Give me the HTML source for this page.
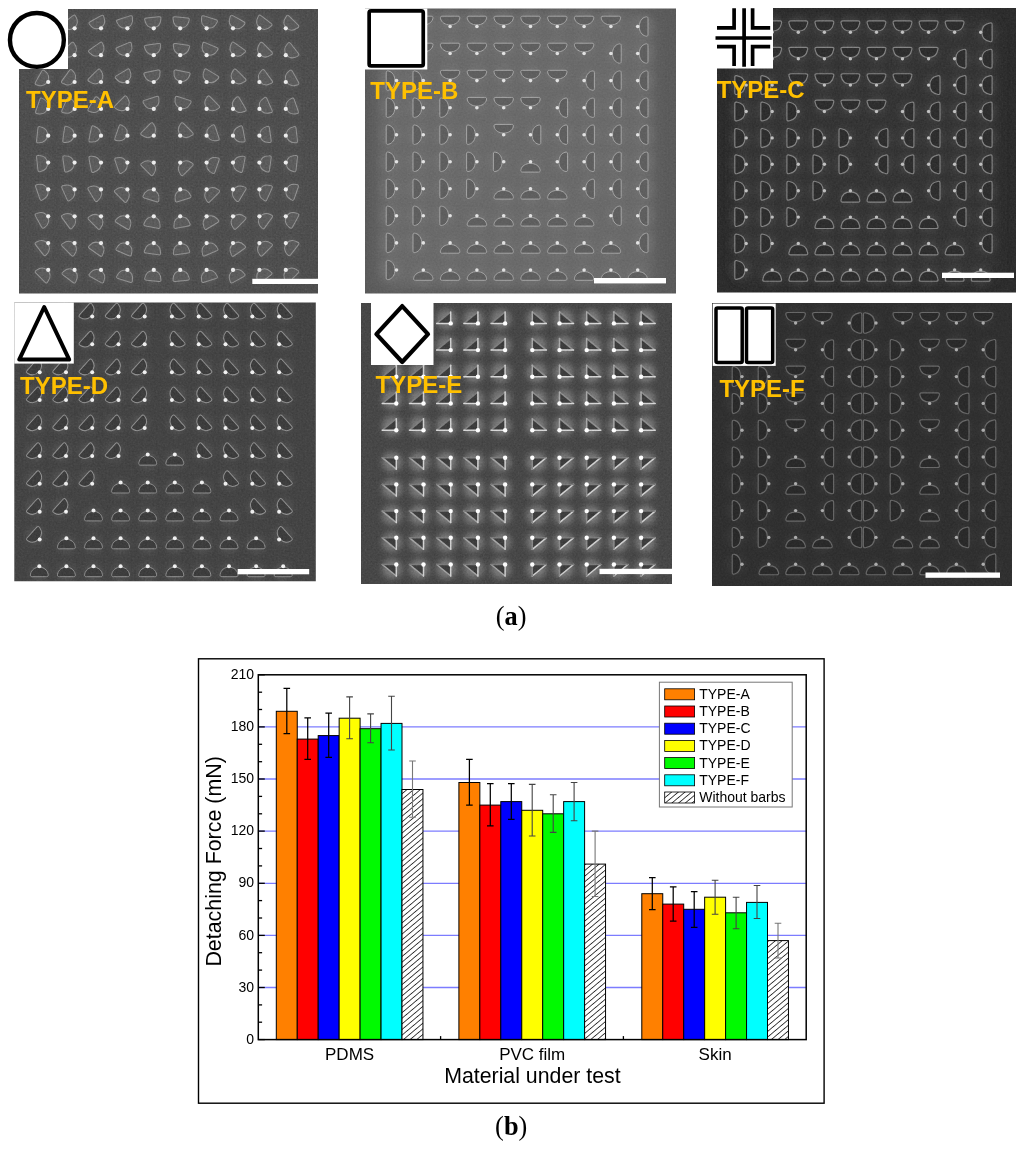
<!DOCTYPE html>
<html lang="en"><head><meta charset="utf-8"><title>Barb types and detaching force</title>
<style>html,body{margin:0;padding:0;background:#fff}body{width:1024px;height:1149px;overflow:hidden}svg{display:block}</style>
</head><body>
<svg width="1024" height="1149" viewBox="0 0 1024 1149">
<defs>
<filter id="glow" x="-20%" y="-20%" width="140%" height="140%"><feGaussianBlur stdDeviation="3"/></filter>
<filter id="glow2" x="-20%" y="-20%" width="140%" height="140%"><feGaussianBlur stdDeviation="7"/></filter>
<filter id="soft" x="-5%" y="-5%" width="110%" height="110%"><feGaussianBlur stdDeviation="0.45"/></filter>
<filter id="grainA" x="0" y="0" width="100%" height="100%" color-interpolation-filters="sRGB"><feTurbulence type="fractalNoise" baseFrequency="0.55" numOctaves="2" seed="3" result="t"/><feColorMatrix in="t" type="matrix" values="0.34 0.33 0.33 0 0  0.34 0.33 0.33 0 0  0.34 0.33 0.33 0 0  0 0 0 0 1" result="n"/><feComposite in="SourceGraphic" in2="n" operator="arithmetic" k1="0" k2="1" k3="0.16" k4="-0.080"/></filter>
<filter id="grainB" x="0" y="0" width="100%" height="100%" color-interpolation-filters="sRGB"><feTurbulence type="fractalNoise" baseFrequency="0.55" numOctaves="2" seed="4" result="t"/><feColorMatrix in="t" type="matrix" values="0.34 0.33 0.33 0 0  0.34 0.33 0.33 0 0  0.34 0.33 0.33 0 0  0 0 0 0 1" result="n"/><feComposite in="SourceGraphic" in2="n" operator="arithmetic" k1="0" k2="1" k3="0.1" k4="-0.050"/></filter>
<filter id="grainC" x="0" y="0" width="100%" height="100%" color-interpolation-filters="sRGB"><feTurbulence type="fractalNoise" baseFrequency="0.55" numOctaves="2" seed="5" result="t"/><feColorMatrix in="t" type="matrix" values="0.34 0.33 0.33 0 0  0.34 0.33 0.33 0 0  0.34 0.33 0.33 0 0  0 0 0 0 1" result="n"/><feComposite in="SourceGraphic" in2="n" operator="arithmetic" k1="0" k2="1" k3="0.14" k4="-0.070"/></filter>
<filter id="grainD" x="0" y="0" width="100%" height="100%" color-interpolation-filters="sRGB"><feTurbulence type="fractalNoise" baseFrequency="0.55" numOctaves="2" seed="6" result="t"/><feColorMatrix in="t" type="matrix" values="0.34 0.33 0.33 0 0  0.34 0.33 0.33 0 0  0.34 0.33 0.33 0 0  0 0 0 0 1" result="n"/><feComposite in="SourceGraphic" in2="n" operator="arithmetic" k1="0" k2="1" k3="0.14" k4="-0.070"/></filter>
<filter id="grainE" x="0" y="0" width="100%" height="100%" color-interpolation-filters="sRGB"><feTurbulence type="fractalNoise" baseFrequency="0.55" numOctaves="2" seed="7" result="t"/><feColorMatrix in="t" type="matrix" values="0.34 0.33 0.33 0 0  0.34 0.33 0.33 0 0  0.34 0.33 0.33 0 0  0 0 0 0 1" result="n"/><feComposite in="SourceGraphic" in2="n" operator="arithmetic" k1="0" k2="1" k3="0.16" k4="-0.080"/></filter>
<filter id="grainF" x="0" y="0" width="100%" height="100%" color-interpolation-filters="sRGB"><feTurbulence type="fractalNoise" baseFrequency="0.55" numOctaves="2" seed="8" result="t"/><feColorMatrix in="t" type="matrix" values="0.34 0.33 0.33 0 0  0.34 0.33 0.33 0 0  0.34 0.33 0.33 0 0  0 0 0 0 1" result="n"/><feComposite in="SourceGraphic" in2="n" operator="arithmetic" k1="0" k2="1" k3="0.1" k4="-0.050"/></filter>
<pattern id="hatch" width="8" height="4.3" patternUnits="userSpaceOnUse" patternTransform="rotate(-40)"><rect width="8" height="4.3" fill="#fff"/><path d="M-1,2.15H9" stroke="#1a1a1a" stroke-width="0.85"/></pattern>
</defs>
<rect width="1024" height="1149" fill="#fff"/>
<g id="panel-A">
<clipPath id="clipA"><rect x="19" y="9" width="299.0" height="284.4"/></clipPath>
<g clip-path="url(#clipA)"><g filter="url(#grainA)">
<rect x="17" y="7" width="303.0" height="288.4" fill="#4e4e4e"/>
<g filter="url(#glow)" opacity="0.45" fill="#707070">
<circle cx="44.0" cy="24.0" r="8"/>
<circle cx="71.0" cy="23.5" r="8"/>
<circle cx="98.1" cy="23.0" r="8"/>
<circle cx="125.5" cy="22.6" r="8"/>
<circle cx="153.1" cy="22.3" r="8"/>
<circle cx="180.9" cy="22.3" r="8"/>
<circle cx="208.5" cy="22.6" r="8"/>
<circle cx="235.9" cy="23.0" r="8"/>
<circle cx="263.0" cy="23.5" r="8"/>
<circle cx="290.0" cy="24.0" r="8"/>
<circle cx="43.5" cy="51.4" r="8"/>
<circle cx="70.4" cy="50.9" r="8"/>
<circle cx="97.6" cy="50.2" r="8"/>
<circle cx="125.1" cy="49.6" r="8"/>
<circle cx="153.0" cy="49.2" r="8"/>
<circle cx="181.0" cy="49.2" r="8"/>
<circle cx="208.9" cy="49.6" r="8"/>
<circle cx="236.4" cy="50.2" r="8"/>
<circle cx="263.6" cy="50.9" r="8"/>
<circle cx="290.5" cy="51.4" r="8"/>
<circle cx="43.0" cy="79.0" r="8"/>
<circle cx="69.7" cy="78.5" r="8"/>
<circle cx="96.8" cy="77.7" r="8"/>
<circle cx="124.4" cy="76.8" r="8"/>
<circle cx="152.6" cy="76.1" r="8"/>
<circle cx="181.4" cy="76.1" r="8"/>
<circle cx="209.6" cy="76.8" r="8"/>
<circle cx="237.2" cy="77.7" r="8"/>
<circle cx="264.3" cy="78.5" r="8"/>
<circle cx="291.0" cy="79.0" r="8"/>
<circle cx="42.5" cy="106.9" r="8"/>
<circle cx="69.1" cy="106.5" r="8"/>
<circle cx="95.9" cy="105.7" r="8"/>
<circle cx="123.2" cy="104.6" r="8"/>
<circle cx="151.9" cy="103.1" r="8"/>
<circle cx="182.1" cy="103.1" r="8"/>
<circle cx="210.8" cy="104.6" r="8"/>
<circle cx="238.1" cy="105.7" r="8"/>
<circle cx="264.9" cy="106.5" r="8"/>
<circle cx="291.5" cy="106.9" r="8"/>
<circle cx="42.2" cy="135.0" r="8"/>
<circle cx="68.7" cy="134.8" r="8"/>
<circle cx="95.1" cy="134.5" r="8"/>
<circle cx="121.7" cy="133.8" r="8"/>
<circle cx="149.6" cy="131.4" r="8"/>
<circle cx="184.4" cy="131.4" r="8"/>
<circle cx="212.3" cy="133.8" r="8"/>
<circle cx="238.9" cy="134.5" r="8"/>
<circle cx="265.3" cy="134.8" r="8"/>
<circle cx="291.8" cy="135.0" r="8"/>
<circle cx="42.2" cy="163.2" r="8"/>
<circle cx="68.7" cy="163.4" r="8"/>
<circle cx="95.1" cy="163.7" r="8"/>
<circle cx="121.7" cy="164.5" r="8"/>
<circle cx="149.6" cy="166.8" r="8"/>
<circle cx="184.4" cy="166.8" r="8"/>
<circle cx="212.3" cy="164.5" r="8"/>
<circle cx="238.9" cy="163.7" r="8"/>
<circle cx="265.3" cy="163.4" r="8"/>
<circle cx="291.8" cy="163.2" r="8"/>
<circle cx="42.5" cy="191.3" r="8"/>
<circle cx="69.1" cy="191.8" r="8"/>
<circle cx="95.9" cy="192.5" r="8"/>
<circle cx="123.2" cy="193.7" r="8"/>
<circle cx="151.9" cy="195.1" r="8"/>
<circle cx="182.1" cy="195.1" r="8"/>
<circle cx="210.8" cy="193.7" r="8"/>
<circle cx="238.1" cy="192.5" r="8"/>
<circle cx="264.9" cy="191.8" r="8"/>
<circle cx="291.5" cy="191.3" r="8"/>
<circle cx="43.0" cy="219.2" r="8"/>
<circle cx="69.7" cy="219.8" r="8"/>
<circle cx="96.8" cy="220.5" r="8"/>
<circle cx="124.4" cy="221.4" r="8"/>
<circle cx="152.6" cy="222.1" r="8"/>
<circle cx="181.4" cy="222.1" r="8"/>
<circle cx="209.6" cy="221.4" r="8"/>
<circle cx="237.2" cy="220.5" r="8"/>
<circle cx="264.3" cy="219.8" r="8"/>
<circle cx="291.0" cy="219.2" r="8"/>
<circle cx="43.5" cy="246.8" r="8"/>
<circle cx="70.4" cy="247.4" r="8"/>
<circle cx="97.6" cy="248.0" r="8"/>
<circle cx="125.1" cy="248.6" r="8"/>
<circle cx="153.0" cy="249.0" r="8"/>
<circle cx="181.0" cy="249.0" r="8"/>
<circle cx="208.9" cy="248.6" r="8"/>
<circle cx="236.4" cy="248.0" r="8"/>
<circle cx="263.6" cy="247.4" r="8"/>
<circle cx="290.5" cy="246.8" r="8"/>
<circle cx="44.0" cy="274.2" r="8"/>
<circle cx="71.0" cy="274.7" r="8"/>
<circle cx="98.1" cy="275.2" r="8"/>
<circle cx="125.5" cy="275.7" r="8"/>
<circle cx="153.1" cy="275.9" r="8"/>
<circle cx="180.9" cy="275.9" r="8"/>
<circle cx="208.5" cy="275.7" r="8"/>
<circle cx="235.9" cy="275.2" r="8"/>
<circle cx="263.0" cy="274.7" r="8"/>
<circle cx="290.0" cy="274.2" r="8"/>
</g>
<g filter="url(#soft)">
<g transform="translate(48.2,28.3) rotate(-135)"><path d="M11.0,-6.3L11.0,6.3C11.0,8.1 10.2,8.5 8.4,8.0C3.9,7.3 0.8,4.2 0.8,0C0.8,-4.2 3.9,-7.3 8.4,-8.0C10.2,-8.5 11.0,-8.1 11.0,-6.3Z" fill="#5c5c5c" stroke="#929292" stroke-width="1.0"/></g><circle cx="48.2" cy="28.3" r="2.1" fill="#ececec"/>
<g transform="translate(74.6,28.3) rotate(-127)"><path d="M11.0,-6.3L11.0,6.3C11.0,8.1 10.2,8.5 8.4,8.0C3.9,7.3 0.8,4.2 0.8,0C0.8,-4.2 3.9,-7.3 8.4,-8.0C10.2,-8.5 11.0,-8.1 11.0,-6.3Z" fill="#5c5c5c" stroke="#929292" stroke-width="1.0"/></g><circle cx="74.6" cy="28.3" r="2.1" fill="#ececec"/>
<g transform="translate(101.0,28.3) rotate(-119)"><path d="M11.0,-6.3L11.0,6.3C11.0,8.1 10.2,8.5 8.4,8.0C3.9,7.3 0.8,4.2 0.8,0C0.8,-4.2 3.9,-7.3 8.4,-8.0C10.2,-8.5 11.0,-8.1 11.0,-6.3Z" fill="#5c5c5c" stroke="#929292" stroke-width="1.0"/></g><circle cx="101.0" cy="28.3" r="2.1" fill="#ececec"/>
<g transform="translate(127.4,28.3) rotate(-108)"><path d="M11.0,-6.3L11.0,6.3C11.0,8.1 10.2,8.5 8.4,8.0C3.9,7.3 0.8,4.2 0.8,0C0.8,-4.2 3.9,-7.3 8.4,-8.0C10.2,-8.5 11.0,-8.1 11.0,-6.3Z" fill="#5c5c5c" stroke="#929292" stroke-width="1.0"/></g><circle cx="127.4" cy="28.3" r="2.1" fill="#ececec"/>
<g transform="translate(153.8,28.3) rotate(-96)"><path d="M11.0,-6.3L11.0,6.3C11.0,8.1 10.2,8.5 8.4,8.0C3.9,7.3 0.8,4.2 0.8,0C0.8,-4.2 3.9,-7.3 8.4,-8.0C10.2,-8.5 11.0,-8.1 11.0,-6.3Z" fill="#5c5c5c" stroke="#929292" stroke-width="1.0"/></g><circle cx="153.8" cy="28.3" r="2.1" fill="#ececec"/>
<g transform="translate(180.2,28.3) rotate(-84)"><path d="M11.0,-6.3L11.0,6.3C11.0,8.1 10.2,8.5 8.4,8.0C3.9,7.3 0.8,4.2 0.8,0C0.8,-4.2 3.9,-7.3 8.4,-8.0C10.2,-8.5 11.0,-8.1 11.0,-6.3Z" fill="#5c5c5c" stroke="#929292" stroke-width="1.0"/></g><circle cx="180.2" cy="28.3" r="2.1" fill="#ececec"/>
<g transform="translate(206.6,28.3) rotate(-72)"><path d="M11.0,-6.3L11.0,6.3C11.0,8.1 10.2,8.5 8.4,8.0C3.9,7.3 0.8,4.2 0.8,0C0.8,-4.2 3.9,-7.3 8.4,-8.0C10.2,-8.5 11.0,-8.1 11.0,-6.3Z" fill="#5c5c5c" stroke="#929292" stroke-width="1.0"/></g><circle cx="206.6" cy="28.3" r="2.1" fill="#ececec"/>
<g transform="translate(233.0,28.3) rotate(-61)"><path d="M11.0,-6.3L11.0,6.3C11.0,8.1 10.2,8.5 8.4,8.0C3.9,7.3 0.8,4.2 0.8,0C0.8,-4.2 3.9,-7.3 8.4,-8.0C10.2,-8.5 11.0,-8.1 11.0,-6.3Z" fill="#5c5c5c" stroke="#929292" stroke-width="1.0"/></g><circle cx="233.0" cy="28.3" r="2.1" fill="#ececec"/>
<g transform="translate(259.4,28.3) rotate(-53)"><path d="M11.0,-6.3L11.0,6.3C11.0,8.1 10.2,8.5 8.4,8.0C3.9,7.3 0.8,4.2 0.8,0C0.8,-4.2 3.9,-7.3 8.4,-8.0C10.2,-8.5 11.0,-8.1 11.0,-6.3Z" fill="#5c5c5c" stroke="#929292" stroke-width="1.0"/></g><circle cx="259.4" cy="28.3" r="2.1" fill="#ececec"/>
<g transform="translate(285.8,28.3) rotate(-45)"><path d="M11.0,-6.3L11.0,6.3C11.0,8.1 10.2,8.5 8.4,8.0C3.9,7.3 0.8,4.2 0.8,0C0.8,-4.2 3.9,-7.3 8.4,-8.0C10.2,-8.5 11.0,-8.1 11.0,-6.3Z" fill="#5c5c5c" stroke="#929292" stroke-width="1.0"/></g><circle cx="285.8" cy="28.3" r="2.1" fill="#ececec"/>
<g transform="translate(48.2,55.2) rotate(-142)"><path d="M11.0,-6.3L11.0,6.3C11.0,8.1 10.2,8.5 8.4,8.0C3.9,7.3 0.8,4.2 0.8,0C0.8,-4.2 3.9,-7.3 8.4,-8.0C10.2,-8.5 11.0,-8.1 11.0,-6.3Z" fill="#5c5c5c" stroke="#929292" stroke-width="1.0"/></g><circle cx="48.2" cy="55.2" r="2.1" fill="#ececec"/>
<g transform="translate(74.6,55.2) rotate(-135)"><path d="M11.0,-6.3L11.0,6.3C11.0,8.1 10.2,8.5 8.4,8.0C3.9,7.3 0.8,4.2 0.8,0C0.8,-4.2 3.9,-7.3 8.4,-8.0C10.2,-8.5 11.0,-8.1 11.0,-6.3Z" fill="#5c5c5c" stroke="#929292" stroke-width="1.0"/></g><circle cx="74.6" cy="55.2" r="2.1" fill="#ececec"/>
<g transform="translate(101.0,55.2) rotate(-125)"><path d="M11.0,-6.3L11.0,6.3C11.0,8.1 10.2,8.5 8.4,8.0C3.9,7.3 0.8,4.2 0.8,0C0.8,-4.2 3.9,-7.3 8.4,-8.0C10.2,-8.5 11.0,-8.1 11.0,-6.3Z" fill="#5c5c5c" stroke="#929292" stroke-width="1.0"/></g><circle cx="101.0" cy="55.2" r="2.1" fill="#ececec"/>
<g transform="translate(127.4,55.2) rotate(-113)"><path d="M11.0,-6.3L11.0,6.3C11.0,8.1 10.2,8.5 8.4,8.0C3.9,7.3 0.8,4.2 0.8,0C0.8,-4.2 3.9,-7.3 8.4,-8.0C10.2,-8.5 11.0,-8.1 11.0,-6.3Z" fill="#5c5c5c" stroke="#929292" stroke-width="1.0"/></g><circle cx="127.4" cy="55.2" r="2.1" fill="#ececec"/>
<g transform="translate(153.8,55.2) rotate(-98)"><path d="M11.0,-6.3L11.0,6.3C11.0,8.1 10.2,8.5 8.4,8.0C3.9,7.3 0.8,4.2 0.8,0C0.8,-4.2 3.9,-7.3 8.4,-8.0C10.2,-8.5 11.0,-8.1 11.0,-6.3Z" fill="#5c5c5c" stroke="#929292" stroke-width="1.0"/></g><circle cx="153.8" cy="55.2" r="2.1" fill="#ececec"/>
<g transform="translate(180.2,55.2) rotate(-82)"><path d="M11.0,-6.3L11.0,6.3C11.0,8.1 10.2,8.5 8.4,8.0C3.9,7.3 0.8,4.2 0.8,0C0.8,-4.2 3.9,-7.3 8.4,-8.0C10.2,-8.5 11.0,-8.1 11.0,-6.3Z" fill="#5c5c5c" stroke="#929292" stroke-width="1.0"/></g><circle cx="180.2" cy="55.2" r="2.1" fill="#ececec"/>
<g transform="translate(206.6,55.2) rotate(-67)"><path d="M11.0,-6.3L11.0,6.3C11.0,8.1 10.2,8.5 8.4,8.0C3.9,7.3 0.8,4.2 0.8,0C0.8,-4.2 3.9,-7.3 8.4,-8.0C10.2,-8.5 11.0,-8.1 11.0,-6.3Z" fill="#5c5c5c" stroke="#929292" stroke-width="1.0"/></g><circle cx="206.6" cy="55.2" r="2.1" fill="#ececec"/>
<g transform="translate(233.0,55.2) rotate(-55)"><path d="M11.0,-6.3L11.0,6.3C11.0,8.1 10.2,8.5 8.4,8.0C3.9,7.3 0.8,4.2 0.8,0C0.8,-4.2 3.9,-7.3 8.4,-8.0C10.2,-8.5 11.0,-8.1 11.0,-6.3Z" fill="#5c5c5c" stroke="#929292" stroke-width="1.0"/></g><circle cx="233.0" cy="55.2" r="2.1" fill="#ececec"/>
<g transform="translate(259.4,55.2) rotate(-45)"><path d="M11.0,-6.3L11.0,6.3C11.0,8.1 10.2,8.5 8.4,8.0C3.9,7.3 0.8,4.2 0.8,0C0.8,-4.2 3.9,-7.3 8.4,-8.0C10.2,-8.5 11.0,-8.1 11.0,-6.3Z" fill="#5c5c5c" stroke="#929292" stroke-width="1.0"/></g><circle cx="259.4" cy="55.2" r="2.1" fill="#ececec"/>
<g transform="translate(285.8,55.2) rotate(-38)"><path d="M11.0,-6.3L11.0,6.3C11.0,8.1 10.2,8.5 8.4,8.0C3.9,7.3 0.8,4.2 0.8,0C0.8,-4.2 3.9,-7.3 8.4,-8.0C10.2,-8.5 11.0,-8.1 11.0,-6.3Z" fill="#5c5c5c" stroke="#929292" stroke-width="1.0"/></g><circle cx="285.8" cy="55.2" r="2.1" fill="#ececec"/>
<g transform="translate(48.2,82.0) rotate(-151)"><path d="M11.0,-6.3L11.0,6.3C11.0,8.1 10.2,8.5 8.4,8.0C3.9,7.3 0.8,4.2 0.8,0C0.8,-4.2 3.9,-7.3 8.4,-8.0C10.2,-8.5 11.0,-8.1 11.0,-6.3Z" fill="#5c5c5c" stroke="#929292" stroke-width="1.0"/></g><circle cx="48.2" cy="82.0" r="2.1" fill="#ececec"/>
<g transform="translate(74.6,82.0) rotate(-144)"><path d="M11.0,-6.3L11.0,6.3C11.0,8.1 10.2,8.5 8.4,8.0C3.9,7.3 0.8,4.2 0.8,0C0.8,-4.2 3.9,-7.3 8.4,-8.0C10.2,-8.5 11.0,-8.1 11.0,-6.3Z" fill="#5c5c5c" stroke="#929292" stroke-width="1.0"/></g><circle cx="74.6" cy="82.0" r="2.1" fill="#ececec"/>
<g transform="translate(101.0,82.0) rotate(-135)"><path d="M11.0,-6.3L11.0,6.3C11.0,8.1 10.2,8.5 8.4,8.0C3.9,7.3 0.8,4.2 0.8,0C0.8,-4.2 3.9,-7.3 8.4,-8.0C10.2,-8.5 11.0,-8.1 11.0,-6.3Z" fill="#5c5c5c" stroke="#929292" stroke-width="1.0"/></g><circle cx="101.0" cy="82.0" r="2.1" fill="#ececec"/>
<g transform="translate(127.4,82.0) rotate(-121)"><path d="M11.0,-6.3L11.0,6.3C11.0,8.1 10.2,8.5 8.4,8.0C3.9,7.3 0.8,4.2 0.8,0C0.8,-4.2 3.9,-7.3 8.4,-8.0C10.2,-8.5 11.0,-8.1 11.0,-6.3Z" fill="#5c5c5c" stroke="#929292" stroke-width="1.0"/></g><circle cx="127.4" cy="82.0" r="2.1" fill="#ececec"/>
<g transform="translate(153.8,82.0) rotate(-101)"><path d="M11.0,-6.3L11.0,6.3C11.0,8.1 10.2,8.5 8.4,8.0C3.9,7.3 0.8,4.2 0.8,0C0.8,-4.2 3.9,-7.3 8.4,-8.0C10.2,-8.5 11.0,-8.1 11.0,-6.3Z" fill="#5c5c5c" stroke="#929292" stroke-width="1.0"/></g><circle cx="153.8" cy="82.0" r="2.1" fill="#ececec"/>
<g transform="translate(180.2,82.0) rotate(-79)"><path d="M11.0,-6.3L11.0,6.3C11.0,8.1 10.2,8.5 8.4,8.0C3.9,7.3 0.8,4.2 0.8,0C0.8,-4.2 3.9,-7.3 8.4,-8.0C10.2,-8.5 11.0,-8.1 11.0,-6.3Z" fill="#5c5c5c" stroke="#929292" stroke-width="1.0"/></g><circle cx="180.2" cy="82.0" r="2.1" fill="#ececec"/>
<g transform="translate(206.6,82.0) rotate(-59)"><path d="M11.0,-6.3L11.0,6.3C11.0,8.1 10.2,8.5 8.4,8.0C3.9,7.3 0.8,4.2 0.8,0C0.8,-4.2 3.9,-7.3 8.4,-8.0C10.2,-8.5 11.0,-8.1 11.0,-6.3Z" fill="#5c5c5c" stroke="#929292" stroke-width="1.0"/></g><circle cx="206.6" cy="82.0" r="2.1" fill="#ececec"/>
<g transform="translate(233.0,82.0) rotate(-45)"><path d="M11.0,-6.3L11.0,6.3C11.0,8.1 10.2,8.5 8.4,8.0C3.9,7.3 0.8,4.2 0.8,0C0.8,-4.2 3.9,-7.3 8.4,-8.0C10.2,-8.5 11.0,-8.1 11.0,-6.3Z" fill="#5c5c5c" stroke="#929292" stroke-width="1.0"/></g><circle cx="233.0" cy="82.0" r="2.1" fill="#ececec"/>
<g transform="translate(259.4,82.0) rotate(-36)"><path d="M11.0,-6.3L11.0,6.3C11.0,8.1 10.2,8.5 8.4,8.0C3.9,7.3 0.8,4.2 0.8,0C0.8,-4.2 3.9,-7.3 8.4,-8.0C10.2,-8.5 11.0,-8.1 11.0,-6.3Z" fill="#5c5c5c" stroke="#929292" stroke-width="1.0"/></g><circle cx="259.4" cy="82.0" r="2.1" fill="#ececec"/>
<g transform="translate(285.8,82.0) rotate(-29)"><path d="M11.0,-6.3L11.0,6.3C11.0,8.1 10.2,8.5 8.4,8.0C3.9,7.3 0.8,4.2 0.8,0C0.8,-4.2 3.9,-7.3 8.4,-8.0C10.2,-8.5 11.0,-8.1 11.0,-6.3Z" fill="#5c5c5c" stroke="#929292" stroke-width="1.0"/></g><circle cx="285.8" cy="82.0" r="2.1" fill="#ececec"/>
<g transform="translate(48.2,108.9) rotate(-161)"><path d="M11.0,-6.3L11.0,6.3C11.0,8.1 10.2,8.5 8.4,8.0C3.9,7.3 0.8,4.2 0.8,0C0.8,-4.2 3.9,-7.3 8.4,-8.0C10.2,-8.5 11.0,-8.1 11.0,-6.3Z" fill="#5c5c5c" stroke="#929292" stroke-width="1.0"/></g><circle cx="48.2" cy="108.9" r="2.1" fill="#ececec"/>
<g transform="translate(74.6,108.9) rotate(-156)"><path d="M11.0,-6.3L11.0,6.3C11.0,8.1 10.2,8.5 8.4,8.0C3.9,7.3 0.8,4.2 0.8,0C0.8,-4.2 3.9,-7.3 8.4,-8.0C10.2,-8.5 11.0,-8.1 11.0,-6.3Z" fill="#5c5c5c" stroke="#929292" stroke-width="1.0"/></g><circle cx="74.6" cy="108.9" r="2.1" fill="#ececec"/>
<g transform="translate(101.0,108.9) rotate(-149)"><path d="M11.0,-6.3L11.0,6.3C11.0,8.1 10.2,8.5 8.4,8.0C3.9,7.3 0.8,4.2 0.8,0C0.8,-4.2 3.9,-7.3 8.4,-8.0C10.2,-8.5 11.0,-8.1 11.0,-6.3Z" fill="#5c5c5c" stroke="#929292" stroke-width="1.0"/></g><circle cx="101.0" cy="108.9" r="2.1" fill="#ececec"/>
<g transform="translate(127.4,108.9) rotate(-135)"><path d="M11.0,-6.3L11.0,6.3C11.0,8.1 10.2,8.5 8.4,8.0C3.9,7.3 0.8,4.2 0.8,0C0.8,-4.2 3.9,-7.3 8.4,-8.0C10.2,-8.5 11.0,-8.1 11.0,-6.3Z" fill="#5c5c5c" stroke="#929292" stroke-width="1.0"/></g><circle cx="127.4" cy="108.9" r="2.1" fill="#ececec"/>
<g transform="translate(153.8,108.9) rotate(-108)"><path d="M11.0,-6.3L11.0,6.3C11.0,8.1 10.2,8.5 8.4,8.0C3.9,7.3 0.8,4.2 0.8,0C0.8,-4.2 3.9,-7.3 8.4,-8.0C10.2,-8.5 11.0,-8.1 11.0,-6.3Z" fill="#5c5c5c" stroke="#929292" stroke-width="1.0"/></g><circle cx="153.8" cy="108.9" r="2.1" fill="#ececec"/>
<g transform="translate(180.2,108.9) rotate(-72)"><path d="M11.0,-6.3L11.0,6.3C11.0,8.1 10.2,8.5 8.4,8.0C3.9,7.3 0.8,4.2 0.8,0C0.8,-4.2 3.9,-7.3 8.4,-8.0C10.2,-8.5 11.0,-8.1 11.0,-6.3Z" fill="#5c5c5c" stroke="#929292" stroke-width="1.0"/></g><circle cx="180.2" cy="108.9" r="2.1" fill="#ececec"/>
<g transform="translate(206.6,108.9) rotate(-45)"><path d="M11.0,-6.3L11.0,6.3C11.0,8.1 10.2,8.5 8.4,8.0C3.9,7.3 0.8,4.2 0.8,0C0.8,-4.2 3.9,-7.3 8.4,-8.0C10.2,-8.5 11.0,-8.1 11.0,-6.3Z" fill="#5c5c5c" stroke="#929292" stroke-width="1.0"/></g><circle cx="206.6" cy="108.9" r="2.1" fill="#ececec"/>
<g transform="translate(233.0,108.9) rotate(-31)"><path d="M11.0,-6.3L11.0,6.3C11.0,8.1 10.2,8.5 8.4,8.0C3.9,7.3 0.8,4.2 0.8,0C0.8,-4.2 3.9,-7.3 8.4,-8.0C10.2,-8.5 11.0,-8.1 11.0,-6.3Z" fill="#5c5c5c" stroke="#929292" stroke-width="1.0"/></g><circle cx="233.0" cy="108.9" r="2.1" fill="#ececec"/>
<g transform="translate(259.4,108.9) rotate(-24)"><path d="M11.0,-6.3L11.0,6.3C11.0,8.1 10.2,8.5 8.4,8.0C3.9,7.3 0.8,4.2 0.8,0C0.8,-4.2 3.9,-7.3 8.4,-8.0C10.2,-8.5 11.0,-8.1 11.0,-6.3Z" fill="#5c5c5c" stroke="#929292" stroke-width="1.0"/></g><circle cx="259.4" cy="108.9" r="2.1" fill="#ececec"/>
<g transform="translate(285.8,108.9) rotate(-19)"><path d="M11.0,-6.3L11.0,6.3C11.0,8.1 10.2,8.5 8.4,8.0C3.9,7.3 0.8,4.2 0.8,0C0.8,-4.2 3.9,-7.3 8.4,-8.0C10.2,-8.5 11.0,-8.1 11.0,-6.3Z" fill="#5c5c5c" stroke="#929292" stroke-width="1.0"/></g><circle cx="285.8" cy="108.9" r="2.1" fill="#ececec"/>
<g transform="translate(48.2,135.7) rotate(-174)"><path d="M11.0,-6.3L11.0,6.3C11.0,8.1 10.2,8.5 8.4,8.0C3.9,7.3 0.8,4.2 0.8,0C0.8,-4.2 3.9,-7.3 8.4,-8.0C10.2,-8.5 11.0,-8.1 11.0,-6.3Z" fill="#5c5c5c" stroke="#929292" stroke-width="1.0"/></g><circle cx="48.2" cy="135.7" r="2.1" fill="#ececec"/>
<g transform="translate(74.6,135.7) rotate(-172)"><path d="M11.0,-6.3L11.0,6.3C11.0,8.1 10.2,8.5 8.4,8.0C3.9,7.3 0.8,4.2 0.8,0C0.8,-4.2 3.9,-7.3 8.4,-8.0C10.2,-8.5 11.0,-8.1 11.0,-6.3Z" fill="#5c5c5c" stroke="#929292" stroke-width="1.0"/></g><circle cx="74.6" cy="135.7" r="2.1" fill="#ececec"/>
<g transform="translate(101.0,135.7) rotate(-169)"><path d="M11.0,-6.3L11.0,6.3C11.0,8.1 10.2,8.5 8.4,8.0C3.9,7.3 0.8,4.2 0.8,0C0.8,-4.2 3.9,-7.3 8.4,-8.0C10.2,-8.5 11.0,-8.1 11.0,-6.3Z" fill="#5c5c5c" stroke="#929292" stroke-width="1.0"/></g><circle cx="101.0" cy="135.7" r="2.1" fill="#ececec"/>
<g transform="translate(127.4,135.7) rotate(-161)"><path d="M11.0,-6.3L11.0,6.3C11.0,8.1 10.2,8.5 8.4,8.0C3.9,7.3 0.8,4.2 0.8,0C0.8,-4.2 3.9,-7.3 8.4,-8.0C10.2,-8.5 11.0,-8.1 11.0,-6.3Z" fill="#5c5c5c" stroke="#929292" stroke-width="1.0"/></g><circle cx="127.4" cy="135.7" r="2.1" fill="#ececec"/>
<g transform="translate(153.8,135.7) rotate(-135)"><path d="M11.0,-6.3L11.0,6.3C11.0,8.1 10.2,8.5 8.4,8.0C3.9,7.3 0.8,4.2 0.8,0C0.8,-4.2 3.9,-7.3 8.4,-8.0C10.2,-8.5 11.0,-8.1 11.0,-6.3Z" fill="#5c5c5c" stroke="#929292" stroke-width="1.0"/></g><circle cx="153.8" cy="135.7" r="2.1" fill="#ececec"/>
<g transform="translate(180.2,135.7) rotate(-45)"><path d="M11.0,-6.3L11.0,6.3C11.0,8.1 10.2,8.5 8.4,8.0C3.9,7.3 0.8,4.2 0.8,0C0.8,-4.2 3.9,-7.3 8.4,-8.0C10.2,-8.5 11.0,-8.1 11.0,-6.3Z" fill="#5c5c5c" stroke="#929292" stroke-width="1.0"/></g><circle cx="180.2" cy="135.7" r="2.1" fill="#ececec"/>
<g transform="translate(206.6,135.7) rotate(-19)"><path d="M11.0,-6.3L11.0,6.3C11.0,8.1 10.2,8.5 8.4,8.0C3.9,7.3 0.8,4.2 0.8,0C0.8,-4.2 3.9,-7.3 8.4,-8.0C10.2,-8.5 11.0,-8.1 11.0,-6.3Z" fill="#5c5c5c" stroke="#929292" stroke-width="1.0"/></g><circle cx="206.6" cy="135.7" r="2.1" fill="#ececec"/>
<g transform="translate(233.0,135.7) rotate(-11)"><path d="M11.0,-6.3L11.0,6.3C11.0,8.1 10.2,8.5 8.4,8.0C3.9,7.3 0.8,4.2 0.8,0C0.8,-4.2 3.9,-7.3 8.4,-8.0C10.2,-8.5 11.0,-8.1 11.0,-6.3Z" fill="#5c5c5c" stroke="#929292" stroke-width="1.0"/></g><circle cx="233.0" cy="135.7" r="2.1" fill="#ececec"/>
<g transform="translate(259.4,135.7) rotate(-8)"><path d="M11.0,-6.3L11.0,6.3C11.0,8.1 10.2,8.5 8.4,8.0C3.9,7.3 0.8,4.2 0.8,0C0.8,-4.2 3.9,-7.3 8.4,-8.0C10.2,-8.5 11.0,-8.1 11.0,-6.3Z" fill="#5c5c5c" stroke="#929292" stroke-width="1.0"/></g><circle cx="259.4" cy="135.7" r="2.1" fill="#ececec"/>
<g transform="translate(285.8,135.7) rotate(-6)"><path d="M11.0,-6.3L11.0,6.3C11.0,8.1 10.2,8.5 8.4,8.0C3.9,7.3 0.8,4.2 0.8,0C0.8,-4.2 3.9,-7.3 8.4,-8.0C10.2,-8.5 11.0,-8.1 11.0,-6.3Z" fill="#5c5c5c" stroke="#929292" stroke-width="1.0"/></g><circle cx="285.8" cy="135.7" r="2.1" fill="#ececec"/>
<g transform="translate(48.2,162.6) rotate(174)"><path d="M11.0,-6.3L11.0,6.3C11.0,8.1 10.2,8.5 8.4,8.0C3.9,7.3 0.8,4.2 0.8,0C0.8,-4.2 3.9,-7.3 8.4,-8.0C10.2,-8.5 11.0,-8.1 11.0,-6.3Z" fill="#5c5c5c" stroke="#929292" stroke-width="1.0"/></g><circle cx="48.2" cy="162.6" r="2.1" fill="#ececec"/>
<g transform="translate(74.6,162.6) rotate(172)"><path d="M11.0,-6.3L11.0,6.3C11.0,8.1 10.2,8.5 8.4,8.0C3.9,7.3 0.8,4.2 0.8,0C0.8,-4.2 3.9,-7.3 8.4,-8.0C10.2,-8.5 11.0,-8.1 11.0,-6.3Z" fill="#5c5c5c" stroke="#929292" stroke-width="1.0"/></g><circle cx="74.6" cy="162.6" r="2.1" fill="#ececec"/>
<g transform="translate(101.0,162.6) rotate(169)"><path d="M11.0,-6.3L11.0,6.3C11.0,8.1 10.2,8.5 8.4,8.0C3.9,7.3 0.8,4.2 0.8,0C0.8,-4.2 3.9,-7.3 8.4,-8.0C10.2,-8.5 11.0,-8.1 11.0,-6.3Z" fill="#5c5c5c" stroke="#929292" stroke-width="1.0"/></g><circle cx="101.0" cy="162.6" r="2.1" fill="#ececec"/>
<g transform="translate(127.4,162.6) rotate(161)"><path d="M11.0,-6.3L11.0,6.3C11.0,8.1 10.2,8.5 8.4,8.0C3.9,7.3 0.8,4.2 0.8,0C0.8,-4.2 3.9,-7.3 8.4,-8.0C10.2,-8.5 11.0,-8.1 11.0,-6.3Z" fill="#5c5c5c" stroke="#929292" stroke-width="1.0"/></g><circle cx="127.4" cy="162.6" r="2.1" fill="#ececec"/>
<g transform="translate(153.8,162.6) rotate(135)"><path d="M11.0,-6.3L11.0,6.3C11.0,8.1 10.2,8.5 8.4,8.0C3.9,7.3 0.8,4.2 0.8,0C0.8,-4.2 3.9,-7.3 8.4,-8.0C10.2,-8.5 11.0,-8.1 11.0,-6.3Z" fill="#5c5c5c" stroke="#929292" stroke-width="1.0"/></g><circle cx="153.8" cy="162.6" r="2.1" fill="#ececec"/>
<g transform="translate(180.2,162.6) rotate(45)"><path d="M11.0,-6.3L11.0,6.3C11.0,8.1 10.2,8.5 8.4,8.0C3.9,7.3 0.8,4.2 0.8,0C0.8,-4.2 3.9,-7.3 8.4,-8.0C10.2,-8.5 11.0,-8.1 11.0,-6.3Z" fill="#5c5c5c" stroke="#929292" stroke-width="1.0"/></g><circle cx="180.2" cy="162.6" r="2.1" fill="#ececec"/>
<g transform="translate(206.6,162.6) rotate(19)"><path d="M11.0,-6.3L11.0,6.3C11.0,8.1 10.2,8.5 8.4,8.0C3.9,7.3 0.8,4.2 0.8,0C0.8,-4.2 3.9,-7.3 8.4,-8.0C10.2,-8.5 11.0,-8.1 11.0,-6.3Z" fill="#5c5c5c" stroke="#929292" stroke-width="1.0"/></g><circle cx="206.6" cy="162.6" r="2.1" fill="#ececec"/>
<g transform="translate(233.0,162.6) rotate(11)"><path d="M11.0,-6.3L11.0,6.3C11.0,8.1 10.2,8.5 8.4,8.0C3.9,7.3 0.8,4.2 0.8,0C0.8,-4.2 3.9,-7.3 8.4,-8.0C10.2,-8.5 11.0,-8.1 11.0,-6.3Z" fill="#5c5c5c" stroke="#929292" stroke-width="1.0"/></g><circle cx="233.0" cy="162.6" r="2.1" fill="#ececec"/>
<g transform="translate(259.4,162.6) rotate(8)"><path d="M11.0,-6.3L11.0,6.3C11.0,8.1 10.2,8.5 8.4,8.0C3.9,7.3 0.8,4.2 0.8,0C0.8,-4.2 3.9,-7.3 8.4,-8.0C10.2,-8.5 11.0,-8.1 11.0,-6.3Z" fill="#5c5c5c" stroke="#929292" stroke-width="1.0"/></g><circle cx="259.4" cy="162.6" r="2.1" fill="#ececec"/>
<g transform="translate(285.8,162.6) rotate(6)"><path d="M11.0,-6.3L11.0,6.3C11.0,8.1 10.2,8.5 8.4,8.0C3.9,7.3 0.8,4.2 0.8,0C0.8,-4.2 3.9,-7.3 8.4,-8.0C10.2,-8.5 11.0,-8.1 11.0,-6.3Z" fill="#5c5c5c" stroke="#929292" stroke-width="1.0"/></g><circle cx="285.8" cy="162.6" r="2.1" fill="#ececec"/>
<g transform="translate(48.2,189.4) rotate(161)"><path d="M11.0,-6.3L11.0,6.3C11.0,8.1 10.2,8.5 8.4,8.0C3.9,7.3 0.8,4.2 0.8,0C0.8,-4.2 3.9,-7.3 8.4,-8.0C10.2,-8.5 11.0,-8.1 11.0,-6.3Z" fill="#5c5c5c" stroke="#929292" stroke-width="1.0"/></g><circle cx="48.2" cy="189.4" r="2.1" fill="#ececec"/>
<g transform="translate(74.6,189.4) rotate(156)"><path d="M11.0,-6.3L11.0,6.3C11.0,8.1 10.2,8.5 8.4,8.0C3.9,7.3 0.8,4.2 0.8,0C0.8,-4.2 3.9,-7.3 8.4,-8.0C10.2,-8.5 11.0,-8.1 11.0,-6.3Z" fill="#5c5c5c" stroke="#929292" stroke-width="1.0"/></g><circle cx="74.6" cy="189.4" r="2.1" fill="#ececec"/>
<g transform="translate(101.0,189.4) rotate(149)"><path d="M11.0,-6.3L11.0,6.3C11.0,8.1 10.2,8.5 8.4,8.0C3.9,7.3 0.8,4.2 0.8,0C0.8,-4.2 3.9,-7.3 8.4,-8.0C10.2,-8.5 11.0,-8.1 11.0,-6.3Z" fill="#5c5c5c" stroke="#929292" stroke-width="1.0"/></g><circle cx="101.0" cy="189.4" r="2.1" fill="#ececec"/>
<g transform="translate(127.4,189.4) rotate(135)"><path d="M11.0,-6.3L11.0,6.3C11.0,8.1 10.2,8.5 8.4,8.0C3.9,7.3 0.8,4.2 0.8,0C0.8,-4.2 3.9,-7.3 8.4,-8.0C10.2,-8.5 11.0,-8.1 11.0,-6.3Z" fill="#5c5c5c" stroke="#929292" stroke-width="1.0"/></g><circle cx="127.4" cy="189.4" r="2.1" fill="#ececec"/>
<g transform="translate(153.8,189.4) rotate(108)"><path d="M11.0,-6.3L11.0,6.3C11.0,8.1 10.2,8.5 8.4,8.0C3.9,7.3 0.8,4.2 0.8,0C0.8,-4.2 3.9,-7.3 8.4,-8.0C10.2,-8.5 11.0,-8.1 11.0,-6.3Z" fill="#5c5c5c" stroke="#929292" stroke-width="1.0"/></g><circle cx="153.8" cy="189.4" r="2.1" fill="#ececec"/>
<g transform="translate(180.2,189.4) rotate(72)"><path d="M11.0,-6.3L11.0,6.3C11.0,8.1 10.2,8.5 8.4,8.0C3.9,7.3 0.8,4.2 0.8,0C0.8,-4.2 3.9,-7.3 8.4,-8.0C10.2,-8.5 11.0,-8.1 11.0,-6.3Z" fill="#5c5c5c" stroke="#929292" stroke-width="1.0"/></g><circle cx="180.2" cy="189.4" r="2.1" fill="#ececec"/>
<g transform="translate(206.6,189.4) rotate(45)"><path d="M11.0,-6.3L11.0,6.3C11.0,8.1 10.2,8.5 8.4,8.0C3.9,7.3 0.8,4.2 0.8,0C0.8,-4.2 3.9,-7.3 8.4,-8.0C10.2,-8.5 11.0,-8.1 11.0,-6.3Z" fill="#5c5c5c" stroke="#929292" stroke-width="1.0"/></g><circle cx="206.6" cy="189.4" r="2.1" fill="#ececec"/>
<g transform="translate(233.0,189.4) rotate(31)"><path d="M11.0,-6.3L11.0,6.3C11.0,8.1 10.2,8.5 8.4,8.0C3.9,7.3 0.8,4.2 0.8,0C0.8,-4.2 3.9,-7.3 8.4,-8.0C10.2,-8.5 11.0,-8.1 11.0,-6.3Z" fill="#5c5c5c" stroke="#929292" stroke-width="1.0"/></g><circle cx="233.0" cy="189.4" r="2.1" fill="#ececec"/>
<g transform="translate(259.4,189.4) rotate(24)"><path d="M11.0,-6.3L11.0,6.3C11.0,8.1 10.2,8.5 8.4,8.0C3.9,7.3 0.8,4.2 0.8,0C0.8,-4.2 3.9,-7.3 8.4,-8.0C10.2,-8.5 11.0,-8.1 11.0,-6.3Z" fill="#5c5c5c" stroke="#929292" stroke-width="1.0"/></g><circle cx="259.4" cy="189.4" r="2.1" fill="#ececec"/>
<g transform="translate(285.8,189.4) rotate(19)"><path d="M11.0,-6.3L11.0,6.3C11.0,8.1 10.2,8.5 8.4,8.0C3.9,7.3 0.8,4.2 0.8,0C0.8,-4.2 3.9,-7.3 8.4,-8.0C10.2,-8.5 11.0,-8.1 11.0,-6.3Z" fill="#5c5c5c" stroke="#929292" stroke-width="1.0"/></g><circle cx="285.8" cy="189.4" r="2.1" fill="#ececec"/>
<g transform="translate(48.2,216.3) rotate(151)"><path d="M11.0,-6.3L11.0,6.3C11.0,8.1 10.2,8.5 8.4,8.0C3.9,7.3 0.8,4.2 0.8,0C0.8,-4.2 3.9,-7.3 8.4,-8.0C10.2,-8.5 11.0,-8.1 11.0,-6.3Z" fill="#5c5c5c" stroke="#929292" stroke-width="1.0"/></g><circle cx="48.2" cy="216.3" r="2.1" fill="#ececec"/>
<g transform="translate(74.6,216.3) rotate(144)"><path d="M11.0,-6.3L11.0,6.3C11.0,8.1 10.2,8.5 8.4,8.0C3.9,7.3 0.8,4.2 0.8,0C0.8,-4.2 3.9,-7.3 8.4,-8.0C10.2,-8.5 11.0,-8.1 11.0,-6.3Z" fill="#5c5c5c" stroke="#929292" stroke-width="1.0"/></g><circle cx="74.6" cy="216.3" r="2.1" fill="#ececec"/>
<g transform="translate(101.0,216.3) rotate(135)"><path d="M11.0,-6.3L11.0,6.3C11.0,8.1 10.2,8.5 8.4,8.0C3.9,7.3 0.8,4.2 0.8,0C0.8,-4.2 3.9,-7.3 8.4,-8.0C10.2,-8.5 11.0,-8.1 11.0,-6.3Z" fill="#5c5c5c" stroke="#929292" stroke-width="1.0"/></g><circle cx="101.0" cy="216.3" r="2.1" fill="#ececec"/>
<g transform="translate(127.4,216.3) rotate(121)"><path d="M11.0,-6.3L11.0,6.3C11.0,8.1 10.2,8.5 8.4,8.0C3.9,7.3 0.8,4.2 0.8,0C0.8,-4.2 3.9,-7.3 8.4,-8.0C10.2,-8.5 11.0,-8.1 11.0,-6.3Z" fill="#5c5c5c" stroke="#929292" stroke-width="1.0"/></g><circle cx="127.4" cy="216.3" r="2.1" fill="#ececec"/>
<g transform="translate(153.8,216.3) rotate(101)"><path d="M11.0,-6.3L11.0,6.3C11.0,8.1 10.2,8.5 8.4,8.0C3.9,7.3 0.8,4.2 0.8,0C0.8,-4.2 3.9,-7.3 8.4,-8.0C10.2,-8.5 11.0,-8.1 11.0,-6.3Z" fill="#5c5c5c" stroke="#929292" stroke-width="1.0"/></g><circle cx="153.8" cy="216.3" r="2.1" fill="#ececec"/>
<g transform="translate(180.2,216.3) rotate(79)"><path d="M11.0,-6.3L11.0,6.3C11.0,8.1 10.2,8.5 8.4,8.0C3.9,7.3 0.8,4.2 0.8,0C0.8,-4.2 3.9,-7.3 8.4,-8.0C10.2,-8.5 11.0,-8.1 11.0,-6.3Z" fill="#5c5c5c" stroke="#929292" stroke-width="1.0"/></g><circle cx="180.2" cy="216.3" r="2.1" fill="#ececec"/>
<g transform="translate(206.6,216.3) rotate(59)"><path d="M11.0,-6.3L11.0,6.3C11.0,8.1 10.2,8.5 8.4,8.0C3.9,7.3 0.8,4.2 0.8,0C0.8,-4.2 3.9,-7.3 8.4,-8.0C10.2,-8.5 11.0,-8.1 11.0,-6.3Z" fill="#5c5c5c" stroke="#929292" stroke-width="1.0"/></g><circle cx="206.6" cy="216.3" r="2.1" fill="#ececec"/>
<g transform="translate(233.0,216.3) rotate(45)"><path d="M11.0,-6.3L11.0,6.3C11.0,8.1 10.2,8.5 8.4,8.0C3.9,7.3 0.8,4.2 0.8,0C0.8,-4.2 3.9,-7.3 8.4,-8.0C10.2,-8.5 11.0,-8.1 11.0,-6.3Z" fill="#5c5c5c" stroke="#929292" stroke-width="1.0"/></g><circle cx="233.0" cy="216.3" r="2.1" fill="#ececec"/>
<g transform="translate(259.4,216.3) rotate(36)"><path d="M11.0,-6.3L11.0,6.3C11.0,8.1 10.2,8.5 8.4,8.0C3.9,7.3 0.8,4.2 0.8,0C0.8,-4.2 3.9,-7.3 8.4,-8.0C10.2,-8.5 11.0,-8.1 11.0,-6.3Z" fill="#5c5c5c" stroke="#929292" stroke-width="1.0"/></g><circle cx="259.4" cy="216.3" r="2.1" fill="#ececec"/>
<g transform="translate(285.8,216.3) rotate(29)"><path d="M11.0,-6.3L11.0,6.3C11.0,8.1 10.2,8.5 8.4,8.0C3.9,7.3 0.8,4.2 0.8,0C0.8,-4.2 3.9,-7.3 8.4,-8.0C10.2,-8.5 11.0,-8.1 11.0,-6.3Z" fill="#5c5c5c" stroke="#929292" stroke-width="1.0"/></g><circle cx="285.8" cy="216.3" r="2.1" fill="#ececec"/>
<g transform="translate(48.2,243.1) rotate(142)"><path d="M11.0,-6.3L11.0,6.3C11.0,8.1 10.2,8.5 8.4,8.0C3.9,7.3 0.8,4.2 0.8,0C0.8,-4.2 3.9,-7.3 8.4,-8.0C10.2,-8.5 11.0,-8.1 11.0,-6.3Z" fill="#5c5c5c" stroke="#929292" stroke-width="1.0"/></g><circle cx="48.2" cy="243.1" r="2.1" fill="#ececec"/>
<g transform="translate(74.6,243.1) rotate(135)"><path d="M11.0,-6.3L11.0,6.3C11.0,8.1 10.2,8.5 8.4,8.0C3.9,7.3 0.8,4.2 0.8,0C0.8,-4.2 3.9,-7.3 8.4,-8.0C10.2,-8.5 11.0,-8.1 11.0,-6.3Z" fill="#5c5c5c" stroke="#929292" stroke-width="1.0"/></g><circle cx="74.6" cy="243.1" r="2.1" fill="#ececec"/>
<g transform="translate(101.0,243.1) rotate(125)"><path d="M11.0,-6.3L11.0,6.3C11.0,8.1 10.2,8.5 8.4,8.0C3.9,7.3 0.8,4.2 0.8,0C0.8,-4.2 3.9,-7.3 8.4,-8.0C10.2,-8.5 11.0,-8.1 11.0,-6.3Z" fill="#5c5c5c" stroke="#929292" stroke-width="1.0"/></g><circle cx="101.0" cy="243.1" r="2.1" fill="#ececec"/>
<g transform="translate(127.4,243.1) rotate(113)"><path d="M11.0,-6.3L11.0,6.3C11.0,8.1 10.2,8.5 8.4,8.0C3.9,7.3 0.8,4.2 0.8,0C0.8,-4.2 3.9,-7.3 8.4,-8.0C10.2,-8.5 11.0,-8.1 11.0,-6.3Z" fill="#5c5c5c" stroke="#929292" stroke-width="1.0"/></g><circle cx="127.4" cy="243.1" r="2.1" fill="#ececec"/>
<g transform="translate(153.8,243.1) rotate(98)"><path d="M11.0,-6.3L11.0,6.3C11.0,8.1 10.2,8.5 8.4,8.0C3.9,7.3 0.8,4.2 0.8,0C0.8,-4.2 3.9,-7.3 8.4,-8.0C10.2,-8.5 11.0,-8.1 11.0,-6.3Z" fill="#5c5c5c" stroke="#929292" stroke-width="1.0"/></g><circle cx="153.8" cy="243.1" r="2.1" fill="#ececec"/>
<g transform="translate(180.2,243.1) rotate(82)"><path d="M11.0,-6.3L11.0,6.3C11.0,8.1 10.2,8.5 8.4,8.0C3.9,7.3 0.8,4.2 0.8,0C0.8,-4.2 3.9,-7.3 8.4,-8.0C10.2,-8.5 11.0,-8.1 11.0,-6.3Z" fill="#5c5c5c" stroke="#929292" stroke-width="1.0"/></g><circle cx="180.2" cy="243.1" r="2.1" fill="#ececec"/>
<g transform="translate(206.6,243.1) rotate(67)"><path d="M11.0,-6.3L11.0,6.3C11.0,8.1 10.2,8.5 8.4,8.0C3.9,7.3 0.8,4.2 0.8,0C0.8,-4.2 3.9,-7.3 8.4,-8.0C10.2,-8.5 11.0,-8.1 11.0,-6.3Z" fill="#5c5c5c" stroke="#929292" stroke-width="1.0"/></g><circle cx="206.6" cy="243.1" r="2.1" fill="#ececec"/>
<g transform="translate(233.0,243.1) rotate(55)"><path d="M11.0,-6.3L11.0,6.3C11.0,8.1 10.2,8.5 8.4,8.0C3.9,7.3 0.8,4.2 0.8,0C0.8,-4.2 3.9,-7.3 8.4,-8.0C10.2,-8.5 11.0,-8.1 11.0,-6.3Z" fill="#5c5c5c" stroke="#929292" stroke-width="1.0"/></g><circle cx="233.0" cy="243.1" r="2.1" fill="#ececec"/>
<g transform="translate(259.4,243.1) rotate(45)"><path d="M11.0,-6.3L11.0,6.3C11.0,8.1 10.2,8.5 8.4,8.0C3.9,7.3 0.8,4.2 0.8,0C0.8,-4.2 3.9,-7.3 8.4,-8.0C10.2,-8.5 11.0,-8.1 11.0,-6.3Z" fill="#5c5c5c" stroke="#929292" stroke-width="1.0"/></g><circle cx="259.4" cy="243.1" r="2.1" fill="#ececec"/>
<g transform="translate(285.8,243.1) rotate(38)"><path d="M11.0,-6.3L11.0,6.3C11.0,8.1 10.2,8.5 8.4,8.0C3.9,7.3 0.8,4.2 0.8,0C0.8,-4.2 3.9,-7.3 8.4,-8.0C10.2,-8.5 11.0,-8.1 11.0,-6.3Z" fill="#5c5c5c" stroke="#929292" stroke-width="1.0"/></g><circle cx="285.8" cy="243.1" r="2.1" fill="#ececec"/>
<g transform="translate(48.2,269.9) rotate(135)"><path d="M11.0,-6.3L11.0,6.3C11.0,8.1 10.2,8.5 8.4,8.0C3.9,7.3 0.8,4.2 0.8,0C0.8,-4.2 3.9,-7.3 8.4,-8.0C10.2,-8.5 11.0,-8.1 11.0,-6.3Z" fill="#5c5c5c" stroke="#929292" stroke-width="1.0"/></g><circle cx="48.2" cy="269.9" r="2.1" fill="#ececec"/>
<g transform="translate(74.6,269.9) rotate(127)"><path d="M11.0,-6.3L11.0,6.3C11.0,8.1 10.2,8.5 8.4,8.0C3.9,7.3 0.8,4.2 0.8,0C0.8,-4.2 3.9,-7.3 8.4,-8.0C10.2,-8.5 11.0,-8.1 11.0,-6.3Z" fill="#5c5c5c" stroke="#929292" stroke-width="1.0"/></g><circle cx="74.6" cy="269.9" r="2.1" fill="#ececec"/>
<g transform="translate(101.0,269.9) rotate(119)"><path d="M11.0,-6.3L11.0,6.3C11.0,8.1 10.2,8.5 8.4,8.0C3.9,7.3 0.8,4.2 0.8,0C0.8,-4.2 3.9,-7.3 8.4,-8.0C10.2,-8.5 11.0,-8.1 11.0,-6.3Z" fill="#5c5c5c" stroke="#929292" stroke-width="1.0"/></g><circle cx="101.0" cy="269.9" r="2.1" fill="#ececec"/>
<g transform="translate(127.4,269.9) rotate(108)"><path d="M11.0,-6.3L11.0,6.3C11.0,8.1 10.2,8.5 8.4,8.0C3.9,7.3 0.8,4.2 0.8,0C0.8,-4.2 3.9,-7.3 8.4,-8.0C10.2,-8.5 11.0,-8.1 11.0,-6.3Z" fill="#5c5c5c" stroke="#929292" stroke-width="1.0"/></g><circle cx="127.4" cy="269.9" r="2.1" fill="#ececec"/>
<g transform="translate(153.8,269.9) rotate(96)"><path d="M11.0,-6.3L11.0,6.3C11.0,8.1 10.2,8.5 8.4,8.0C3.9,7.3 0.8,4.2 0.8,0C0.8,-4.2 3.9,-7.3 8.4,-8.0C10.2,-8.5 11.0,-8.1 11.0,-6.3Z" fill="#5c5c5c" stroke="#929292" stroke-width="1.0"/></g><circle cx="153.8" cy="269.9" r="2.1" fill="#ececec"/>
<g transform="translate(180.2,269.9) rotate(84)"><path d="M11.0,-6.3L11.0,6.3C11.0,8.1 10.2,8.5 8.4,8.0C3.9,7.3 0.8,4.2 0.8,0C0.8,-4.2 3.9,-7.3 8.4,-8.0C10.2,-8.5 11.0,-8.1 11.0,-6.3Z" fill="#5c5c5c" stroke="#929292" stroke-width="1.0"/></g><circle cx="180.2" cy="269.9" r="2.1" fill="#ececec"/>
<g transform="translate(206.6,269.9) rotate(72)"><path d="M11.0,-6.3L11.0,6.3C11.0,8.1 10.2,8.5 8.4,8.0C3.9,7.3 0.8,4.2 0.8,0C0.8,-4.2 3.9,-7.3 8.4,-8.0C10.2,-8.5 11.0,-8.1 11.0,-6.3Z" fill="#5c5c5c" stroke="#929292" stroke-width="1.0"/></g><circle cx="206.6" cy="269.9" r="2.1" fill="#ececec"/>
<g transform="translate(233.0,269.9) rotate(61)"><path d="M11.0,-6.3L11.0,6.3C11.0,8.1 10.2,8.5 8.4,8.0C3.9,7.3 0.8,4.2 0.8,0C0.8,-4.2 3.9,-7.3 8.4,-8.0C10.2,-8.5 11.0,-8.1 11.0,-6.3Z" fill="#5c5c5c" stroke="#929292" stroke-width="1.0"/></g><circle cx="233.0" cy="269.9" r="2.1" fill="#ececec"/>
<g transform="translate(259.4,269.9) rotate(53)"><path d="M11.0,-6.3L11.0,6.3C11.0,8.1 10.2,8.5 8.4,8.0C3.9,7.3 0.8,4.2 0.8,0C0.8,-4.2 3.9,-7.3 8.4,-8.0C10.2,-8.5 11.0,-8.1 11.0,-6.3Z" fill="#5c5c5c" stroke="#929292" stroke-width="1.0"/></g><circle cx="259.4" cy="269.9" r="2.1" fill="#ececec"/>
<g transform="translate(285.8,269.9) rotate(45)"><path d="M11.0,-6.3L11.0,6.3C11.0,8.1 10.2,8.5 8.4,8.0C3.9,7.3 0.8,4.2 0.8,0C0.8,-4.2 3.9,-7.3 8.4,-8.0C10.2,-8.5 11.0,-8.1 11.0,-6.3Z" fill="#5c5c5c" stroke="#929292" stroke-width="1.0"/></g><circle cx="285.8" cy="269.9" r="2.1" fill="#ececec"/>
</g>
</g></g>
<rect x="0" y="0" width="68" height="69" fill="#fff"/>
<rect x="252.3" y="278.8" width="65.7" height="5.2" fill="#fff"/>
<text x="26" y="107.8" font-family='"Liberation Sans", Arial, sans-serif' font-weight="700" font-size="24" fill="#ffc000">TYPE-A</text>
</g>
<g id="panel-B">
<clipPath id="clipB"><rect x="365" y="8.5" width="311.0" height="284.9"/></clipPath>
<g clip-path="url(#clipB)"><g filter="url(#grainB)">
<rect x="363" y="6.5" width="315.0" height="288.9" fill="#5b5b5b"/>
<rect x="378" y="12" width="276" height="276" rx="14" fill="#6a6a6a" filter="url(#glow2)"/>
<g filter="url(#glow)" opacity="0.35" fill="#7c7c7c">
<circle cx="396.5" cy="20.5" r="11"/>
<circle cx="423.3" cy="20.5" r="11"/>
<circle cx="450.1" cy="20.5" r="11"/>
<circle cx="476.9" cy="20.5" r="11"/>
<circle cx="503.7" cy="20.5" r="11"/>
<circle cx="530.5" cy="20.5" r="11"/>
<circle cx="557.3" cy="20.5" r="11"/>
<circle cx="584.1" cy="20.5" r="11"/>
<circle cx="610.9" cy="20.5" r="11"/>
<circle cx="643.7" cy="26.5" r="11"/>
<circle cx="390.5" cy="53.5" r="11"/>
<circle cx="423.3" cy="47.5" r="11"/>
<circle cx="450.1" cy="47.5" r="11"/>
<circle cx="476.9" cy="47.5" r="11"/>
<circle cx="503.7" cy="47.5" r="11"/>
<circle cx="530.5" cy="47.5" r="11"/>
<circle cx="557.3" cy="47.5" r="11"/>
<circle cx="584.1" cy="47.5" r="11"/>
<circle cx="616.9" cy="53.5" r="11"/>
<circle cx="643.7" cy="53.5" r="11"/>
<circle cx="390.5" cy="80.6" r="11"/>
<circle cx="417.3" cy="80.6" r="11"/>
<circle cx="450.1" cy="74.6" r="11"/>
<circle cx="476.9" cy="74.6" r="11"/>
<circle cx="503.7" cy="74.6" r="11"/>
<circle cx="530.5" cy="74.6" r="11"/>
<circle cx="557.3" cy="74.6" r="11"/>
<circle cx="590.1" cy="80.6" r="11"/>
<circle cx="616.9" cy="80.6" r="11"/>
<circle cx="643.7" cy="80.6" r="11"/>
<circle cx="390.5" cy="107.7" r="11"/>
<circle cx="417.3" cy="107.7" r="11"/>
<circle cx="444.1" cy="107.7" r="11"/>
<circle cx="476.9" cy="101.7" r="11"/>
<circle cx="503.7" cy="101.7" r="11"/>
<circle cx="530.5" cy="101.7" r="11"/>
<circle cx="563.3" cy="107.7" r="11"/>
<circle cx="590.1" cy="107.7" r="11"/>
<circle cx="616.9" cy="107.7" r="11"/>
<circle cx="643.7" cy="107.7" r="11"/>
<circle cx="390.5" cy="134.7" r="11"/>
<circle cx="417.3" cy="134.7" r="11"/>
<circle cx="444.1" cy="134.7" r="11"/>
<circle cx="470.9" cy="134.7" r="11"/>
<circle cx="503.7" cy="128.7" r="11"/>
<circle cx="536.5" cy="134.7" r="11"/>
<circle cx="563.3" cy="134.7" r="11"/>
<circle cx="590.1" cy="134.7" r="11"/>
<circle cx="616.9" cy="134.7" r="11"/>
<circle cx="643.7" cy="134.7" r="11"/>
<circle cx="390.5" cy="161.8" r="11"/>
<circle cx="417.3" cy="161.8" r="11"/>
<circle cx="444.1" cy="161.8" r="11"/>
<circle cx="470.9" cy="161.8" r="11"/>
<circle cx="497.7" cy="161.8" r="11"/>
<circle cx="530.5" cy="167.8" r="11"/>
<circle cx="563.3" cy="161.8" r="11"/>
<circle cx="590.1" cy="161.8" r="11"/>
<circle cx="616.9" cy="161.8" r="11"/>
<circle cx="643.7" cy="161.8" r="11"/>
<circle cx="390.5" cy="188.8" r="11"/>
<circle cx="417.3" cy="188.8" r="11"/>
<circle cx="444.1" cy="188.8" r="11"/>
<circle cx="470.9" cy="188.8" r="11"/>
<circle cx="503.7" cy="194.8" r="11"/>
<circle cx="530.5" cy="194.8" r="11"/>
<circle cx="557.3" cy="194.8" r="11"/>
<circle cx="590.1" cy="188.8" r="11"/>
<circle cx="616.9" cy="188.8" r="11"/>
<circle cx="643.7" cy="188.8" r="11"/>
<circle cx="390.5" cy="215.8" r="11"/>
<circle cx="417.3" cy="215.8" r="11"/>
<circle cx="444.1" cy="215.8" r="11"/>
<circle cx="476.9" cy="221.8" r="11"/>
<circle cx="503.7" cy="221.8" r="11"/>
<circle cx="530.5" cy="221.8" r="11"/>
<circle cx="557.3" cy="221.8" r="11"/>
<circle cx="584.1" cy="221.8" r="11"/>
<circle cx="616.9" cy="215.8" r="11"/>
<circle cx="643.7" cy="215.8" r="11"/>
<circle cx="390.5" cy="242.9" r="11"/>
<circle cx="417.3" cy="242.9" r="11"/>
<circle cx="450.1" cy="248.9" r="11"/>
<circle cx="476.9" cy="248.9" r="11"/>
<circle cx="503.7" cy="248.9" r="11"/>
<circle cx="530.5" cy="248.9" r="11"/>
<circle cx="557.3" cy="248.9" r="11"/>
<circle cx="584.1" cy="248.9" r="11"/>
<circle cx="610.9" cy="248.9" r="11"/>
<circle cx="643.7" cy="242.9" r="11"/>
<circle cx="390.5" cy="270.0" r="11"/>
<circle cx="423.3" cy="276.0" r="11"/>
<circle cx="450.1" cy="276.0" r="11"/>
<circle cx="476.9" cy="276.0" r="11"/>
<circle cx="503.7" cy="276.0" r="11"/>
<circle cx="530.5" cy="276.0" r="11"/>
<circle cx="557.3" cy="276.0" r="11"/>
<circle cx="584.1" cy="276.0" r="11"/>
<circle cx="610.9" cy="276.0" r="11"/>
<circle cx="637.7" cy="276.0" r="11"/>
</g>
<g filter="url(#soft)">
<g transform="translate(396.5,26.5) rotate(270)"><path d="M10.3,-7.8L10.3,7.8C10.3,9.6 9.5,10.0 7.7,9.5C4.2,8.6 1.6,5.0 1.6,0C1.6,-5.0 4.2,-8.6 7.7,-9.5C9.5,-10.0 10.3,-9.6 10.3,-7.8Z" fill="#5e5e5e" stroke="#a6a6a6" stroke-width="1.0"/></g><circle cx="396.5" cy="26.5" r="1.8" fill="#e2e2e2"/>
<g transform="translate(423.3,26.5) rotate(270)"><path d="M10.3,-7.8L10.3,7.8C10.3,9.6 9.5,10.0 7.7,9.5C4.2,8.6 1.6,5.0 1.6,0C1.6,-5.0 4.2,-8.6 7.7,-9.5C9.5,-10.0 10.3,-9.6 10.3,-7.8Z" fill="#5e5e5e" stroke="#a6a6a6" stroke-width="1.0"/></g><circle cx="423.3" cy="26.5" r="1.8" fill="#e2e2e2"/>
<g transform="translate(450.1,26.5) rotate(270)"><path d="M10.3,-7.8L10.3,7.8C10.3,9.6 9.5,10.0 7.7,9.5C4.2,8.6 1.6,5.0 1.6,0C1.6,-5.0 4.2,-8.6 7.7,-9.5C9.5,-10.0 10.3,-9.6 10.3,-7.8Z" fill="#5e5e5e" stroke="#a6a6a6" stroke-width="1.0"/></g><circle cx="450.1" cy="26.5" r="1.8" fill="#e2e2e2"/>
<g transform="translate(476.9,26.5) rotate(270)"><path d="M10.3,-7.8L10.3,7.8C10.3,9.6 9.5,10.0 7.7,9.5C4.2,8.6 1.6,5.0 1.6,0C1.6,-5.0 4.2,-8.6 7.7,-9.5C9.5,-10.0 10.3,-9.6 10.3,-7.8Z" fill="#5e5e5e" stroke="#a6a6a6" stroke-width="1.0"/></g><circle cx="476.9" cy="26.5" r="1.8" fill="#e2e2e2"/>
<g transform="translate(503.7,26.5) rotate(270)"><path d="M10.3,-7.8L10.3,7.8C10.3,9.6 9.5,10.0 7.7,9.5C4.2,8.6 1.6,5.0 1.6,0C1.6,-5.0 4.2,-8.6 7.7,-9.5C9.5,-10.0 10.3,-9.6 10.3,-7.8Z" fill="#5e5e5e" stroke="#a6a6a6" stroke-width="1.0"/></g><circle cx="503.7" cy="26.5" r="1.8" fill="#e2e2e2"/>
<g transform="translate(530.5,26.5) rotate(270)"><path d="M10.3,-7.8L10.3,7.8C10.3,9.6 9.5,10.0 7.7,9.5C4.2,8.6 1.6,5.0 1.6,0C1.6,-5.0 4.2,-8.6 7.7,-9.5C9.5,-10.0 10.3,-9.6 10.3,-7.8Z" fill="#5e5e5e" stroke="#a6a6a6" stroke-width="1.0"/></g><circle cx="530.5" cy="26.5" r="1.8" fill="#e2e2e2"/>
<g transform="translate(557.3,26.5) rotate(270)"><path d="M10.3,-7.8L10.3,7.8C10.3,9.6 9.5,10.0 7.7,9.5C4.2,8.6 1.6,5.0 1.6,0C1.6,-5.0 4.2,-8.6 7.7,-9.5C9.5,-10.0 10.3,-9.6 10.3,-7.8Z" fill="#5e5e5e" stroke="#a6a6a6" stroke-width="1.0"/></g><circle cx="557.3" cy="26.5" r="1.8" fill="#e2e2e2"/>
<g transform="translate(584.1,26.5) rotate(270)"><path d="M10.3,-7.8L10.3,7.8C10.3,9.6 9.5,10.0 7.7,9.5C4.2,8.6 1.6,5.0 1.6,0C1.6,-5.0 4.2,-8.6 7.7,-9.5C9.5,-10.0 10.3,-9.6 10.3,-7.8Z" fill="#5e5e5e" stroke="#a6a6a6" stroke-width="1.0"/></g><circle cx="584.1" cy="26.5" r="1.8" fill="#e2e2e2"/>
<g transform="translate(610.9,26.5) rotate(270)"><path d="M10.3,-7.8L10.3,7.8C10.3,9.6 9.5,10.0 7.7,9.5C4.2,8.6 1.6,5.0 1.6,0C1.6,-5.0 4.2,-8.6 7.7,-9.5C9.5,-10.0 10.3,-9.6 10.3,-7.8Z" fill="#5e5e5e" stroke="#a6a6a6" stroke-width="1.0"/></g><circle cx="610.9" cy="26.5" r="1.8" fill="#e2e2e2"/>
<g transform="translate(637.7,26.5) rotate(0)"><path d="M10.3,-7.8L10.3,7.8C10.3,9.6 9.5,10.0 7.7,9.5C4.2,8.6 1.6,5.0 1.6,0C1.6,-5.0 4.2,-8.6 7.7,-9.5C9.5,-10.0 10.3,-9.6 10.3,-7.8Z" fill="#5e5e5e" stroke="#a6a6a6" stroke-width="1.0"/></g><circle cx="637.7" cy="26.5" r="1.8" fill="#e2e2e2"/>
<g transform="translate(396.5,53.5) rotate(180)"><path d="M10.3,-7.8L10.3,7.8C10.3,9.6 9.5,10.0 7.7,9.5C4.2,8.6 1.6,5.0 1.6,0C1.6,-5.0 4.2,-8.6 7.7,-9.5C9.5,-10.0 10.3,-9.6 10.3,-7.8Z" fill="#5e5e5e" stroke="#a6a6a6" stroke-width="1.0"/></g><circle cx="396.5" cy="53.5" r="1.8" fill="#e2e2e2"/>
<g transform="translate(423.3,53.5) rotate(270)"><path d="M10.3,-7.8L10.3,7.8C10.3,9.6 9.5,10.0 7.7,9.5C4.2,8.6 1.6,5.0 1.6,0C1.6,-5.0 4.2,-8.6 7.7,-9.5C9.5,-10.0 10.3,-9.6 10.3,-7.8Z" fill="#5e5e5e" stroke="#a6a6a6" stroke-width="1.0"/></g><circle cx="423.3" cy="53.5" r="1.8" fill="#e2e2e2"/>
<g transform="translate(450.1,53.5) rotate(270)"><path d="M10.3,-7.8L10.3,7.8C10.3,9.6 9.5,10.0 7.7,9.5C4.2,8.6 1.6,5.0 1.6,0C1.6,-5.0 4.2,-8.6 7.7,-9.5C9.5,-10.0 10.3,-9.6 10.3,-7.8Z" fill="#5e5e5e" stroke="#a6a6a6" stroke-width="1.0"/></g><circle cx="450.1" cy="53.5" r="1.8" fill="#e2e2e2"/>
<g transform="translate(476.9,53.5) rotate(270)"><path d="M10.3,-7.8L10.3,7.8C10.3,9.6 9.5,10.0 7.7,9.5C4.2,8.6 1.6,5.0 1.6,0C1.6,-5.0 4.2,-8.6 7.7,-9.5C9.5,-10.0 10.3,-9.6 10.3,-7.8Z" fill="#5e5e5e" stroke="#a6a6a6" stroke-width="1.0"/></g><circle cx="476.9" cy="53.5" r="1.8" fill="#e2e2e2"/>
<g transform="translate(503.7,53.5) rotate(270)"><path d="M10.3,-7.8L10.3,7.8C10.3,9.6 9.5,10.0 7.7,9.5C4.2,8.6 1.6,5.0 1.6,0C1.6,-5.0 4.2,-8.6 7.7,-9.5C9.5,-10.0 10.3,-9.6 10.3,-7.8Z" fill="#5e5e5e" stroke="#a6a6a6" stroke-width="1.0"/></g><circle cx="503.7" cy="53.5" r="1.8" fill="#e2e2e2"/>
<g transform="translate(530.5,53.5) rotate(270)"><path d="M10.3,-7.8L10.3,7.8C10.3,9.6 9.5,10.0 7.7,9.5C4.2,8.6 1.6,5.0 1.6,0C1.6,-5.0 4.2,-8.6 7.7,-9.5C9.5,-10.0 10.3,-9.6 10.3,-7.8Z" fill="#5e5e5e" stroke="#a6a6a6" stroke-width="1.0"/></g><circle cx="530.5" cy="53.5" r="1.8" fill="#e2e2e2"/>
<g transform="translate(557.3,53.5) rotate(270)"><path d="M10.3,-7.8L10.3,7.8C10.3,9.6 9.5,10.0 7.7,9.5C4.2,8.6 1.6,5.0 1.6,0C1.6,-5.0 4.2,-8.6 7.7,-9.5C9.5,-10.0 10.3,-9.6 10.3,-7.8Z" fill="#5e5e5e" stroke="#a6a6a6" stroke-width="1.0"/></g><circle cx="557.3" cy="53.5" r="1.8" fill="#e2e2e2"/>
<g transform="translate(584.1,53.5) rotate(270)"><path d="M10.3,-7.8L10.3,7.8C10.3,9.6 9.5,10.0 7.7,9.5C4.2,8.6 1.6,5.0 1.6,0C1.6,-5.0 4.2,-8.6 7.7,-9.5C9.5,-10.0 10.3,-9.6 10.3,-7.8Z" fill="#5e5e5e" stroke="#a6a6a6" stroke-width="1.0"/></g><circle cx="584.1" cy="53.5" r="1.8" fill="#e2e2e2"/>
<g transform="translate(610.9,53.5) rotate(0)"><path d="M10.3,-7.8L10.3,7.8C10.3,9.6 9.5,10.0 7.7,9.5C4.2,8.6 1.6,5.0 1.6,0C1.6,-5.0 4.2,-8.6 7.7,-9.5C9.5,-10.0 10.3,-9.6 10.3,-7.8Z" fill="#5e5e5e" stroke="#a6a6a6" stroke-width="1.0"/></g><circle cx="610.9" cy="53.5" r="1.8" fill="#e2e2e2"/>
<g transform="translate(637.7,53.5) rotate(0)"><path d="M10.3,-7.8L10.3,7.8C10.3,9.6 9.5,10.0 7.7,9.5C4.2,8.6 1.6,5.0 1.6,0C1.6,-5.0 4.2,-8.6 7.7,-9.5C9.5,-10.0 10.3,-9.6 10.3,-7.8Z" fill="#5e5e5e" stroke="#a6a6a6" stroke-width="1.0"/></g><circle cx="637.7" cy="53.5" r="1.8" fill="#e2e2e2"/>
<g transform="translate(396.5,80.6) rotate(180)"><path d="M10.3,-7.8L10.3,7.8C10.3,9.6 9.5,10.0 7.7,9.5C4.2,8.6 1.6,5.0 1.6,0C1.6,-5.0 4.2,-8.6 7.7,-9.5C9.5,-10.0 10.3,-9.6 10.3,-7.8Z" fill="#5e5e5e" stroke="#a6a6a6" stroke-width="1.0"/></g><circle cx="396.5" cy="80.6" r="1.8" fill="#e2e2e2"/>
<g transform="translate(423.3,80.6) rotate(180)"><path d="M10.3,-7.8L10.3,7.8C10.3,9.6 9.5,10.0 7.7,9.5C4.2,8.6 1.6,5.0 1.6,0C1.6,-5.0 4.2,-8.6 7.7,-9.5C9.5,-10.0 10.3,-9.6 10.3,-7.8Z" fill="#5e5e5e" stroke="#a6a6a6" stroke-width="1.0"/></g><circle cx="423.3" cy="80.6" r="1.8" fill="#e2e2e2"/>
<g transform="translate(450.1,80.6) rotate(270)"><path d="M10.3,-7.8L10.3,7.8C10.3,9.6 9.5,10.0 7.7,9.5C4.2,8.6 1.6,5.0 1.6,0C1.6,-5.0 4.2,-8.6 7.7,-9.5C9.5,-10.0 10.3,-9.6 10.3,-7.8Z" fill="#5e5e5e" stroke="#a6a6a6" stroke-width="1.0"/></g><circle cx="450.1" cy="80.6" r="1.8" fill="#e2e2e2"/>
<g transform="translate(476.9,80.6) rotate(270)"><path d="M10.3,-7.8L10.3,7.8C10.3,9.6 9.5,10.0 7.7,9.5C4.2,8.6 1.6,5.0 1.6,0C1.6,-5.0 4.2,-8.6 7.7,-9.5C9.5,-10.0 10.3,-9.6 10.3,-7.8Z" fill="#5e5e5e" stroke="#a6a6a6" stroke-width="1.0"/></g><circle cx="476.9" cy="80.6" r="1.8" fill="#e2e2e2"/>
<g transform="translate(503.7,80.6) rotate(270)"><path d="M10.3,-7.8L10.3,7.8C10.3,9.6 9.5,10.0 7.7,9.5C4.2,8.6 1.6,5.0 1.6,0C1.6,-5.0 4.2,-8.6 7.7,-9.5C9.5,-10.0 10.3,-9.6 10.3,-7.8Z" fill="#5e5e5e" stroke="#a6a6a6" stroke-width="1.0"/></g><circle cx="503.7" cy="80.6" r="1.8" fill="#e2e2e2"/>
<g transform="translate(530.5,80.6) rotate(270)"><path d="M10.3,-7.8L10.3,7.8C10.3,9.6 9.5,10.0 7.7,9.5C4.2,8.6 1.6,5.0 1.6,0C1.6,-5.0 4.2,-8.6 7.7,-9.5C9.5,-10.0 10.3,-9.6 10.3,-7.8Z" fill="#5e5e5e" stroke="#a6a6a6" stroke-width="1.0"/></g><circle cx="530.5" cy="80.6" r="1.8" fill="#e2e2e2"/>
<g transform="translate(557.3,80.6) rotate(270)"><path d="M10.3,-7.8L10.3,7.8C10.3,9.6 9.5,10.0 7.7,9.5C4.2,8.6 1.6,5.0 1.6,0C1.6,-5.0 4.2,-8.6 7.7,-9.5C9.5,-10.0 10.3,-9.6 10.3,-7.8Z" fill="#5e5e5e" stroke="#a6a6a6" stroke-width="1.0"/></g><circle cx="557.3" cy="80.6" r="1.8" fill="#e2e2e2"/>
<g transform="translate(584.1,80.6) rotate(0)"><path d="M10.3,-7.8L10.3,7.8C10.3,9.6 9.5,10.0 7.7,9.5C4.2,8.6 1.6,5.0 1.6,0C1.6,-5.0 4.2,-8.6 7.7,-9.5C9.5,-10.0 10.3,-9.6 10.3,-7.8Z" fill="#5e5e5e" stroke="#a6a6a6" stroke-width="1.0"/></g><circle cx="584.1" cy="80.6" r="1.8" fill="#e2e2e2"/>
<g transform="translate(610.9,80.6) rotate(0)"><path d="M10.3,-7.8L10.3,7.8C10.3,9.6 9.5,10.0 7.7,9.5C4.2,8.6 1.6,5.0 1.6,0C1.6,-5.0 4.2,-8.6 7.7,-9.5C9.5,-10.0 10.3,-9.6 10.3,-7.8Z" fill="#5e5e5e" stroke="#a6a6a6" stroke-width="1.0"/></g><circle cx="610.9" cy="80.6" r="1.8" fill="#e2e2e2"/>
<g transform="translate(637.7,80.6) rotate(0)"><path d="M10.3,-7.8L10.3,7.8C10.3,9.6 9.5,10.0 7.7,9.5C4.2,8.6 1.6,5.0 1.6,0C1.6,-5.0 4.2,-8.6 7.7,-9.5C9.5,-10.0 10.3,-9.6 10.3,-7.8Z" fill="#5e5e5e" stroke="#a6a6a6" stroke-width="1.0"/></g><circle cx="637.7" cy="80.6" r="1.8" fill="#e2e2e2"/>
<g transform="translate(396.5,107.7) rotate(180)"><path d="M10.3,-7.8L10.3,7.8C10.3,9.6 9.5,10.0 7.7,9.5C4.2,8.6 1.6,5.0 1.6,0C1.6,-5.0 4.2,-8.6 7.7,-9.5C9.5,-10.0 10.3,-9.6 10.3,-7.8Z" fill="#5e5e5e" stroke="#a6a6a6" stroke-width="1.0"/></g><circle cx="396.5" cy="107.7" r="1.8" fill="#e2e2e2"/>
<g transform="translate(423.3,107.7) rotate(180)"><path d="M10.3,-7.8L10.3,7.8C10.3,9.6 9.5,10.0 7.7,9.5C4.2,8.6 1.6,5.0 1.6,0C1.6,-5.0 4.2,-8.6 7.7,-9.5C9.5,-10.0 10.3,-9.6 10.3,-7.8Z" fill="#5e5e5e" stroke="#a6a6a6" stroke-width="1.0"/></g><circle cx="423.3" cy="107.7" r="1.8" fill="#e2e2e2"/>
<g transform="translate(450.1,107.7) rotate(180)"><path d="M10.3,-7.8L10.3,7.8C10.3,9.6 9.5,10.0 7.7,9.5C4.2,8.6 1.6,5.0 1.6,0C1.6,-5.0 4.2,-8.6 7.7,-9.5C9.5,-10.0 10.3,-9.6 10.3,-7.8Z" fill="#5e5e5e" stroke="#a6a6a6" stroke-width="1.0"/></g><circle cx="450.1" cy="107.7" r="1.8" fill="#e2e2e2"/>
<g transform="translate(476.9,107.7) rotate(270)"><path d="M10.3,-7.8L10.3,7.8C10.3,9.6 9.5,10.0 7.7,9.5C4.2,8.6 1.6,5.0 1.6,0C1.6,-5.0 4.2,-8.6 7.7,-9.5C9.5,-10.0 10.3,-9.6 10.3,-7.8Z" fill="#5e5e5e" stroke="#a6a6a6" stroke-width="1.0"/></g><circle cx="476.9" cy="107.7" r="1.8" fill="#e2e2e2"/>
<g transform="translate(503.7,107.7) rotate(270)"><path d="M10.3,-7.8L10.3,7.8C10.3,9.6 9.5,10.0 7.7,9.5C4.2,8.6 1.6,5.0 1.6,0C1.6,-5.0 4.2,-8.6 7.7,-9.5C9.5,-10.0 10.3,-9.6 10.3,-7.8Z" fill="#5e5e5e" stroke="#a6a6a6" stroke-width="1.0"/></g><circle cx="503.7" cy="107.7" r="1.8" fill="#e2e2e2"/>
<g transform="translate(530.5,107.7) rotate(270)"><path d="M10.3,-7.8L10.3,7.8C10.3,9.6 9.5,10.0 7.7,9.5C4.2,8.6 1.6,5.0 1.6,0C1.6,-5.0 4.2,-8.6 7.7,-9.5C9.5,-10.0 10.3,-9.6 10.3,-7.8Z" fill="#5e5e5e" stroke="#a6a6a6" stroke-width="1.0"/></g><circle cx="530.5" cy="107.7" r="1.8" fill="#e2e2e2"/>
<g transform="translate(557.3,107.7) rotate(0)"><path d="M10.3,-7.8L10.3,7.8C10.3,9.6 9.5,10.0 7.7,9.5C4.2,8.6 1.6,5.0 1.6,0C1.6,-5.0 4.2,-8.6 7.7,-9.5C9.5,-10.0 10.3,-9.6 10.3,-7.8Z" fill="#5e5e5e" stroke="#a6a6a6" stroke-width="1.0"/></g><circle cx="557.3" cy="107.7" r="1.8" fill="#e2e2e2"/>
<g transform="translate(584.1,107.7) rotate(0)"><path d="M10.3,-7.8L10.3,7.8C10.3,9.6 9.5,10.0 7.7,9.5C4.2,8.6 1.6,5.0 1.6,0C1.6,-5.0 4.2,-8.6 7.7,-9.5C9.5,-10.0 10.3,-9.6 10.3,-7.8Z" fill="#5e5e5e" stroke="#a6a6a6" stroke-width="1.0"/></g><circle cx="584.1" cy="107.7" r="1.8" fill="#e2e2e2"/>
<g transform="translate(610.9,107.7) rotate(0)"><path d="M10.3,-7.8L10.3,7.8C10.3,9.6 9.5,10.0 7.7,9.5C4.2,8.6 1.6,5.0 1.6,0C1.6,-5.0 4.2,-8.6 7.7,-9.5C9.5,-10.0 10.3,-9.6 10.3,-7.8Z" fill="#5e5e5e" stroke="#a6a6a6" stroke-width="1.0"/></g><circle cx="610.9" cy="107.7" r="1.8" fill="#e2e2e2"/>
<g transform="translate(637.7,107.7) rotate(0)"><path d="M10.3,-7.8L10.3,7.8C10.3,9.6 9.5,10.0 7.7,9.5C4.2,8.6 1.6,5.0 1.6,0C1.6,-5.0 4.2,-8.6 7.7,-9.5C9.5,-10.0 10.3,-9.6 10.3,-7.8Z" fill="#5e5e5e" stroke="#a6a6a6" stroke-width="1.0"/></g><circle cx="637.7" cy="107.7" r="1.8" fill="#e2e2e2"/>
<g transform="translate(396.5,134.7) rotate(180)"><path d="M10.3,-7.8L10.3,7.8C10.3,9.6 9.5,10.0 7.7,9.5C4.2,8.6 1.6,5.0 1.6,0C1.6,-5.0 4.2,-8.6 7.7,-9.5C9.5,-10.0 10.3,-9.6 10.3,-7.8Z" fill="#5e5e5e" stroke="#a6a6a6" stroke-width="1.0"/></g><circle cx="396.5" cy="134.7" r="1.8" fill="#e2e2e2"/>
<g transform="translate(423.3,134.7) rotate(180)"><path d="M10.3,-7.8L10.3,7.8C10.3,9.6 9.5,10.0 7.7,9.5C4.2,8.6 1.6,5.0 1.6,0C1.6,-5.0 4.2,-8.6 7.7,-9.5C9.5,-10.0 10.3,-9.6 10.3,-7.8Z" fill="#5e5e5e" stroke="#a6a6a6" stroke-width="1.0"/></g><circle cx="423.3" cy="134.7" r="1.8" fill="#e2e2e2"/>
<g transform="translate(450.1,134.7) rotate(180)"><path d="M10.3,-7.8L10.3,7.8C10.3,9.6 9.5,10.0 7.7,9.5C4.2,8.6 1.6,5.0 1.6,0C1.6,-5.0 4.2,-8.6 7.7,-9.5C9.5,-10.0 10.3,-9.6 10.3,-7.8Z" fill="#5e5e5e" stroke="#a6a6a6" stroke-width="1.0"/></g><circle cx="450.1" cy="134.7" r="1.8" fill="#e2e2e2"/>
<g transform="translate(476.9,134.7) rotate(180)"><path d="M10.3,-7.8L10.3,7.8C10.3,9.6 9.5,10.0 7.7,9.5C4.2,8.6 1.6,5.0 1.6,0C1.6,-5.0 4.2,-8.6 7.7,-9.5C9.5,-10.0 10.3,-9.6 10.3,-7.8Z" fill="#5e5e5e" stroke="#a6a6a6" stroke-width="1.0"/></g><circle cx="476.9" cy="134.7" r="1.8" fill="#e2e2e2"/>
<g transform="translate(503.7,134.7) rotate(270)"><path d="M10.3,-7.8L10.3,7.8C10.3,9.6 9.5,10.0 7.7,9.5C4.2,8.6 1.6,5.0 1.6,0C1.6,-5.0 4.2,-8.6 7.7,-9.5C9.5,-10.0 10.3,-9.6 10.3,-7.8Z" fill="#5e5e5e" stroke="#a6a6a6" stroke-width="1.0"/></g><circle cx="503.7" cy="134.7" r="1.8" fill="#e2e2e2"/>
<g transform="translate(530.5,134.7) rotate(0)"><path d="M10.3,-7.8L10.3,7.8C10.3,9.6 9.5,10.0 7.7,9.5C4.2,8.6 1.6,5.0 1.6,0C1.6,-5.0 4.2,-8.6 7.7,-9.5C9.5,-10.0 10.3,-9.6 10.3,-7.8Z" fill="#5e5e5e" stroke="#a6a6a6" stroke-width="1.0"/></g><circle cx="530.5" cy="134.7" r="1.8" fill="#e2e2e2"/>
<g transform="translate(557.3,134.7) rotate(0)"><path d="M10.3,-7.8L10.3,7.8C10.3,9.6 9.5,10.0 7.7,9.5C4.2,8.6 1.6,5.0 1.6,0C1.6,-5.0 4.2,-8.6 7.7,-9.5C9.5,-10.0 10.3,-9.6 10.3,-7.8Z" fill="#5e5e5e" stroke="#a6a6a6" stroke-width="1.0"/></g><circle cx="557.3" cy="134.7" r="1.8" fill="#e2e2e2"/>
<g transform="translate(584.1,134.7) rotate(0)"><path d="M10.3,-7.8L10.3,7.8C10.3,9.6 9.5,10.0 7.7,9.5C4.2,8.6 1.6,5.0 1.6,0C1.6,-5.0 4.2,-8.6 7.7,-9.5C9.5,-10.0 10.3,-9.6 10.3,-7.8Z" fill="#5e5e5e" stroke="#a6a6a6" stroke-width="1.0"/></g><circle cx="584.1" cy="134.7" r="1.8" fill="#e2e2e2"/>
<g transform="translate(610.9,134.7) rotate(0)"><path d="M10.3,-7.8L10.3,7.8C10.3,9.6 9.5,10.0 7.7,9.5C4.2,8.6 1.6,5.0 1.6,0C1.6,-5.0 4.2,-8.6 7.7,-9.5C9.5,-10.0 10.3,-9.6 10.3,-7.8Z" fill="#5e5e5e" stroke="#a6a6a6" stroke-width="1.0"/></g><circle cx="610.9" cy="134.7" r="1.8" fill="#e2e2e2"/>
<g transform="translate(637.7,134.7) rotate(0)"><path d="M10.3,-7.8L10.3,7.8C10.3,9.6 9.5,10.0 7.7,9.5C4.2,8.6 1.6,5.0 1.6,0C1.6,-5.0 4.2,-8.6 7.7,-9.5C9.5,-10.0 10.3,-9.6 10.3,-7.8Z" fill="#5e5e5e" stroke="#a6a6a6" stroke-width="1.0"/></g><circle cx="637.7" cy="134.7" r="1.8" fill="#e2e2e2"/>
<g transform="translate(396.5,161.8) rotate(180)"><path d="M10.3,-7.8L10.3,7.8C10.3,9.6 9.5,10.0 7.7,9.5C4.2,8.6 1.6,5.0 1.6,0C1.6,-5.0 4.2,-8.6 7.7,-9.5C9.5,-10.0 10.3,-9.6 10.3,-7.8Z" fill="#5e5e5e" stroke="#a6a6a6" stroke-width="1.0"/></g><circle cx="396.5" cy="161.8" r="1.8" fill="#e2e2e2"/>
<g transform="translate(423.3,161.8) rotate(180)"><path d="M10.3,-7.8L10.3,7.8C10.3,9.6 9.5,10.0 7.7,9.5C4.2,8.6 1.6,5.0 1.6,0C1.6,-5.0 4.2,-8.6 7.7,-9.5C9.5,-10.0 10.3,-9.6 10.3,-7.8Z" fill="#5e5e5e" stroke="#a6a6a6" stroke-width="1.0"/></g><circle cx="423.3" cy="161.8" r="1.8" fill="#e2e2e2"/>
<g transform="translate(450.1,161.8) rotate(180)"><path d="M10.3,-7.8L10.3,7.8C10.3,9.6 9.5,10.0 7.7,9.5C4.2,8.6 1.6,5.0 1.6,0C1.6,-5.0 4.2,-8.6 7.7,-9.5C9.5,-10.0 10.3,-9.6 10.3,-7.8Z" fill="#5e5e5e" stroke="#a6a6a6" stroke-width="1.0"/></g><circle cx="450.1" cy="161.8" r="1.8" fill="#e2e2e2"/>
<g transform="translate(476.9,161.8) rotate(180)"><path d="M10.3,-7.8L10.3,7.8C10.3,9.6 9.5,10.0 7.7,9.5C4.2,8.6 1.6,5.0 1.6,0C1.6,-5.0 4.2,-8.6 7.7,-9.5C9.5,-10.0 10.3,-9.6 10.3,-7.8Z" fill="#5e5e5e" stroke="#a6a6a6" stroke-width="1.0"/></g><circle cx="476.9" cy="161.8" r="1.8" fill="#e2e2e2"/>
<g transform="translate(503.7,161.8) rotate(180)"><path d="M10.3,-7.8L10.3,7.8C10.3,9.6 9.5,10.0 7.7,9.5C4.2,8.6 1.6,5.0 1.6,0C1.6,-5.0 4.2,-8.6 7.7,-9.5C9.5,-10.0 10.3,-9.6 10.3,-7.8Z" fill="#5e5e5e" stroke="#a6a6a6" stroke-width="1.0"/></g><circle cx="503.7" cy="161.8" r="1.8" fill="#e2e2e2"/>
<g transform="translate(530.5,161.8) rotate(90)"><path d="M10.3,-7.8L10.3,7.8C10.3,9.6 9.5,10.0 7.7,9.5C4.2,8.6 1.6,5.0 1.6,0C1.6,-5.0 4.2,-8.6 7.7,-9.5C9.5,-10.0 10.3,-9.6 10.3,-7.8Z" fill="#5e5e5e" stroke="#a6a6a6" stroke-width="1.0"/></g><circle cx="530.5" cy="161.8" r="1.8" fill="#e2e2e2"/>
<g transform="translate(557.3,161.8) rotate(0)"><path d="M10.3,-7.8L10.3,7.8C10.3,9.6 9.5,10.0 7.7,9.5C4.2,8.6 1.6,5.0 1.6,0C1.6,-5.0 4.2,-8.6 7.7,-9.5C9.5,-10.0 10.3,-9.6 10.3,-7.8Z" fill="#5e5e5e" stroke="#a6a6a6" stroke-width="1.0"/></g><circle cx="557.3" cy="161.8" r="1.8" fill="#e2e2e2"/>
<g transform="translate(584.1,161.8) rotate(0)"><path d="M10.3,-7.8L10.3,7.8C10.3,9.6 9.5,10.0 7.7,9.5C4.2,8.6 1.6,5.0 1.6,0C1.6,-5.0 4.2,-8.6 7.7,-9.5C9.5,-10.0 10.3,-9.6 10.3,-7.8Z" fill="#5e5e5e" stroke="#a6a6a6" stroke-width="1.0"/></g><circle cx="584.1" cy="161.8" r="1.8" fill="#e2e2e2"/>
<g transform="translate(610.9,161.8) rotate(0)"><path d="M10.3,-7.8L10.3,7.8C10.3,9.6 9.5,10.0 7.7,9.5C4.2,8.6 1.6,5.0 1.6,0C1.6,-5.0 4.2,-8.6 7.7,-9.5C9.5,-10.0 10.3,-9.6 10.3,-7.8Z" fill="#5e5e5e" stroke="#a6a6a6" stroke-width="1.0"/></g><circle cx="610.9" cy="161.8" r="1.8" fill="#e2e2e2"/>
<g transform="translate(637.7,161.8) rotate(0)"><path d="M10.3,-7.8L10.3,7.8C10.3,9.6 9.5,10.0 7.7,9.5C4.2,8.6 1.6,5.0 1.6,0C1.6,-5.0 4.2,-8.6 7.7,-9.5C9.5,-10.0 10.3,-9.6 10.3,-7.8Z" fill="#5e5e5e" stroke="#a6a6a6" stroke-width="1.0"/></g><circle cx="637.7" cy="161.8" r="1.8" fill="#e2e2e2"/>
<g transform="translate(396.5,188.8) rotate(180)"><path d="M10.3,-7.8L10.3,7.8C10.3,9.6 9.5,10.0 7.7,9.5C4.2,8.6 1.6,5.0 1.6,0C1.6,-5.0 4.2,-8.6 7.7,-9.5C9.5,-10.0 10.3,-9.6 10.3,-7.8Z" fill="#5e5e5e" stroke="#a6a6a6" stroke-width="1.0"/></g><circle cx="396.5" cy="188.8" r="1.8" fill="#e2e2e2"/>
<g transform="translate(423.3,188.8) rotate(180)"><path d="M10.3,-7.8L10.3,7.8C10.3,9.6 9.5,10.0 7.7,9.5C4.2,8.6 1.6,5.0 1.6,0C1.6,-5.0 4.2,-8.6 7.7,-9.5C9.5,-10.0 10.3,-9.6 10.3,-7.8Z" fill="#5e5e5e" stroke="#a6a6a6" stroke-width="1.0"/></g><circle cx="423.3" cy="188.8" r="1.8" fill="#e2e2e2"/>
<g transform="translate(450.1,188.8) rotate(180)"><path d="M10.3,-7.8L10.3,7.8C10.3,9.6 9.5,10.0 7.7,9.5C4.2,8.6 1.6,5.0 1.6,0C1.6,-5.0 4.2,-8.6 7.7,-9.5C9.5,-10.0 10.3,-9.6 10.3,-7.8Z" fill="#5e5e5e" stroke="#a6a6a6" stroke-width="1.0"/></g><circle cx="450.1" cy="188.8" r="1.8" fill="#e2e2e2"/>
<g transform="translate(476.9,188.8) rotate(180)"><path d="M10.3,-7.8L10.3,7.8C10.3,9.6 9.5,10.0 7.7,9.5C4.2,8.6 1.6,5.0 1.6,0C1.6,-5.0 4.2,-8.6 7.7,-9.5C9.5,-10.0 10.3,-9.6 10.3,-7.8Z" fill="#5e5e5e" stroke="#a6a6a6" stroke-width="1.0"/></g><circle cx="476.9" cy="188.8" r="1.8" fill="#e2e2e2"/>
<g transform="translate(503.7,188.8) rotate(90)"><path d="M10.3,-7.8L10.3,7.8C10.3,9.6 9.5,10.0 7.7,9.5C4.2,8.6 1.6,5.0 1.6,0C1.6,-5.0 4.2,-8.6 7.7,-9.5C9.5,-10.0 10.3,-9.6 10.3,-7.8Z" fill="#5e5e5e" stroke="#a6a6a6" stroke-width="1.0"/></g><circle cx="503.7" cy="188.8" r="1.8" fill="#e2e2e2"/>
<g transform="translate(530.5,188.8) rotate(90)"><path d="M10.3,-7.8L10.3,7.8C10.3,9.6 9.5,10.0 7.7,9.5C4.2,8.6 1.6,5.0 1.6,0C1.6,-5.0 4.2,-8.6 7.7,-9.5C9.5,-10.0 10.3,-9.6 10.3,-7.8Z" fill="#5e5e5e" stroke="#a6a6a6" stroke-width="1.0"/></g><circle cx="530.5" cy="188.8" r="1.8" fill="#e2e2e2"/>
<g transform="translate(557.3,188.8) rotate(90)"><path d="M10.3,-7.8L10.3,7.8C10.3,9.6 9.5,10.0 7.7,9.5C4.2,8.6 1.6,5.0 1.6,0C1.6,-5.0 4.2,-8.6 7.7,-9.5C9.5,-10.0 10.3,-9.6 10.3,-7.8Z" fill="#5e5e5e" stroke="#a6a6a6" stroke-width="1.0"/></g><circle cx="557.3" cy="188.8" r="1.8" fill="#e2e2e2"/>
<g transform="translate(584.1,188.8) rotate(0)"><path d="M10.3,-7.8L10.3,7.8C10.3,9.6 9.5,10.0 7.7,9.5C4.2,8.6 1.6,5.0 1.6,0C1.6,-5.0 4.2,-8.6 7.7,-9.5C9.5,-10.0 10.3,-9.6 10.3,-7.8Z" fill="#5e5e5e" stroke="#a6a6a6" stroke-width="1.0"/></g><circle cx="584.1" cy="188.8" r="1.8" fill="#e2e2e2"/>
<g transform="translate(610.9,188.8) rotate(0)"><path d="M10.3,-7.8L10.3,7.8C10.3,9.6 9.5,10.0 7.7,9.5C4.2,8.6 1.6,5.0 1.6,0C1.6,-5.0 4.2,-8.6 7.7,-9.5C9.5,-10.0 10.3,-9.6 10.3,-7.8Z" fill="#5e5e5e" stroke="#a6a6a6" stroke-width="1.0"/></g><circle cx="610.9" cy="188.8" r="1.8" fill="#e2e2e2"/>
<g transform="translate(637.7,188.8) rotate(0)"><path d="M10.3,-7.8L10.3,7.8C10.3,9.6 9.5,10.0 7.7,9.5C4.2,8.6 1.6,5.0 1.6,0C1.6,-5.0 4.2,-8.6 7.7,-9.5C9.5,-10.0 10.3,-9.6 10.3,-7.8Z" fill="#5e5e5e" stroke="#a6a6a6" stroke-width="1.0"/></g><circle cx="637.7" cy="188.8" r="1.8" fill="#e2e2e2"/>
<g transform="translate(396.5,215.8) rotate(180)"><path d="M10.3,-7.8L10.3,7.8C10.3,9.6 9.5,10.0 7.7,9.5C4.2,8.6 1.6,5.0 1.6,0C1.6,-5.0 4.2,-8.6 7.7,-9.5C9.5,-10.0 10.3,-9.6 10.3,-7.8Z" fill="#5e5e5e" stroke="#a6a6a6" stroke-width="1.0"/></g><circle cx="396.5" cy="215.8" r="1.8" fill="#e2e2e2"/>
<g transform="translate(423.3,215.8) rotate(180)"><path d="M10.3,-7.8L10.3,7.8C10.3,9.6 9.5,10.0 7.7,9.5C4.2,8.6 1.6,5.0 1.6,0C1.6,-5.0 4.2,-8.6 7.7,-9.5C9.5,-10.0 10.3,-9.6 10.3,-7.8Z" fill="#5e5e5e" stroke="#a6a6a6" stroke-width="1.0"/></g><circle cx="423.3" cy="215.8" r="1.8" fill="#e2e2e2"/>
<g transform="translate(450.1,215.8) rotate(180)"><path d="M10.3,-7.8L10.3,7.8C10.3,9.6 9.5,10.0 7.7,9.5C4.2,8.6 1.6,5.0 1.6,0C1.6,-5.0 4.2,-8.6 7.7,-9.5C9.5,-10.0 10.3,-9.6 10.3,-7.8Z" fill="#5e5e5e" stroke="#a6a6a6" stroke-width="1.0"/></g><circle cx="450.1" cy="215.8" r="1.8" fill="#e2e2e2"/>
<g transform="translate(476.9,215.8) rotate(90)"><path d="M10.3,-7.8L10.3,7.8C10.3,9.6 9.5,10.0 7.7,9.5C4.2,8.6 1.6,5.0 1.6,0C1.6,-5.0 4.2,-8.6 7.7,-9.5C9.5,-10.0 10.3,-9.6 10.3,-7.8Z" fill="#5e5e5e" stroke="#a6a6a6" stroke-width="1.0"/></g><circle cx="476.9" cy="215.8" r="1.8" fill="#e2e2e2"/>
<g transform="translate(503.7,215.8) rotate(90)"><path d="M10.3,-7.8L10.3,7.8C10.3,9.6 9.5,10.0 7.7,9.5C4.2,8.6 1.6,5.0 1.6,0C1.6,-5.0 4.2,-8.6 7.7,-9.5C9.5,-10.0 10.3,-9.6 10.3,-7.8Z" fill="#5e5e5e" stroke="#a6a6a6" stroke-width="1.0"/></g><circle cx="503.7" cy="215.8" r="1.8" fill="#e2e2e2"/>
<g transform="translate(530.5,215.8) rotate(90)"><path d="M10.3,-7.8L10.3,7.8C10.3,9.6 9.5,10.0 7.7,9.5C4.2,8.6 1.6,5.0 1.6,0C1.6,-5.0 4.2,-8.6 7.7,-9.5C9.5,-10.0 10.3,-9.6 10.3,-7.8Z" fill="#5e5e5e" stroke="#a6a6a6" stroke-width="1.0"/></g><circle cx="530.5" cy="215.8" r="1.8" fill="#e2e2e2"/>
<g transform="translate(557.3,215.8) rotate(90)"><path d="M10.3,-7.8L10.3,7.8C10.3,9.6 9.5,10.0 7.7,9.5C4.2,8.6 1.6,5.0 1.6,0C1.6,-5.0 4.2,-8.6 7.7,-9.5C9.5,-10.0 10.3,-9.6 10.3,-7.8Z" fill="#5e5e5e" stroke="#a6a6a6" stroke-width="1.0"/></g><circle cx="557.3" cy="215.8" r="1.8" fill="#e2e2e2"/>
<g transform="translate(584.1,215.8) rotate(90)"><path d="M10.3,-7.8L10.3,7.8C10.3,9.6 9.5,10.0 7.7,9.5C4.2,8.6 1.6,5.0 1.6,0C1.6,-5.0 4.2,-8.6 7.7,-9.5C9.5,-10.0 10.3,-9.6 10.3,-7.8Z" fill="#5e5e5e" stroke="#a6a6a6" stroke-width="1.0"/></g><circle cx="584.1" cy="215.8" r="1.8" fill="#e2e2e2"/>
<g transform="translate(610.9,215.8) rotate(0)"><path d="M10.3,-7.8L10.3,7.8C10.3,9.6 9.5,10.0 7.7,9.5C4.2,8.6 1.6,5.0 1.6,0C1.6,-5.0 4.2,-8.6 7.7,-9.5C9.5,-10.0 10.3,-9.6 10.3,-7.8Z" fill="#5e5e5e" stroke="#a6a6a6" stroke-width="1.0"/></g><circle cx="610.9" cy="215.8" r="1.8" fill="#e2e2e2"/>
<g transform="translate(637.7,215.8) rotate(0)"><path d="M10.3,-7.8L10.3,7.8C10.3,9.6 9.5,10.0 7.7,9.5C4.2,8.6 1.6,5.0 1.6,0C1.6,-5.0 4.2,-8.6 7.7,-9.5C9.5,-10.0 10.3,-9.6 10.3,-7.8Z" fill="#5e5e5e" stroke="#a6a6a6" stroke-width="1.0"/></g><circle cx="637.7" cy="215.8" r="1.8" fill="#e2e2e2"/>
<g transform="translate(396.5,242.9) rotate(180)"><path d="M10.3,-7.8L10.3,7.8C10.3,9.6 9.5,10.0 7.7,9.5C4.2,8.6 1.6,5.0 1.6,0C1.6,-5.0 4.2,-8.6 7.7,-9.5C9.5,-10.0 10.3,-9.6 10.3,-7.8Z" fill="#5e5e5e" stroke="#a6a6a6" stroke-width="1.0"/></g><circle cx="396.5" cy="242.9" r="1.8" fill="#e2e2e2"/>
<g transform="translate(423.3,242.9) rotate(180)"><path d="M10.3,-7.8L10.3,7.8C10.3,9.6 9.5,10.0 7.7,9.5C4.2,8.6 1.6,5.0 1.6,0C1.6,-5.0 4.2,-8.6 7.7,-9.5C9.5,-10.0 10.3,-9.6 10.3,-7.8Z" fill="#5e5e5e" stroke="#a6a6a6" stroke-width="1.0"/></g><circle cx="423.3" cy="242.9" r="1.8" fill="#e2e2e2"/>
<g transform="translate(450.1,242.9) rotate(90)"><path d="M10.3,-7.8L10.3,7.8C10.3,9.6 9.5,10.0 7.7,9.5C4.2,8.6 1.6,5.0 1.6,0C1.6,-5.0 4.2,-8.6 7.7,-9.5C9.5,-10.0 10.3,-9.6 10.3,-7.8Z" fill="#5e5e5e" stroke="#a6a6a6" stroke-width="1.0"/></g><circle cx="450.1" cy="242.9" r="1.8" fill="#e2e2e2"/>
<g transform="translate(476.9,242.9) rotate(90)"><path d="M10.3,-7.8L10.3,7.8C10.3,9.6 9.5,10.0 7.7,9.5C4.2,8.6 1.6,5.0 1.6,0C1.6,-5.0 4.2,-8.6 7.7,-9.5C9.5,-10.0 10.3,-9.6 10.3,-7.8Z" fill="#5e5e5e" stroke="#a6a6a6" stroke-width="1.0"/></g><circle cx="476.9" cy="242.9" r="1.8" fill="#e2e2e2"/>
<g transform="translate(503.7,242.9) rotate(90)"><path d="M10.3,-7.8L10.3,7.8C10.3,9.6 9.5,10.0 7.7,9.5C4.2,8.6 1.6,5.0 1.6,0C1.6,-5.0 4.2,-8.6 7.7,-9.5C9.5,-10.0 10.3,-9.6 10.3,-7.8Z" fill="#5e5e5e" stroke="#a6a6a6" stroke-width="1.0"/></g><circle cx="503.7" cy="242.9" r="1.8" fill="#e2e2e2"/>
<g transform="translate(530.5,242.9) rotate(90)"><path d="M10.3,-7.8L10.3,7.8C10.3,9.6 9.5,10.0 7.7,9.5C4.2,8.6 1.6,5.0 1.6,0C1.6,-5.0 4.2,-8.6 7.7,-9.5C9.5,-10.0 10.3,-9.6 10.3,-7.8Z" fill="#5e5e5e" stroke="#a6a6a6" stroke-width="1.0"/></g><circle cx="530.5" cy="242.9" r="1.8" fill="#e2e2e2"/>
<g transform="translate(557.3,242.9) rotate(90)"><path d="M10.3,-7.8L10.3,7.8C10.3,9.6 9.5,10.0 7.7,9.5C4.2,8.6 1.6,5.0 1.6,0C1.6,-5.0 4.2,-8.6 7.7,-9.5C9.5,-10.0 10.3,-9.6 10.3,-7.8Z" fill="#5e5e5e" stroke="#a6a6a6" stroke-width="1.0"/></g><circle cx="557.3" cy="242.9" r="1.8" fill="#e2e2e2"/>
<g transform="translate(584.1,242.9) rotate(90)"><path d="M10.3,-7.8L10.3,7.8C10.3,9.6 9.5,10.0 7.7,9.5C4.2,8.6 1.6,5.0 1.6,0C1.6,-5.0 4.2,-8.6 7.7,-9.5C9.5,-10.0 10.3,-9.6 10.3,-7.8Z" fill="#5e5e5e" stroke="#a6a6a6" stroke-width="1.0"/></g><circle cx="584.1" cy="242.9" r="1.8" fill="#e2e2e2"/>
<g transform="translate(610.9,242.9) rotate(90)"><path d="M10.3,-7.8L10.3,7.8C10.3,9.6 9.5,10.0 7.7,9.5C4.2,8.6 1.6,5.0 1.6,0C1.6,-5.0 4.2,-8.6 7.7,-9.5C9.5,-10.0 10.3,-9.6 10.3,-7.8Z" fill="#5e5e5e" stroke="#a6a6a6" stroke-width="1.0"/></g><circle cx="610.9" cy="242.9" r="1.8" fill="#e2e2e2"/>
<g transform="translate(637.7,242.9) rotate(0)"><path d="M10.3,-7.8L10.3,7.8C10.3,9.6 9.5,10.0 7.7,9.5C4.2,8.6 1.6,5.0 1.6,0C1.6,-5.0 4.2,-8.6 7.7,-9.5C9.5,-10.0 10.3,-9.6 10.3,-7.8Z" fill="#5e5e5e" stroke="#a6a6a6" stroke-width="1.0"/></g><circle cx="637.7" cy="242.9" r="1.8" fill="#e2e2e2"/>
<g transform="translate(396.5,270.0) rotate(180)"><path d="M10.3,-7.8L10.3,7.8C10.3,9.6 9.5,10.0 7.7,9.5C4.2,8.6 1.6,5.0 1.6,0C1.6,-5.0 4.2,-8.6 7.7,-9.5C9.5,-10.0 10.3,-9.6 10.3,-7.8Z" fill="#5e5e5e" stroke="#a6a6a6" stroke-width="1.0"/></g><circle cx="396.5" cy="270.0" r="1.8" fill="#e2e2e2"/>
<g transform="translate(423.3,270.0) rotate(90)"><path d="M10.3,-7.8L10.3,7.8C10.3,9.6 9.5,10.0 7.7,9.5C4.2,8.6 1.6,5.0 1.6,0C1.6,-5.0 4.2,-8.6 7.7,-9.5C9.5,-10.0 10.3,-9.6 10.3,-7.8Z" fill="#5e5e5e" stroke="#a6a6a6" stroke-width="1.0"/></g><circle cx="423.3" cy="270.0" r="1.8" fill="#e2e2e2"/>
<g transform="translate(450.1,270.0) rotate(90)"><path d="M10.3,-7.8L10.3,7.8C10.3,9.6 9.5,10.0 7.7,9.5C4.2,8.6 1.6,5.0 1.6,0C1.6,-5.0 4.2,-8.6 7.7,-9.5C9.5,-10.0 10.3,-9.6 10.3,-7.8Z" fill="#5e5e5e" stroke="#a6a6a6" stroke-width="1.0"/></g><circle cx="450.1" cy="270.0" r="1.8" fill="#e2e2e2"/>
<g transform="translate(476.9,270.0) rotate(90)"><path d="M10.3,-7.8L10.3,7.8C10.3,9.6 9.5,10.0 7.7,9.5C4.2,8.6 1.6,5.0 1.6,0C1.6,-5.0 4.2,-8.6 7.7,-9.5C9.5,-10.0 10.3,-9.6 10.3,-7.8Z" fill="#5e5e5e" stroke="#a6a6a6" stroke-width="1.0"/></g><circle cx="476.9" cy="270.0" r="1.8" fill="#e2e2e2"/>
<g transform="translate(503.7,270.0) rotate(90)"><path d="M10.3,-7.8L10.3,7.8C10.3,9.6 9.5,10.0 7.7,9.5C4.2,8.6 1.6,5.0 1.6,0C1.6,-5.0 4.2,-8.6 7.7,-9.5C9.5,-10.0 10.3,-9.6 10.3,-7.8Z" fill="#5e5e5e" stroke="#a6a6a6" stroke-width="1.0"/></g><circle cx="503.7" cy="270.0" r="1.8" fill="#e2e2e2"/>
<g transform="translate(530.5,270.0) rotate(90)"><path d="M10.3,-7.8L10.3,7.8C10.3,9.6 9.5,10.0 7.7,9.5C4.2,8.6 1.6,5.0 1.6,0C1.6,-5.0 4.2,-8.6 7.7,-9.5C9.5,-10.0 10.3,-9.6 10.3,-7.8Z" fill="#5e5e5e" stroke="#a6a6a6" stroke-width="1.0"/></g><circle cx="530.5" cy="270.0" r="1.8" fill="#e2e2e2"/>
<g transform="translate(557.3,270.0) rotate(90)"><path d="M10.3,-7.8L10.3,7.8C10.3,9.6 9.5,10.0 7.7,9.5C4.2,8.6 1.6,5.0 1.6,0C1.6,-5.0 4.2,-8.6 7.7,-9.5C9.5,-10.0 10.3,-9.6 10.3,-7.8Z" fill="#5e5e5e" stroke="#a6a6a6" stroke-width="1.0"/></g><circle cx="557.3" cy="270.0" r="1.8" fill="#e2e2e2"/>
<g transform="translate(584.1,270.0) rotate(90)"><path d="M10.3,-7.8L10.3,7.8C10.3,9.6 9.5,10.0 7.7,9.5C4.2,8.6 1.6,5.0 1.6,0C1.6,-5.0 4.2,-8.6 7.7,-9.5C9.5,-10.0 10.3,-9.6 10.3,-7.8Z" fill="#5e5e5e" stroke="#a6a6a6" stroke-width="1.0"/></g><circle cx="584.1" cy="270.0" r="1.8" fill="#e2e2e2"/>
<g transform="translate(610.9,270.0) rotate(90)"><path d="M10.3,-7.8L10.3,7.8C10.3,9.6 9.5,10.0 7.7,9.5C4.2,8.6 1.6,5.0 1.6,0C1.6,-5.0 4.2,-8.6 7.7,-9.5C9.5,-10.0 10.3,-9.6 10.3,-7.8Z" fill="#5e5e5e" stroke="#a6a6a6" stroke-width="1.0"/></g><circle cx="610.9" cy="270.0" r="1.8" fill="#e2e2e2"/>
<g transform="translate(637.7,270.0) rotate(90)"><path d="M10.3,-7.8L10.3,7.8C10.3,9.6 9.5,10.0 7.7,9.5C4.2,8.6 1.6,5.0 1.6,0C1.6,-5.0 4.2,-8.6 7.7,-9.5C9.5,-10.0 10.3,-9.6 10.3,-7.8Z" fill="#5e5e5e" stroke="#a6a6a6" stroke-width="1.0"/></g><circle cx="637.7" cy="270.0" r="1.8" fill="#e2e2e2"/>
</g>
</g></g>
<rect x="364.8" y="8.5" width="62.5" height="61" fill="#fff"/>
<rect x="594" y="278" width="72" height="5.4" fill="#fff"/>
<text x="370.3" y="99" font-family='"Liberation Sans", Arial, sans-serif' font-weight="700" font-size="24" fill="#ffc000">TYPE-B</text>
</g>
<g id="panel-C">
<clipPath id="clipC"><rect x="717" y="8" width="299.0" height="284.5"/></clipPath>
<g clip-path="url(#clipC)"><g filter="url(#grainC)">
<rect x="715" y="6" width="303.0" height="288.5" fill="#2d2d2d"/>
<rect x="735" y="18" width="262" height="262" rx="14" fill="#363636" filter="url(#glow2)"/>
<g filter="url(#glow)" opacity="0.5" fill="#505050">
<circle cx="746.2" cy="26.3" r="10"/>
<circle cx="772.2" cy="26.3" r="10"/>
<circle cx="798.3" cy="26.3" r="10"/>
<circle cx="824.4" cy="26.3" r="10"/>
<circle cx="850.4" cy="26.3" r="10"/>
<circle cx="876.5" cy="26.3" r="10"/>
<circle cx="902.5" cy="26.3" r="10"/>
<circle cx="928.6" cy="26.3" r="10"/>
<circle cx="954.6" cy="26.3" r="10"/>
<circle cx="986.7" cy="32.3" r="10"/>
<circle cx="740.2" cy="58.7" r="10"/>
<circle cx="772.2" cy="52.7" r="10"/>
<circle cx="798.3" cy="52.7" r="10"/>
<circle cx="824.4" cy="52.7" r="10"/>
<circle cx="850.4" cy="52.7" r="10"/>
<circle cx="876.5" cy="52.7" r="10"/>
<circle cx="902.5" cy="52.7" r="10"/>
<circle cx="928.6" cy="52.7" r="10"/>
<circle cx="960.6" cy="58.7" r="10"/>
<circle cx="986.7" cy="58.7" r="10"/>
<circle cx="740.2" cy="85.1" r="10"/>
<circle cx="766.2" cy="85.1" r="10"/>
<circle cx="798.3" cy="79.1" r="10"/>
<circle cx="824.4" cy="79.1" r="10"/>
<circle cx="850.4" cy="79.1" r="10"/>
<circle cx="876.5" cy="79.1" r="10"/>
<circle cx="902.5" cy="79.1" r="10"/>
<circle cx="934.6" cy="85.1" r="10"/>
<circle cx="960.6" cy="85.1" r="10"/>
<circle cx="986.7" cy="85.1" r="10"/>
<circle cx="740.2" cy="111.5" r="10"/>
<circle cx="766.2" cy="111.5" r="10"/>
<circle cx="792.3" cy="111.5" r="10"/>
<circle cx="824.4" cy="105.5" r="10"/>
<circle cx="850.4" cy="105.5" r="10"/>
<circle cx="876.5" cy="105.5" r="10"/>
<circle cx="908.5" cy="111.5" r="10"/>
<circle cx="934.6" cy="111.5" r="10"/>
<circle cx="960.6" cy="111.5" r="10"/>
<circle cx="986.7" cy="111.5" r="10"/>
<circle cx="740.2" cy="137.9" r="10"/>
<circle cx="766.2" cy="137.9" r="10"/>
<circle cx="792.3" cy="137.9" r="10"/>
<circle cx="818.4" cy="137.9" r="10"/>
<circle cx="844.4" cy="137.9" r="10"/>
<circle cx="882.5" cy="137.9" r="10"/>
<circle cx="908.5" cy="137.9" r="10"/>
<circle cx="934.6" cy="137.9" r="10"/>
<circle cx="960.6" cy="137.9" r="10"/>
<circle cx="986.7" cy="137.9" r="10"/>
<circle cx="740.2" cy="164.3" r="10"/>
<circle cx="766.2" cy="164.3" r="10"/>
<circle cx="792.3" cy="164.3" r="10"/>
<circle cx="818.4" cy="164.3" r="10"/>
<circle cx="844.4" cy="164.3" r="10"/>
<circle cx="882.5" cy="164.3" r="10"/>
<circle cx="908.5" cy="164.3" r="10"/>
<circle cx="934.6" cy="164.3" r="10"/>
<circle cx="960.6" cy="164.3" r="10"/>
<circle cx="986.7" cy="164.3" r="10"/>
<circle cx="740.2" cy="190.7" r="10"/>
<circle cx="766.2" cy="190.7" r="10"/>
<circle cx="792.3" cy="190.7" r="10"/>
<circle cx="818.4" cy="190.7" r="10"/>
<circle cx="850.4" cy="196.7" r="10"/>
<circle cx="876.5" cy="196.7" r="10"/>
<circle cx="902.5" cy="196.7" r="10"/>
<circle cx="934.6" cy="190.7" r="10"/>
<circle cx="960.6" cy="190.7" r="10"/>
<circle cx="986.7" cy="190.7" r="10"/>
<circle cx="740.2" cy="217.1" r="10"/>
<circle cx="766.2" cy="217.1" r="10"/>
<circle cx="792.3" cy="217.1" r="10"/>
<circle cx="824.4" cy="223.1" r="10"/>
<circle cx="850.4" cy="223.1" r="10"/>
<circle cx="876.5" cy="223.1" r="10"/>
<circle cx="902.5" cy="223.1" r="10"/>
<circle cx="928.6" cy="223.1" r="10"/>
<circle cx="960.6" cy="217.1" r="10"/>
<circle cx="986.7" cy="217.1" r="10"/>
<circle cx="740.2" cy="243.5" r="10"/>
<circle cx="766.2" cy="243.5" r="10"/>
<circle cx="798.3" cy="249.5" r="10"/>
<circle cx="824.4" cy="249.5" r="10"/>
<circle cx="850.4" cy="249.5" r="10"/>
<circle cx="876.5" cy="249.5" r="10"/>
<circle cx="902.5" cy="249.5" r="10"/>
<circle cx="928.6" cy="249.5" r="10"/>
<circle cx="954.6" cy="249.5" r="10"/>
<circle cx="986.7" cy="243.5" r="10"/>
<circle cx="740.2" cy="269.9" r="10"/>
<circle cx="772.2" cy="275.9" r="10"/>
<circle cx="798.3" cy="275.9" r="10"/>
<circle cx="824.4" cy="275.9" r="10"/>
<circle cx="850.4" cy="275.9" r="10"/>
<circle cx="876.5" cy="275.9" r="10"/>
<circle cx="902.5" cy="275.9" r="10"/>
<circle cx="928.6" cy="275.9" r="10"/>
<circle cx="954.6" cy="275.9" r="10"/>
<circle cx="980.7" cy="275.9" r="10"/>
</g>
<g filter="url(#soft)">
<g transform="translate(746.2,32.3) rotate(270)"><path d="M11.4,-7.5L11.4,7.5C11.4,9.3 10.6,9.8 8.8,9.2C4.3,8.4 1.2,4.9 1.2,0C1.2,-4.9 4.3,-8.4 8.8,-9.2C10.6,-9.8 11.4,-9.3 11.4,-7.5Z" fill="#2f2f2f" stroke="#848484" stroke-width="1.15"/></g><circle cx="746.2" cy="32.3" r="1.7" fill="#c0c0c0"/>
<g transform="translate(772.2,32.3) rotate(270)"><path d="M11.4,-7.5L11.4,7.5C11.4,9.3 10.6,9.8 8.8,9.2C4.3,8.4 1.2,4.9 1.2,0C1.2,-4.9 4.3,-8.4 8.8,-9.2C10.6,-9.8 11.4,-9.3 11.4,-7.5Z" fill="#2f2f2f" stroke="#848484" stroke-width="1.15"/></g><circle cx="772.2" cy="32.3" r="1.7" fill="#c0c0c0"/>
<g transform="translate(798.3,32.3) rotate(270)"><path d="M11.4,-7.5L11.4,7.5C11.4,9.3 10.6,9.8 8.8,9.2C4.3,8.4 1.2,4.9 1.2,0C1.2,-4.9 4.3,-8.4 8.8,-9.2C10.6,-9.8 11.4,-9.3 11.4,-7.5Z" fill="#2f2f2f" stroke="#848484" stroke-width="1.15"/></g><circle cx="798.3" cy="32.3" r="1.7" fill="#c0c0c0"/>
<g transform="translate(824.4,32.3) rotate(270)"><path d="M11.4,-7.5L11.4,7.5C11.4,9.3 10.6,9.8 8.8,9.2C4.3,8.4 1.2,4.9 1.2,0C1.2,-4.9 4.3,-8.4 8.8,-9.2C10.6,-9.8 11.4,-9.3 11.4,-7.5Z" fill="#2f2f2f" stroke="#848484" stroke-width="1.15"/></g><circle cx="824.4" cy="32.3" r="1.7" fill="#c0c0c0"/>
<g transform="translate(850.4,32.3) rotate(270)"><path d="M11.4,-7.5L11.4,7.5C11.4,9.3 10.6,9.8 8.8,9.2C4.3,8.4 1.2,4.9 1.2,0C1.2,-4.9 4.3,-8.4 8.8,-9.2C10.6,-9.8 11.4,-9.3 11.4,-7.5Z" fill="#2f2f2f" stroke="#848484" stroke-width="1.15"/></g><circle cx="850.4" cy="32.3" r="1.7" fill="#c0c0c0"/>
<g transform="translate(876.5,32.3) rotate(270)"><path d="M11.4,-7.5L11.4,7.5C11.4,9.3 10.6,9.8 8.8,9.2C4.3,8.4 1.2,4.9 1.2,0C1.2,-4.9 4.3,-8.4 8.8,-9.2C10.6,-9.8 11.4,-9.3 11.4,-7.5Z" fill="#2f2f2f" stroke="#848484" stroke-width="1.15"/></g><circle cx="876.5" cy="32.3" r="1.7" fill="#c0c0c0"/>
<g transform="translate(902.5,32.3) rotate(270)"><path d="M11.4,-7.5L11.4,7.5C11.4,9.3 10.6,9.8 8.8,9.2C4.3,8.4 1.2,4.9 1.2,0C1.2,-4.9 4.3,-8.4 8.8,-9.2C10.6,-9.8 11.4,-9.3 11.4,-7.5Z" fill="#2f2f2f" stroke="#848484" stroke-width="1.15"/></g><circle cx="902.5" cy="32.3" r="1.7" fill="#c0c0c0"/>
<g transform="translate(928.6,32.3) rotate(270)"><path d="M11.4,-7.5L11.4,7.5C11.4,9.3 10.6,9.8 8.8,9.2C4.3,8.4 1.2,4.9 1.2,0C1.2,-4.9 4.3,-8.4 8.8,-9.2C10.6,-9.8 11.4,-9.3 11.4,-7.5Z" fill="#2f2f2f" stroke="#848484" stroke-width="1.15"/></g><circle cx="928.6" cy="32.3" r="1.7" fill="#c0c0c0"/>
<g transform="translate(954.6,32.3) rotate(270)"><path d="M11.4,-7.5L11.4,7.5C11.4,9.3 10.6,9.8 8.8,9.2C4.3,8.4 1.2,4.9 1.2,0C1.2,-4.9 4.3,-8.4 8.8,-9.2C10.6,-9.8 11.4,-9.3 11.4,-7.5Z" fill="#2f2f2f" stroke="#848484" stroke-width="1.15"/></g><circle cx="954.6" cy="32.3" r="1.7" fill="#c0c0c0"/>
<g transform="translate(980.7,32.3) rotate(0)"><path d="M11.4,-7.5L11.4,7.5C11.4,9.3 10.6,9.8 8.8,9.2C4.3,8.4 1.2,4.9 1.2,0C1.2,-4.9 4.3,-8.4 8.8,-9.2C10.6,-9.8 11.4,-9.3 11.4,-7.5Z" fill="#2f2f2f" stroke="#848484" stroke-width="1.15"/></g><circle cx="980.7" cy="32.3" r="1.7" fill="#c0c0c0"/>
<g transform="translate(746.2,58.7) rotate(180)"><path d="M11.4,-7.5L11.4,7.5C11.4,9.3 10.6,9.8 8.8,9.2C4.3,8.4 1.2,4.9 1.2,0C1.2,-4.9 4.3,-8.4 8.8,-9.2C10.6,-9.8 11.4,-9.3 11.4,-7.5Z" fill="#2f2f2f" stroke="#848484" stroke-width="1.15"/></g><circle cx="746.2" cy="58.7" r="1.7" fill="#c0c0c0"/>
<g transform="translate(772.2,58.7) rotate(270)"><path d="M11.4,-7.5L11.4,7.5C11.4,9.3 10.6,9.8 8.8,9.2C4.3,8.4 1.2,4.9 1.2,0C1.2,-4.9 4.3,-8.4 8.8,-9.2C10.6,-9.8 11.4,-9.3 11.4,-7.5Z" fill="#2f2f2f" stroke="#848484" stroke-width="1.15"/></g><circle cx="772.2" cy="58.7" r="1.7" fill="#c0c0c0"/>
<g transform="translate(798.3,58.7) rotate(270)"><path d="M11.4,-7.5L11.4,7.5C11.4,9.3 10.6,9.8 8.8,9.2C4.3,8.4 1.2,4.9 1.2,0C1.2,-4.9 4.3,-8.4 8.8,-9.2C10.6,-9.8 11.4,-9.3 11.4,-7.5Z" fill="#2f2f2f" stroke="#848484" stroke-width="1.15"/></g><circle cx="798.3" cy="58.7" r="1.7" fill="#c0c0c0"/>
<g transform="translate(824.4,58.7) rotate(270)"><path d="M11.4,-7.5L11.4,7.5C11.4,9.3 10.6,9.8 8.8,9.2C4.3,8.4 1.2,4.9 1.2,0C1.2,-4.9 4.3,-8.4 8.8,-9.2C10.6,-9.8 11.4,-9.3 11.4,-7.5Z" fill="#2f2f2f" stroke="#848484" stroke-width="1.15"/></g><circle cx="824.4" cy="58.7" r="1.7" fill="#c0c0c0"/>
<g transform="translate(850.4,58.7) rotate(270)"><path d="M11.4,-7.5L11.4,7.5C11.4,9.3 10.6,9.8 8.8,9.2C4.3,8.4 1.2,4.9 1.2,0C1.2,-4.9 4.3,-8.4 8.8,-9.2C10.6,-9.8 11.4,-9.3 11.4,-7.5Z" fill="#2f2f2f" stroke="#848484" stroke-width="1.15"/></g><circle cx="850.4" cy="58.7" r="1.7" fill="#c0c0c0"/>
<g transform="translate(876.5,58.7) rotate(270)"><path d="M11.4,-7.5L11.4,7.5C11.4,9.3 10.6,9.8 8.8,9.2C4.3,8.4 1.2,4.9 1.2,0C1.2,-4.9 4.3,-8.4 8.8,-9.2C10.6,-9.8 11.4,-9.3 11.4,-7.5Z" fill="#2f2f2f" stroke="#848484" stroke-width="1.15"/></g><circle cx="876.5" cy="58.7" r="1.7" fill="#c0c0c0"/>
<g transform="translate(902.5,58.7) rotate(270)"><path d="M11.4,-7.5L11.4,7.5C11.4,9.3 10.6,9.8 8.8,9.2C4.3,8.4 1.2,4.9 1.2,0C1.2,-4.9 4.3,-8.4 8.8,-9.2C10.6,-9.8 11.4,-9.3 11.4,-7.5Z" fill="#2f2f2f" stroke="#848484" stroke-width="1.15"/></g><circle cx="902.5" cy="58.7" r="1.7" fill="#c0c0c0"/>
<g transform="translate(928.6,58.7) rotate(270)"><path d="M11.4,-7.5L11.4,7.5C11.4,9.3 10.6,9.8 8.8,9.2C4.3,8.4 1.2,4.9 1.2,0C1.2,-4.9 4.3,-8.4 8.8,-9.2C10.6,-9.8 11.4,-9.3 11.4,-7.5Z" fill="#2f2f2f" stroke="#848484" stroke-width="1.15"/></g><circle cx="928.6" cy="58.7" r="1.7" fill="#c0c0c0"/>
<g transform="translate(954.6,58.7) rotate(0)"><path d="M11.4,-7.5L11.4,7.5C11.4,9.3 10.6,9.8 8.8,9.2C4.3,8.4 1.2,4.9 1.2,0C1.2,-4.9 4.3,-8.4 8.8,-9.2C10.6,-9.8 11.4,-9.3 11.4,-7.5Z" fill="#2f2f2f" stroke="#848484" stroke-width="1.15"/></g><circle cx="954.6" cy="58.7" r="1.7" fill="#c0c0c0"/>
<g transform="translate(980.7,58.7) rotate(0)"><path d="M11.4,-7.5L11.4,7.5C11.4,9.3 10.6,9.8 8.8,9.2C4.3,8.4 1.2,4.9 1.2,0C1.2,-4.9 4.3,-8.4 8.8,-9.2C10.6,-9.8 11.4,-9.3 11.4,-7.5Z" fill="#2f2f2f" stroke="#848484" stroke-width="1.15"/></g><circle cx="980.7" cy="58.7" r="1.7" fill="#c0c0c0"/>
<g transform="translate(746.2,85.1) rotate(180)"><path d="M11.4,-7.5L11.4,7.5C11.4,9.3 10.6,9.8 8.8,9.2C4.3,8.4 1.2,4.9 1.2,0C1.2,-4.9 4.3,-8.4 8.8,-9.2C10.6,-9.8 11.4,-9.3 11.4,-7.5Z" fill="#2f2f2f" stroke="#848484" stroke-width="1.15"/></g><circle cx="746.2" cy="85.1" r="1.7" fill="#c0c0c0"/>
<g transform="translate(772.2,85.1) rotate(180)"><path d="M11.4,-7.5L11.4,7.5C11.4,9.3 10.6,9.8 8.8,9.2C4.3,8.4 1.2,4.9 1.2,0C1.2,-4.9 4.3,-8.4 8.8,-9.2C10.6,-9.8 11.4,-9.3 11.4,-7.5Z" fill="#2f2f2f" stroke="#848484" stroke-width="1.15"/></g><circle cx="772.2" cy="85.1" r="1.7" fill="#c0c0c0"/>
<g transform="translate(798.3,85.1) rotate(270)"><path d="M11.4,-7.5L11.4,7.5C11.4,9.3 10.6,9.8 8.8,9.2C4.3,8.4 1.2,4.9 1.2,0C1.2,-4.9 4.3,-8.4 8.8,-9.2C10.6,-9.8 11.4,-9.3 11.4,-7.5Z" fill="#2f2f2f" stroke="#848484" stroke-width="1.15"/></g><circle cx="798.3" cy="85.1" r="1.7" fill="#c0c0c0"/>
<g transform="translate(824.4,85.1) rotate(270)"><path d="M11.4,-7.5L11.4,7.5C11.4,9.3 10.6,9.8 8.8,9.2C4.3,8.4 1.2,4.9 1.2,0C1.2,-4.9 4.3,-8.4 8.8,-9.2C10.6,-9.8 11.4,-9.3 11.4,-7.5Z" fill="#2f2f2f" stroke="#848484" stroke-width="1.15"/></g><circle cx="824.4" cy="85.1" r="1.7" fill="#c0c0c0"/>
<g transform="translate(850.4,85.1) rotate(270)"><path d="M11.4,-7.5L11.4,7.5C11.4,9.3 10.6,9.8 8.8,9.2C4.3,8.4 1.2,4.9 1.2,0C1.2,-4.9 4.3,-8.4 8.8,-9.2C10.6,-9.8 11.4,-9.3 11.4,-7.5Z" fill="#2f2f2f" stroke="#848484" stroke-width="1.15"/></g><circle cx="850.4" cy="85.1" r="1.7" fill="#c0c0c0"/>
<g transform="translate(876.5,85.1) rotate(270)"><path d="M11.4,-7.5L11.4,7.5C11.4,9.3 10.6,9.8 8.8,9.2C4.3,8.4 1.2,4.9 1.2,0C1.2,-4.9 4.3,-8.4 8.8,-9.2C10.6,-9.8 11.4,-9.3 11.4,-7.5Z" fill="#2f2f2f" stroke="#848484" stroke-width="1.15"/></g><circle cx="876.5" cy="85.1" r="1.7" fill="#c0c0c0"/>
<g transform="translate(902.5,85.1) rotate(270)"><path d="M11.4,-7.5L11.4,7.5C11.4,9.3 10.6,9.8 8.8,9.2C4.3,8.4 1.2,4.9 1.2,0C1.2,-4.9 4.3,-8.4 8.8,-9.2C10.6,-9.8 11.4,-9.3 11.4,-7.5Z" fill="#2f2f2f" stroke="#848484" stroke-width="1.15"/></g><circle cx="902.5" cy="85.1" r="1.7" fill="#c0c0c0"/>
<g transform="translate(928.6,85.1) rotate(0)"><path d="M11.4,-7.5L11.4,7.5C11.4,9.3 10.6,9.8 8.8,9.2C4.3,8.4 1.2,4.9 1.2,0C1.2,-4.9 4.3,-8.4 8.8,-9.2C10.6,-9.8 11.4,-9.3 11.4,-7.5Z" fill="#2f2f2f" stroke="#848484" stroke-width="1.15"/></g><circle cx="928.6" cy="85.1" r="1.7" fill="#c0c0c0"/>
<g transform="translate(954.6,85.1) rotate(0)"><path d="M11.4,-7.5L11.4,7.5C11.4,9.3 10.6,9.8 8.8,9.2C4.3,8.4 1.2,4.9 1.2,0C1.2,-4.9 4.3,-8.4 8.8,-9.2C10.6,-9.8 11.4,-9.3 11.4,-7.5Z" fill="#2f2f2f" stroke="#848484" stroke-width="1.15"/></g><circle cx="954.6" cy="85.1" r="1.7" fill="#c0c0c0"/>
<g transform="translate(980.7,85.1) rotate(0)"><path d="M11.4,-7.5L11.4,7.5C11.4,9.3 10.6,9.8 8.8,9.2C4.3,8.4 1.2,4.9 1.2,0C1.2,-4.9 4.3,-8.4 8.8,-9.2C10.6,-9.8 11.4,-9.3 11.4,-7.5Z" fill="#2f2f2f" stroke="#848484" stroke-width="1.15"/></g><circle cx="980.7" cy="85.1" r="1.7" fill="#c0c0c0"/>
<g transform="translate(746.2,111.5) rotate(180)"><path d="M11.4,-7.5L11.4,7.5C11.4,9.3 10.6,9.8 8.8,9.2C4.3,8.4 1.2,4.9 1.2,0C1.2,-4.9 4.3,-8.4 8.8,-9.2C10.6,-9.8 11.4,-9.3 11.4,-7.5Z" fill="#2f2f2f" stroke="#848484" stroke-width="1.15"/></g><circle cx="746.2" cy="111.5" r="1.7" fill="#c0c0c0"/>
<g transform="translate(772.2,111.5) rotate(180)"><path d="M11.4,-7.5L11.4,7.5C11.4,9.3 10.6,9.8 8.8,9.2C4.3,8.4 1.2,4.9 1.2,0C1.2,-4.9 4.3,-8.4 8.8,-9.2C10.6,-9.8 11.4,-9.3 11.4,-7.5Z" fill="#2f2f2f" stroke="#848484" stroke-width="1.15"/></g><circle cx="772.2" cy="111.5" r="1.7" fill="#c0c0c0"/>
<g transform="translate(798.3,111.5) rotate(180)"><path d="M11.4,-7.5L11.4,7.5C11.4,9.3 10.6,9.8 8.8,9.2C4.3,8.4 1.2,4.9 1.2,0C1.2,-4.9 4.3,-8.4 8.8,-9.2C10.6,-9.8 11.4,-9.3 11.4,-7.5Z" fill="#2f2f2f" stroke="#848484" stroke-width="1.15"/></g><circle cx="798.3" cy="111.5" r="1.7" fill="#c0c0c0"/>
<g transform="translate(824.4,111.5) rotate(270)"><path d="M11.4,-7.5L11.4,7.5C11.4,9.3 10.6,9.8 8.8,9.2C4.3,8.4 1.2,4.9 1.2,0C1.2,-4.9 4.3,-8.4 8.8,-9.2C10.6,-9.8 11.4,-9.3 11.4,-7.5Z" fill="#2f2f2f" stroke="#848484" stroke-width="1.15"/></g><circle cx="824.4" cy="111.5" r="1.7" fill="#c0c0c0"/>
<g transform="translate(850.4,111.5) rotate(270)"><path d="M11.4,-7.5L11.4,7.5C11.4,9.3 10.6,9.8 8.8,9.2C4.3,8.4 1.2,4.9 1.2,0C1.2,-4.9 4.3,-8.4 8.8,-9.2C10.6,-9.8 11.4,-9.3 11.4,-7.5Z" fill="#2f2f2f" stroke="#848484" stroke-width="1.15"/></g><circle cx="850.4" cy="111.5" r="1.7" fill="#c0c0c0"/>
<g transform="translate(876.5,111.5) rotate(270)"><path d="M11.4,-7.5L11.4,7.5C11.4,9.3 10.6,9.8 8.8,9.2C4.3,8.4 1.2,4.9 1.2,0C1.2,-4.9 4.3,-8.4 8.8,-9.2C10.6,-9.8 11.4,-9.3 11.4,-7.5Z" fill="#2f2f2f" stroke="#848484" stroke-width="1.15"/></g><circle cx="876.5" cy="111.5" r="1.7" fill="#c0c0c0"/>
<g transform="translate(902.5,111.5) rotate(0)"><path d="M11.4,-7.5L11.4,7.5C11.4,9.3 10.6,9.8 8.8,9.2C4.3,8.4 1.2,4.9 1.2,0C1.2,-4.9 4.3,-8.4 8.8,-9.2C10.6,-9.8 11.4,-9.3 11.4,-7.5Z" fill="#2f2f2f" stroke="#848484" stroke-width="1.15"/></g><circle cx="902.5" cy="111.5" r="1.7" fill="#c0c0c0"/>
<g transform="translate(928.6,111.5) rotate(0)"><path d="M11.4,-7.5L11.4,7.5C11.4,9.3 10.6,9.8 8.8,9.2C4.3,8.4 1.2,4.9 1.2,0C1.2,-4.9 4.3,-8.4 8.8,-9.2C10.6,-9.8 11.4,-9.3 11.4,-7.5Z" fill="#2f2f2f" stroke="#848484" stroke-width="1.15"/></g><circle cx="928.6" cy="111.5" r="1.7" fill="#c0c0c0"/>
<g transform="translate(954.6,111.5) rotate(0)"><path d="M11.4,-7.5L11.4,7.5C11.4,9.3 10.6,9.8 8.8,9.2C4.3,8.4 1.2,4.9 1.2,0C1.2,-4.9 4.3,-8.4 8.8,-9.2C10.6,-9.8 11.4,-9.3 11.4,-7.5Z" fill="#2f2f2f" stroke="#848484" stroke-width="1.15"/></g><circle cx="954.6" cy="111.5" r="1.7" fill="#c0c0c0"/>
<g transform="translate(980.7,111.5) rotate(0)"><path d="M11.4,-7.5L11.4,7.5C11.4,9.3 10.6,9.8 8.8,9.2C4.3,8.4 1.2,4.9 1.2,0C1.2,-4.9 4.3,-8.4 8.8,-9.2C10.6,-9.8 11.4,-9.3 11.4,-7.5Z" fill="#2f2f2f" stroke="#848484" stroke-width="1.15"/></g><circle cx="980.7" cy="111.5" r="1.7" fill="#c0c0c0"/>
<g transform="translate(746.2,137.9) rotate(180)"><path d="M11.4,-7.5L11.4,7.5C11.4,9.3 10.6,9.8 8.8,9.2C4.3,8.4 1.2,4.9 1.2,0C1.2,-4.9 4.3,-8.4 8.8,-9.2C10.6,-9.8 11.4,-9.3 11.4,-7.5Z" fill="#2f2f2f" stroke="#848484" stroke-width="1.15"/></g><circle cx="746.2" cy="137.9" r="1.7" fill="#c0c0c0"/>
<g transform="translate(772.2,137.9) rotate(180)"><path d="M11.4,-7.5L11.4,7.5C11.4,9.3 10.6,9.8 8.8,9.2C4.3,8.4 1.2,4.9 1.2,0C1.2,-4.9 4.3,-8.4 8.8,-9.2C10.6,-9.8 11.4,-9.3 11.4,-7.5Z" fill="#2f2f2f" stroke="#848484" stroke-width="1.15"/></g><circle cx="772.2" cy="137.9" r="1.7" fill="#c0c0c0"/>
<g transform="translate(798.3,137.9) rotate(180)"><path d="M11.4,-7.5L11.4,7.5C11.4,9.3 10.6,9.8 8.8,9.2C4.3,8.4 1.2,4.9 1.2,0C1.2,-4.9 4.3,-8.4 8.8,-9.2C10.6,-9.8 11.4,-9.3 11.4,-7.5Z" fill="#2f2f2f" stroke="#848484" stroke-width="1.15"/></g><circle cx="798.3" cy="137.9" r="1.7" fill="#c0c0c0"/>
<g transform="translate(824.4,137.9) rotate(180)"><path d="M11.4,-7.5L11.4,7.5C11.4,9.3 10.6,9.8 8.8,9.2C4.3,8.4 1.2,4.9 1.2,0C1.2,-4.9 4.3,-8.4 8.8,-9.2C10.6,-9.8 11.4,-9.3 11.4,-7.5Z" fill="#2f2f2f" stroke="#848484" stroke-width="1.15"/></g><circle cx="824.4" cy="137.9" r="1.7" fill="#c0c0c0"/>
<g transform="translate(850.4,137.9) rotate(180)"><path d="M11.4,-7.5L11.4,7.5C11.4,9.3 10.6,9.8 8.8,9.2C4.3,8.4 1.2,4.9 1.2,0C1.2,-4.9 4.3,-8.4 8.8,-9.2C10.6,-9.8 11.4,-9.3 11.4,-7.5Z" fill="#2f2f2f" stroke="#848484" stroke-width="1.15"/></g><circle cx="850.4" cy="137.9" r="1.7" fill="#c0c0c0"/>
<g transform="translate(876.5,137.9) rotate(0)"><path d="M11.4,-7.5L11.4,7.5C11.4,9.3 10.6,9.8 8.8,9.2C4.3,8.4 1.2,4.9 1.2,0C1.2,-4.9 4.3,-8.4 8.8,-9.2C10.6,-9.8 11.4,-9.3 11.4,-7.5Z" fill="#2f2f2f" stroke="#848484" stroke-width="1.15"/></g><circle cx="876.5" cy="137.9" r="1.7" fill="#c0c0c0"/>
<g transform="translate(902.5,137.9) rotate(0)"><path d="M11.4,-7.5L11.4,7.5C11.4,9.3 10.6,9.8 8.8,9.2C4.3,8.4 1.2,4.9 1.2,0C1.2,-4.9 4.3,-8.4 8.8,-9.2C10.6,-9.8 11.4,-9.3 11.4,-7.5Z" fill="#2f2f2f" stroke="#848484" stroke-width="1.15"/></g><circle cx="902.5" cy="137.9" r="1.7" fill="#c0c0c0"/>
<g transform="translate(928.6,137.9) rotate(0)"><path d="M11.4,-7.5L11.4,7.5C11.4,9.3 10.6,9.8 8.8,9.2C4.3,8.4 1.2,4.9 1.2,0C1.2,-4.9 4.3,-8.4 8.8,-9.2C10.6,-9.8 11.4,-9.3 11.4,-7.5Z" fill="#2f2f2f" stroke="#848484" stroke-width="1.15"/></g><circle cx="928.6" cy="137.9" r="1.7" fill="#c0c0c0"/>
<g transform="translate(954.6,137.9) rotate(0)"><path d="M11.4,-7.5L11.4,7.5C11.4,9.3 10.6,9.8 8.8,9.2C4.3,8.4 1.2,4.9 1.2,0C1.2,-4.9 4.3,-8.4 8.8,-9.2C10.6,-9.8 11.4,-9.3 11.4,-7.5Z" fill="#2f2f2f" stroke="#848484" stroke-width="1.15"/></g><circle cx="954.6" cy="137.9" r="1.7" fill="#c0c0c0"/>
<g transform="translate(980.7,137.9) rotate(0)"><path d="M11.4,-7.5L11.4,7.5C11.4,9.3 10.6,9.8 8.8,9.2C4.3,8.4 1.2,4.9 1.2,0C1.2,-4.9 4.3,-8.4 8.8,-9.2C10.6,-9.8 11.4,-9.3 11.4,-7.5Z" fill="#2f2f2f" stroke="#848484" stroke-width="1.15"/></g><circle cx="980.7" cy="137.9" r="1.7" fill="#c0c0c0"/>
<g transform="translate(746.2,164.3) rotate(180)"><path d="M11.4,-7.5L11.4,7.5C11.4,9.3 10.6,9.8 8.8,9.2C4.3,8.4 1.2,4.9 1.2,0C1.2,-4.9 4.3,-8.4 8.8,-9.2C10.6,-9.8 11.4,-9.3 11.4,-7.5Z" fill="#2f2f2f" stroke="#848484" stroke-width="1.15"/></g><circle cx="746.2" cy="164.3" r="1.7" fill="#c0c0c0"/>
<g transform="translate(772.2,164.3) rotate(180)"><path d="M11.4,-7.5L11.4,7.5C11.4,9.3 10.6,9.8 8.8,9.2C4.3,8.4 1.2,4.9 1.2,0C1.2,-4.9 4.3,-8.4 8.8,-9.2C10.6,-9.8 11.4,-9.3 11.4,-7.5Z" fill="#2f2f2f" stroke="#848484" stroke-width="1.15"/></g><circle cx="772.2" cy="164.3" r="1.7" fill="#c0c0c0"/>
<g transform="translate(798.3,164.3) rotate(180)"><path d="M11.4,-7.5L11.4,7.5C11.4,9.3 10.6,9.8 8.8,9.2C4.3,8.4 1.2,4.9 1.2,0C1.2,-4.9 4.3,-8.4 8.8,-9.2C10.6,-9.8 11.4,-9.3 11.4,-7.5Z" fill="#2f2f2f" stroke="#848484" stroke-width="1.15"/></g><circle cx="798.3" cy="164.3" r="1.7" fill="#c0c0c0"/>
<g transform="translate(824.4,164.3) rotate(180)"><path d="M11.4,-7.5L11.4,7.5C11.4,9.3 10.6,9.8 8.8,9.2C4.3,8.4 1.2,4.9 1.2,0C1.2,-4.9 4.3,-8.4 8.8,-9.2C10.6,-9.8 11.4,-9.3 11.4,-7.5Z" fill="#2f2f2f" stroke="#848484" stroke-width="1.15"/></g><circle cx="824.4" cy="164.3" r="1.7" fill="#c0c0c0"/>
<g transform="translate(850.4,164.3) rotate(180)"><path d="M11.4,-7.5L11.4,7.5C11.4,9.3 10.6,9.8 8.8,9.2C4.3,8.4 1.2,4.9 1.2,0C1.2,-4.9 4.3,-8.4 8.8,-9.2C10.6,-9.8 11.4,-9.3 11.4,-7.5Z" fill="#2f2f2f" stroke="#848484" stroke-width="1.15"/></g><circle cx="850.4" cy="164.3" r="1.7" fill="#c0c0c0"/>
<g transform="translate(876.5,164.3) rotate(0)"><path d="M11.4,-7.5L11.4,7.5C11.4,9.3 10.6,9.8 8.8,9.2C4.3,8.4 1.2,4.9 1.2,0C1.2,-4.9 4.3,-8.4 8.8,-9.2C10.6,-9.8 11.4,-9.3 11.4,-7.5Z" fill="#2f2f2f" stroke="#848484" stroke-width="1.15"/></g><circle cx="876.5" cy="164.3" r="1.7" fill="#c0c0c0"/>
<g transform="translate(902.5,164.3) rotate(0)"><path d="M11.4,-7.5L11.4,7.5C11.4,9.3 10.6,9.8 8.8,9.2C4.3,8.4 1.2,4.9 1.2,0C1.2,-4.9 4.3,-8.4 8.8,-9.2C10.6,-9.8 11.4,-9.3 11.4,-7.5Z" fill="#2f2f2f" stroke="#848484" stroke-width="1.15"/></g><circle cx="902.5" cy="164.3" r="1.7" fill="#c0c0c0"/>
<g transform="translate(928.6,164.3) rotate(0)"><path d="M11.4,-7.5L11.4,7.5C11.4,9.3 10.6,9.8 8.8,9.2C4.3,8.4 1.2,4.9 1.2,0C1.2,-4.9 4.3,-8.4 8.8,-9.2C10.6,-9.8 11.4,-9.3 11.4,-7.5Z" fill="#2f2f2f" stroke="#848484" stroke-width="1.15"/></g><circle cx="928.6" cy="164.3" r="1.7" fill="#c0c0c0"/>
<g transform="translate(954.6,164.3) rotate(0)"><path d="M11.4,-7.5L11.4,7.5C11.4,9.3 10.6,9.8 8.8,9.2C4.3,8.4 1.2,4.9 1.2,0C1.2,-4.9 4.3,-8.4 8.8,-9.2C10.6,-9.8 11.4,-9.3 11.4,-7.5Z" fill="#2f2f2f" stroke="#848484" stroke-width="1.15"/></g><circle cx="954.6" cy="164.3" r="1.7" fill="#c0c0c0"/>
<g transform="translate(980.7,164.3) rotate(0)"><path d="M11.4,-7.5L11.4,7.5C11.4,9.3 10.6,9.8 8.8,9.2C4.3,8.4 1.2,4.9 1.2,0C1.2,-4.9 4.3,-8.4 8.8,-9.2C10.6,-9.8 11.4,-9.3 11.4,-7.5Z" fill="#2f2f2f" stroke="#848484" stroke-width="1.15"/></g><circle cx="980.7" cy="164.3" r="1.7" fill="#c0c0c0"/>
<g transform="translate(746.2,190.7) rotate(180)"><path d="M11.4,-7.5L11.4,7.5C11.4,9.3 10.6,9.8 8.8,9.2C4.3,8.4 1.2,4.9 1.2,0C1.2,-4.9 4.3,-8.4 8.8,-9.2C10.6,-9.8 11.4,-9.3 11.4,-7.5Z" fill="#2f2f2f" stroke="#848484" stroke-width="1.15"/></g><circle cx="746.2" cy="190.7" r="1.7" fill="#c0c0c0"/>
<g transform="translate(772.2,190.7) rotate(180)"><path d="M11.4,-7.5L11.4,7.5C11.4,9.3 10.6,9.8 8.8,9.2C4.3,8.4 1.2,4.9 1.2,0C1.2,-4.9 4.3,-8.4 8.8,-9.2C10.6,-9.8 11.4,-9.3 11.4,-7.5Z" fill="#2f2f2f" stroke="#848484" stroke-width="1.15"/></g><circle cx="772.2" cy="190.7" r="1.7" fill="#c0c0c0"/>
<g transform="translate(798.3,190.7) rotate(180)"><path d="M11.4,-7.5L11.4,7.5C11.4,9.3 10.6,9.8 8.8,9.2C4.3,8.4 1.2,4.9 1.2,0C1.2,-4.9 4.3,-8.4 8.8,-9.2C10.6,-9.8 11.4,-9.3 11.4,-7.5Z" fill="#2f2f2f" stroke="#848484" stroke-width="1.15"/></g><circle cx="798.3" cy="190.7" r="1.7" fill="#c0c0c0"/>
<g transform="translate(824.4,190.7) rotate(180)"><path d="M11.4,-7.5L11.4,7.5C11.4,9.3 10.6,9.8 8.8,9.2C4.3,8.4 1.2,4.9 1.2,0C1.2,-4.9 4.3,-8.4 8.8,-9.2C10.6,-9.8 11.4,-9.3 11.4,-7.5Z" fill="#2f2f2f" stroke="#848484" stroke-width="1.15"/></g><circle cx="824.4" cy="190.7" r="1.7" fill="#c0c0c0"/>
<g transform="translate(850.4,190.7) rotate(90)"><path d="M11.4,-7.5L11.4,7.5C11.4,9.3 10.6,9.8 8.8,9.2C4.3,8.4 1.2,4.9 1.2,0C1.2,-4.9 4.3,-8.4 8.8,-9.2C10.6,-9.8 11.4,-9.3 11.4,-7.5Z" fill="#2f2f2f" stroke="#848484" stroke-width="1.15"/></g><circle cx="850.4" cy="190.7" r="1.7" fill="#c0c0c0"/>
<g transform="translate(876.5,190.7) rotate(90)"><path d="M11.4,-7.5L11.4,7.5C11.4,9.3 10.6,9.8 8.8,9.2C4.3,8.4 1.2,4.9 1.2,0C1.2,-4.9 4.3,-8.4 8.8,-9.2C10.6,-9.8 11.4,-9.3 11.4,-7.5Z" fill="#2f2f2f" stroke="#848484" stroke-width="1.15"/></g><circle cx="876.5" cy="190.7" r="1.7" fill="#c0c0c0"/>
<g transform="translate(902.5,190.7) rotate(90)"><path d="M11.4,-7.5L11.4,7.5C11.4,9.3 10.6,9.8 8.8,9.2C4.3,8.4 1.2,4.9 1.2,0C1.2,-4.9 4.3,-8.4 8.8,-9.2C10.6,-9.8 11.4,-9.3 11.4,-7.5Z" fill="#2f2f2f" stroke="#848484" stroke-width="1.15"/></g><circle cx="902.5" cy="190.7" r="1.7" fill="#c0c0c0"/>
<g transform="translate(928.6,190.7) rotate(0)"><path d="M11.4,-7.5L11.4,7.5C11.4,9.3 10.6,9.8 8.8,9.2C4.3,8.4 1.2,4.9 1.2,0C1.2,-4.9 4.3,-8.4 8.8,-9.2C10.6,-9.8 11.4,-9.3 11.4,-7.5Z" fill="#2f2f2f" stroke="#848484" stroke-width="1.15"/></g><circle cx="928.6" cy="190.7" r="1.7" fill="#c0c0c0"/>
<g transform="translate(954.6,190.7) rotate(0)"><path d="M11.4,-7.5L11.4,7.5C11.4,9.3 10.6,9.8 8.8,9.2C4.3,8.4 1.2,4.9 1.2,0C1.2,-4.9 4.3,-8.4 8.8,-9.2C10.6,-9.8 11.4,-9.3 11.4,-7.5Z" fill="#2f2f2f" stroke="#848484" stroke-width="1.15"/></g><circle cx="954.6" cy="190.7" r="1.7" fill="#c0c0c0"/>
<g transform="translate(980.7,190.7) rotate(0)"><path d="M11.4,-7.5L11.4,7.5C11.4,9.3 10.6,9.8 8.8,9.2C4.3,8.4 1.2,4.9 1.2,0C1.2,-4.9 4.3,-8.4 8.8,-9.2C10.6,-9.8 11.4,-9.3 11.4,-7.5Z" fill="#2f2f2f" stroke="#848484" stroke-width="1.15"/></g><circle cx="980.7" cy="190.7" r="1.7" fill="#c0c0c0"/>
<g transform="translate(746.2,217.1) rotate(180)"><path d="M11.4,-7.5L11.4,7.5C11.4,9.3 10.6,9.8 8.8,9.2C4.3,8.4 1.2,4.9 1.2,0C1.2,-4.9 4.3,-8.4 8.8,-9.2C10.6,-9.8 11.4,-9.3 11.4,-7.5Z" fill="#2f2f2f" stroke="#848484" stroke-width="1.15"/></g><circle cx="746.2" cy="217.1" r="1.7" fill="#c0c0c0"/>
<g transform="translate(772.2,217.1) rotate(180)"><path d="M11.4,-7.5L11.4,7.5C11.4,9.3 10.6,9.8 8.8,9.2C4.3,8.4 1.2,4.9 1.2,0C1.2,-4.9 4.3,-8.4 8.8,-9.2C10.6,-9.8 11.4,-9.3 11.4,-7.5Z" fill="#2f2f2f" stroke="#848484" stroke-width="1.15"/></g><circle cx="772.2" cy="217.1" r="1.7" fill="#c0c0c0"/>
<g transform="translate(798.3,217.1) rotate(180)"><path d="M11.4,-7.5L11.4,7.5C11.4,9.3 10.6,9.8 8.8,9.2C4.3,8.4 1.2,4.9 1.2,0C1.2,-4.9 4.3,-8.4 8.8,-9.2C10.6,-9.8 11.4,-9.3 11.4,-7.5Z" fill="#2f2f2f" stroke="#848484" stroke-width="1.15"/></g><circle cx="798.3" cy="217.1" r="1.7" fill="#c0c0c0"/>
<g transform="translate(824.4,217.1) rotate(90)"><path d="M11.4,-7.5L11.4,7.5C11.4,9.3 10.6,9.8 8.8,9.2C4.3,8.4 1.2,4.9 1.2,0C1.2,-4.9 4.3,-8.4 8.8,-9.2C10.6,-9.8 11.4,-9.3 11.4,-7.5Z" fill="#2f2f2f" stroke="#848484" stroke-width="1.15"/></g><circle cx="824.4" cy="217.1" r="1.7" fill="#c0c0c0"/>
<g transform="translate(850.4,217.1) rotate(90)"><path d="M11.4,-7.5L11.4,7.5C11.4,9.3 10.6,9.8 8.8,9.2C4.3,8.4 1.2,4.9 1.2,0C1.2,-4.9 4.3,-8.4 8.8,-9.2C10.6,-9.8 11.4,-9.3 11.4,-7.5Z" fill="#2f2f2f" stroke="#848484" stroke-width="1.15"/></g><circle cx="850.4" cy="217.1" r="1.7" fill="#c0c0c0"/>
<g transform="translate(876.5,217.1) rotate(90)"><path d="M11.4,-7.5L11.4,7.5C11.4,9.3 10.6,9.8 8.8,9.2C4.3,8.4 1.2,4.9 1.2,0C1.2,-4.9 4.3,-8.4 8.8,-9.2C10.6,-9.8 11.4,-9.3 11.4,-7.5Z" fill="#2f2f2f" stroke="#848484" stroke-width="1.15"/></g><circle cx="876.5" cy="217.1" r="1.7" fill="#c0c0c0"/>
<g transform="translate(902.5,217.1) rotate(90)"><path d="M11.4,-7.5L11.4,7.5C11.4,9.3 10.6,9.8 8.8,9.2C4.3,8.4 1.2,4.9 1.2,0C1.2,-4.9 4.3,-8.4 8.8,-9.2C10.6,-9.8 11.4,-9.3 11.4,-7.5Z" fill="#2f2f2f" stroke="#848484" stroke-width="1.15"/></g><circle cx="902.5" cy="217.1" r="1.7" fill="#c0c0c0"/>
<g transform="translate(928.6,217.1) rotate(90)"><path d="M11.4,-7.5L11.4,7.5C11.4,9.3 10.6,9.8 8.8,9.2C4.3,8.4 1.2,4.9 1.2,0C1.2,-4.9 4.3,-8.4 8.8,-9.2C10.6,-9.8 11.4,-9.3 11.4,-7.5Z" fill="#2f2f2f" stroke="#848484" stroke-width="1.15"/></g><circle cx="928.6" cy="217.1" r="1.7" fill="#c0c0c0"/>
<g transform="translate(954.6,217.1) rotate(0)"><path d="M11.4,-7.5L11.4,7.5C11.4,9.3 10.6,9.8 8.8,9.2C4.3,8.4 1.2,4.9 1.2,0C1.2,-4.9 4.3,-8.4 8.8,-9.2C10.6,-9.8 11.4,-9.3 11.4,-7.5Z" fill="#2f2f2f" stroke="#848484" stroke-width="1.15"/></g><circle cx="954.6" cy="217.1" r="1.7" fill="#c0c0c0"/>
<g transform="translate(980.7,217.1) rotate(0)"><path d="M11.4,-7.5L11.4,7.5C11.4,9.3 10.6,9.8 8.8,9.2C4.3,8.4 1.2,4.9 1.2,0C1.2,-4.9 4.3,-8.4 8.8,-9.2C10.6,-9.8 11.4,-9.3 11.4,-7.5Z" fill="#2f2f2f" stroke="#848484" stroke-width="1.15"/></g><circle cx="980.7" cy="217.1" r="1.7" fill="#c0c0c0"/>
<g transform="translate(746.2,243.5) rotate(180)"><path d="M11.4,-7.5L11.4,7.5C11.4,9.3 10.6,9.8 8.8,9.2C4.3,8.4 1.2,4.9 1.2,0C1.2,-4.9 4.3,-8.4 8.8,-9.2C10.6,-9.8 11.4,-9.3 11.4,-7.5Z" fill="#2f2f2f" stroke="#848484" stroke-width="1.15"/></g><circle cx="746.2" cy="243.5" r="1.7" fill="#c0c0c0"/>
<g transform="translate(772.2,243.5) rotate(180)"><path d="M11.4,-7.5L11.4,7.5C11.4,9.3 10.6,9.8 8.8,9.2C4.3,8.4 1.2,4.9 1.2,0C1.2,-4.9 4.3,-8.4 8.8,-9.2C10.6,-9.8 11.4,-9.3 11.4,-7.5Z" fill="#2f2f2f" stroke="#848484" stroke-width="1.15"/></g><circle cx="772.2" cy="243.5" r="1.7" fill="#c0c0c0"/>
<g transform="translate(798.3,243.5) rotate(90)"><path d="M11.4,-7.5L11.4,7.5C11.4,9.3 10.6,9.8 8.8,9.2C4.3,8.4 1.2,4.9 1.2,0C1.2,-4.9 4.3,-8.4 8.8,-9.2C10.6,-9.8 11.4,-9.3 11.4,-7.5Z" fill="#2f2f2f" stroke="#848484" stroke-width="1.15"/></g><circle cx="798.3" cy="243.5" r="1.7" fill="#c0c0c0"/>
<g transform="translate(824.4,243.5) rotate(90)"><path d="M11.4,-7.5L11.4,7.5C11.4,9.3 10.6,9.8 8.8,9.2C4.3,8.4 1.2,4.9 1.2,0C1.2,-4.9 4.3,-8.4 8.8,-9.2C10.6,-9.8 11.4,-9.3 11.4,-7.5Z" fill="#2f2f2f" stroke="#848484" stroke-width="1.15"/></g><circle cx="824.4" cy="243.5" r="1.7" fill="#c0c0c0"/>
<g transform="translate(850.4,243.5) rotate(90)"><path d="M11.4,-7.5L11.4,7.5C11.4,9.3 10.6,9.8 8.8,9.2C4.3,8.4 1.2,4.9 1.2,0C1.2,-4.9 4.3,-8.4 8.8,-9.2C10.6,-9.8 11.4,-9.3 11.4,-7.5Z" fill="#2f2f2f" stroke="#848484" stroke-width="1.15"/></g><circle cx="850.4" cy="243.5" r="1.7" fill="#c0c0c0"/>
<g transform="translate(876.5,243.5) rotate(90)"><path d="M11.4,-7.5L11.4,7.5C11.4,9.3 10.6,9.8 8.8,9.2C4.3,8.4 1.2,4.9 1.2,0C1.2,-4.9 4.3,-8.4 8.8,-9.2C10.6,-9.8 11.4,-9.3 11.4,-7.5Z" fill="#2f2f2f" stroke="#848484" stroke-width="1.15"/></g><circle cx="876.5" cy="243.5" r="1.7" fill="#c0c0c0"/>
<g transform="translate(902.5,243.5) rotate(90)"><path d="M11.4,-7.5L11.4,7.5C11.4,9.3 10.6,9.8 8.8,9.2C4.3,8.4 1.2,4.9 1.2,0C1.2,-4.9 4.3,-8.4 8.8,-9.2C10.6,-9.8 11.4,-9.3 11.4,-7.5Z" fill="#2f2f2f" stroke="#848484" stroke-width="1.15"/></g><circle cx="902.5" cy="243.5" r="1.7" fill="#c0c0c0"/>
<g transform="translate(928.6,243.5) rotate(90)"><path d="M11.4,-7.5L11.4,7.5C11.4,9.3 10.6,9.8 8.8,9.2C4.3,8.4 1.2,4.9 1.2,0C1.2,-4.9 4.3,-8.4 8.8,-9.2C10.6,-9.8 11.4,-9.3 11.4,-7.5Z" fill="#2f2f2f" stroke="#848484" stroke-width="1.15"/></g><circle cx="928.6" cy="243.5" r="1.7" fill="#c0c0c0"/>
<g transform="translate(954.6,243.5) rotate(90)"><path d="M11.4,-7.5L11.4,7.5C11.4,9.3 10.6,9.8 8.8,9.2C4.3,8.4 1.2,4.9 1.2,0C1.2,-4.9 4.3,-8.4 8.8,-9.2C10.6,-9.8 11.4,-9.3 11.4,-7.5Z" fill="#2f2f2f" stroke="#848484" stroke-width="1.15"/></g><circle cx="954.6" cy="243.5" r="1.7" fill="#c0c0c0"/>
<g transform="translate(980.7,243.5) rotate(0)"><path d="M11.4,-7.5L11.4,7.5C11.4,9.3 10.6,9.8 8.8,9.2C4.3,8.4 1.2,4.9 1.2,0C1.2,-4.9 4.3,-8.4 8.8,-9.2C10.6,-9.8 11.4,-9.3 11.4,-7.5Z" fill="#2f2f2f" stroke="#848484" stroke-width="1.15"/></g><circle cx="980.7" cy="243.5" r="1.7" fill="#c0c0c0"/>
<g transform="translate(746.2,269.9) rotate(180)"><path d="M11.4,-7.5L11.4,7.5C11.4,9.3 10.6,9.8 8.8,9.2C4.3,8.4 1.2,4.9 1.2,0C1.2,-4.9 4.3,-8.4 8.8,-9.2C10.6,-9.8 11.4,-9.3 11.4,-7.5Z" fill="#2f2f2f" stroke="#848484" stroke-width="1.15"/></g><circle cx="746.2" cy="269.9" r="1.7" fill="#c0c0c0"/>
<g transform="translate(772.2,269.9) rotate(90)"><path d="M11.4,-7.5L11.4,7.5C11.4,9.3 10.6,9.8 8.8,9.2C4.3,8.4 1.2,4.9 1.2,0C1.2,-4.9 4.3,-8.4 8.8,-9.2C10.6,-9.8 11.4,-9.3 11.4,-7.5Z" fill="#2f2f2f" stroke="#848484" stroke-width="1.15"/></g><circle cx="772.2" cy="269.9" r="1.7" fill="#c0c0c0"/>
<g transform="translate(798.3,269.9) rotate(90)"><path d="M11.4,-7.5L11.4,7.5C11.4,9.3 10.6,9.8 8.8,9.2C4.3,8.4 1.2,4.9 1.2,0C1.2,-4.9 4.3,-8.4 8.8,-9.2C10.6,-9.8 11.4,-9.3 11.4,-7.5Z" fill="#2f2f2f" stroke="#848484" stroke-width="1.15"/></g><circle cx="798.3" cy="269.9" r="1.7" fill="#c0c0c0"/>
<g transform="translate(824.4,269.9) rotate(90)"><path d="M11.4,-7.5L11.4,7.5C11.4,9.3 10.6,9.8 8.8,9.2C4.3,8.4 1.2,4.9 1.2,0C1.2,-4.9 4.3,-8.4 8.8,-9.2C10.6,-9.8 11.4,-9.3 11.4,-7.5Z" fill="#2f2f2f" stroke="#848484" stroke-width="1.15"/></g><circle cx="824.4" cy="269.9" r="1.7" fill="#c0c0c0"/>
<g transform="translate(850.4,269.9) rotate(90)"><path d="M11.4,-7.5L11.4,7.5C11.4,9.3 10.6,9.8 8.8,9.2C4.3,8.4 1.2,4.9 1.2,0C1.2,-4.9 4.3,-8.4 8.8,-9.2C10.6,-9.8 11.4,-9.3 11.4,-7.5Z" fill="#2f2f2f" stroke="#848484" stroke-width="1.15"/></g><circle cx="850.4" cy="269.9" r="1.7" fill="#c0c0c0"/>
<g transform="translate(876.5,269.9) rotate(90)"><path d="M11.4,-7.5L11.4,7.5C11.4,9.3 10.6,9.8 8.8,9.2C4.3,8.4 1.2,4.9 1.2,0C1.2,-4.9 4.3,-8.4 8.8,-9.2C10.6,-9.8 11.4,-9.3 11.4,-7.5Z" fill="#2f2f2f" stroke="#848484" stroke-width="1.15"/></g><circle cx="876.5" cy="269.9" r="1.7" fill="#c0c0c0"/>
<g transform="translate(902.5,269.9) rotate(90)"><path d="M11.4,-7.5L11.4,7.5C11.4,9.3 10.6,9.8 8.8,9.2C4.3,8.4 1.2,4.9 1.2,0C1.2,-4.9 4.3,-8.4 8.8,-9.2C10.6,-9.8 11.4,-9.3 11.4,-7.5Z" fill="#2f2f2f" stroke="#848484" stroke-width="1.15"/></g><circle cx="902.5" cy="269.9" r="1.7" fill="#c0c0c0"/>
<g transform="translate(928.6,269.9) rotate(90)"><path d="M11.4,-7.5L11.4,7.5C11.4,9.3 10.6,9.8 8.8,9.2C4.3,8.4 1.2,4.9 1.2,0C1.2,-4.9 4.3,-8.4 8.8,-9.2C10.6,-9.8 11.4,-9.3 11.4,-7.5Z" fill="#2f2f2f" stroke="#848484" stroke-width="1.15"/></g><circle cx="928.6" cy="269.9" r="1.7" fill="#c0c0c0"/>
<g transform="translate(954.6,269.9) rotate(90)"><path d="M11.4,-7.5L11.4,7.5C11.4,9.3 10.6,9.8 8.8,9.2C4.3,8.4 1.2,4.9 1.2,0C1.2,-4.9 4.3,-8.4 8.8,-9.2C10.6,-9.8 11.4,-9.3 11.4,-7.5Z" fill="#2f2f2f" stroke="#848484" stroke-width="1.15"/></g><circle cx="954.6" cy="269.9" r="1.7" fill="#c0c0c0"/>
<g transform="translate(980.7,269.9) rotate(90)"><path d="M11.4,-7.5L11.4,7.5C11.4,9.3 10.6,9.8 8.8,9.2C4.3,8.4 1.2,4.9 1.2,0C1.2,-4.9 4.3,-8.4 8.8,-9.2C10.6,-9.8 11.4,-9.3 11.4,-7.5Z" fill="#2f2f2f" stroke="#848484" stroke-width="1.15"/></g><circle cx="980.7" cy="269.9" r="1.7" fill="#c0c0c0"/>
</g>
</g></g>
<rect x="717" y="8" width="56" height="60.5" fill="#fff"/>
<rect x="942" y="272.7" width="72" height="5.3" fill="#fff"/>
<text x="716.7" y="97.8" font-family='"Liberation Sans", Arial, sans-serif' font-weight="700" font-size="24" fill="#ffc000">TYPE-C</text>
</g>
<g id="panel-D">
<clipPath id="clipD"><rect x="14.3" y="302.6" width="301.5" height="278.6"/></clipPath>
<g clip-path="url(#clipD)"><g filter="url(#grainD)">
<rect x="12.3" y="300.6" width="305.5" height="282.6" fill="#444444"/>
<g filter="url(#glow)" opacity="0.5" fill="#626262">
<circle cx="35.2" cy="312.4" r="9"/>
<circle cx="61.5" cy="312.4" r="9"/>
<circle cx="87.7" cy="312.4" r="9"/>
<circle cx="114.0" cy="312.4" r="9"/>
<circle cx="140.2" cy="312.4" r="9"/>
<circle cx="176.4" cy="312.4" r="9"/>
<circle cx="203.2" cy="312.4" r="9"/>
<circle cx="230.0" cy="312.4" r="9"/>
<circle cx="256.8" cy="312.4" r="9"/>
<circle cx="283.6" cy="312.4" r="9"/>
<circle cx="35.2" cy="340.3" r="9"/>
<circle cx="61.5" cy="340.3" r="9"/>
<circle cx="87.7" cy="340.3" r="9"/>
<circle cx="114.0" cy="340.3" r="9"/>
<circle cx="140.2" cy="340.3" r="9"/>
<circle cx="176.4" cy="340.3" r="9"/>
<circle cx="203.2" cy="340.3" r="9"/>
<circle cx="230.0" cy="340.3" r="9"/>
<circle cx="256.8" cy="340.3" r="9"/>
<circle cx="283.6" cy="340.3" r="9"/>
<circle cx="35.2" cy="368.2" r="9"/>
<circle cx="61.5" cy="368.2" r="9"/>
<circle cx="87.7" cy="368.2" r="9"/>
<circle cx="114.0" cy="368.2" r="9"/>
<circle cx="140.2" cy="368.2" r="9"/>
<circle cx="176.4" cy="368.2" r="9"/>
<circle cx="203.2" cy="368.2" r="9"/>
<circle cx="230.0" cy="368.2" r="9"/>
<circle cx="256.8" cy="368.2" r="9"/>
<circle cx="283.6" cy="368.2" r="9"/>
<circle cx="35.2" cy="396.1" r="9"/>
<circle cx="61.5" cy="396.1" r="9"/>
<circle cx="87.7" cy="396.1" r="9"/>
<circle cx="114.0" cy="396.1" r="9"/>
<circle cx="140.2" cy="396.1" r="9"/>
<circle cx="176.4" cy="396.1" r="9"/>
<circle cx="203.2" cy="396.1" r="9"/>
<circle cx="230.0" cy="396.1" r="9"/>
<circle cx="256.8" cy="396.1" r="9"/>
<circle cx="283.6" cy="396.1" r="9"/>
<circle cx="35.2" cy="424.0" r="9"/>
<circle cx="61.5" cy="424.0" r="9"/>
<circle cx="87.7" cy="424.0" r="9"/>
<circle cx="114.0" cy="424.0" r="9"/>
<circle cx="140.2" cy="424.0" r="9"/>
<circle cx="176.4" cy="424.0" r="9"/>
<circle cx="203.2" cy="424.0" r="9"/>
<circle cx="230.0" cy="424.0" r="9"/>
<circle cx="256.8" cy="424.0" r="9"/>
<circle cx="283.6" cy="424.0" r="9"/>
<circle cx="35.2" cy="451.9" r="9"/>
<circle cx="61.5" cy="451.9" r="9"/>
<circle cx="87.7" cy="451.9" r="9"/>
<circle cx="114.0" cy="451.9" r="9"/>
<circle cx="147.7" cy="460.6" r="9"/>
<circle cx="174.8" cy="460.6" r="9"/>
<circle cx="203.2" cy="451.9" r="9"/>
<circle cx="230.0" cy="451.9" r="9"/>
<circle cx="256.8" cy="451.9" r="9"/>
<circle cx="283.6" cy="451.9" r="9"/>
<circle cx="35.2" cy="479.8" r="9"/>
<circle cx="61.5" cy="479.8" r="9"/>
<circle cx="87.7" cy="479.8" r="9"/>
<circle cx="120.6" cy="488.5" r="9"/>
<circle cx="147.7" cy="488.5" r="9"/>
<circle cx="174.8" cy="488.5" r="9"/>
<circle cx="201.9" cy="488.5" r="9"/>
<circle cx="230.0" cy="479.8" r="9"/>
<circle cx="256.8" cy="479.8" r="9"/>
<circle cx="283.6" cy="479.8" r="9"/>
<circle cx="35.2" cy="507.7" r="9"/>
<circle cx="61.5" cy="507.7" r="9"/>
<circle cx="93.5" cy="516.4" r="9"/>
<circle cx="120.6" cy="516.4" r="9"/>
<circle cx="147.7" cy="516.4" r="9"/>
<circle cx="174.8" cy="516.4" r="9"/>
<circle cx="201.9" cy="516.4" r="9"/>
<circle cx="229.0" cy="516.4" r="9"/>
<circle cx="256.8" cy="507.7" r="9"/>
<circle cx="283.6" cy="507.7" r="9"/>
<circle cx="35.2" cy="535.6" r="9"/>
<circle cx="66.4" cy="544.3" r="9"/>
<circle cx="93.5" cy="544.3" r="9"/>
<circle cx="120.6" cy="544.3" r="9"/>
<circle cx="147.7" cy="544.3" r="9"/>
<circle cx="174.8" cy="544.3" r="9"/>
<circle cx="201.9" cy="544.3" r="9"/>
<circle cx="229.0" cy="544.3" r="9"/>
<circle cx="256.1" cy="544.3" r="9"/>
<circle cx="283.6" cy="535.6" r="9"/>
<circle cx="39.3" cy="572.2" r="9"/>
<circle cx="66.4" cy="572.2" r="9"/>
<circle cx="93.5" cy="572.2" r="9"/>
<circle cx="120.6" cy="572.2" r="9"/>
<circle cx="147.7" cy="572.2" r="9"/>
<circle cx="174.8" cy="572.2" r="9"/>
<circle cx="201.9" cy="572.2" r="9"/>
<circle cx="229.0" cy="572.2" r="9"/>
<circle cx="256.1" cy="572.2" r="9"/>
<circle cx="283.2" cy="572.2" r="9"/>
</g>
<g filter="url(#soft)">
<g transform="translate(39.7,316.4) rotate(222)"><path d="M10.5,-7.0L10.5,7.0C10.5,8.8 9.7,9.2 7.9,8.8C3.9,8.0 1.0,4.6 1.0,0C1.0,-4.6 3.9,-8.0 7.9,-8.8C9.7,-9.2 10.5,-8.8 10.5,-7.0Z" fill="#3c3c3c" stroke="#909090" stroke-width="1.0"/></g><circle cx="39.7" cy="316.4" r="2.0" fill="#f0f0f0"/>
<g transform="translate(66.0,316.4) rotate(222)"><path d="M10.5,-7.0L10.5,7.0C10.5,8.8 9.7,9.2 7.9,8.8C3.9,8.0 1.0,4.6 1.0,0C1.0,-4.6 3.9,-8.0 7.9,-8.8C9.7,-9.2 10.5,-8.8 10.5,-7.0Z" fill="#3c3c3c" stroke="#909090" stroke-width="1.0"/></g><circle cx="66.0" cy="316.4" r="2.0" fill="#f0f0f0"/>
<g transform="translate(92.2,316.4) rotate(222)"><path d="M10.5,-7.0L10.5,7.0C10.5,8.8 9.7,9.2 7.9,8.8C3.9,8.0 1.0,4.6 1.0,0C1.0,-4.6 3.9,-8.0 7.9,-8.8C9.7,-9.2 10.5,-8.8 10.5,-7.0Z" fill="#3c3c3c" stroke="#909090" stroke-width="1.0"/></g><circle cx="92.2" cy="316.4" r="2.0" fill="#f0f0f0"/>
<g transform="translate(118.5,316.4) rotate(222)"><path d="M10.5,-7.0L10.5,7.0C10.5,8.8 9.7,9.2 7.9,8.8C3.9,8.0 1.0,4.6 1.0,0C1.0,-4.6 3.9,-8.0 7.9,-8.8C9.7,-9.2 10.5,-8.8 10.5,-7.0Z" fill="#3c3c3c" stroke="#909090" stroke-width="1.0"/></g><circle cx="118.5" cy="316.4" r="2.0" fill="#f0f0f0"/>
<g transform="translate(144.7,316.4) rotate(222)"><path d="M10.5,-7.0L10.5,7.0C10.5,8.8 9.7,9.2 7.9,8.8C3.9,8.0 1.0,4.6 1.0,0C1.0,-4.6 3.9,-8.0 7.9,-8.8C9.7,-9.2 10.5,-8.8 10.5,-7.0Z" fill="#3c3c3c" stroke="#909090" stroke-width="1.0"/></g><circle cx="144.7" cy="316.4" r="2.0" fill="#f0f0f0"/>
<g transform="translate(171.9,316.4) rotate(318)"><path d="M10.5,-7.0L10.5,7.0C10.5,8.8 9.7,9.2 7.9,8.8C3.9,8.0 1.0,4.6 1.0,0C1.0,-4.6 3.9,-8.0 7.9,-8.8C9.7,-9.2 10.5,-8.8 10.5,-7.0Z" fill="#3c3c3c" stroke="#909090" stroke-width="1.0"/></g><circle cx="171.9" cy="316.4" r="2.0" fill="#f0f0f0"/>
<g transform="translate(198.7,316.4) rotate(318)"><path d="M10.5,-7.0L10.5,7.0C10.5,8.8 9.7,9.2 7.9,8.8C3.9,8.0 1.0,4.6 1.0,0C1.0,-4.6 3.9,-8.0 7.9,-8.8C9.7,-9.2 10.5,-8.8 10.5,-7.0Z" fill="#3c3c3c" stroke="#909090" stroke-width="1.0"/></g><circle cx="198.7" cy="316.4" r="2.0" fill="#f0f0f0"/>
<g transform="translate(225.5,316.4) rotate(318)"><path d="M10.5,-7.0L10.5,7.0C10.5,8.8 9.7,9.2 7.9,8.8C3.9,8.0 1.0,4.6 1.0,0C1.0,-4.6 3.9,-8.0 7.9,-8.8C9.7,-9.2 10.5,-8.8 10.5,-7.0Z" fill="#3c3c3c" stroke="#909090" stroke-width="1.0"/></g><circle cx="225.5" cy="316.4" r="2.0" fill="#f0f0f0"/>
<g transform="translate(252.3,316.4) rotate(318)"><path d="M10.5,-7.0L10.5,7.0C10.5,8.8 9.7,9.2 7.9,8.8C3.9,8.0 1.0,4.6 1.0,0C1.0,-4.6 3.9,-8.0 7.9,-8.8C9.7,-9.2 10.5,-8.8 10.5,-7.0Z" fill="#3c3c3c" stroke="#909090" stroke-width="1.0"/></g><circle cx="252.3" cy="316.4" r="2.0" fill="#f0f0f0"/>
<g transform="translate(279.1,316.4) rotate(318)"><path d="M10.5,-7.0L10.5,7.0C10.5,8.8 9.7,9.2 7.9,8.8C3.9,8.0 1.0,4.6 1.0,0C1.0,-4.6 3.9,-8.0 7.9,-8.8C9.7,-9.2 10.5,-8.8 10.5,-7.0Z" fill="#3c3c3c" stroke="#909090" stroke-width="1.0"/></g><circle cx="279.1" cy="316.4" r="2.0" fill="#f0f0f0"/>
<g transform="translate(39.7,344.3) rotate(222)"><path d="M10.5,-7.0L10.5,7.0C10.5,8.8 9.7,9.2 7.9,8.8C3.9,8.0 1.0,4.6 1.0,0C1.0,-4.6 3.9,-8.0 7.9,-8.8C9.7,-9.2 10.5,-8.8 10.5,-7.0Z" fill="#3c3c3c" stroke="#909090" stroke-width="1.0"/></g><circle cx="39.7" cy="344.3" r="2.0" fill="#f0f0f0"/>
<g transform="translate(66.0,344.3) rotate(222)"><path d="M10.5,-7.0L10.5,7.0C10.5,8.8 9.7,9.2 7.9,8.8C3.9,8.0 1.0,4.6 1.0,0C1.0,-4.6 3.9,-8.0 7.9,-8.8C9.7,-9.2 10.5,-8.8 10.5,-7.0Z" fill="#3c3c3c" stroke="#909090" stroke-width="1.0"/></g><circle cx="66.0" cy="344.3" r="2.0" fill="#f0f0f0"/>
<g transform="translate(92.2,344.3) rotate(222)"><path d="M10.5,-7.0L10.5,7.0C10.5,8.8 9.7,9.2 7.9,8.8C3.9,8.0 1.0,4.6 1.0,0C1.0,-4.6 3.9,-8.0 7.9,-8.8C9.7,-9.2 10.5,-8.8 10.5,-7.0Z" fill="#3c3c3c" stroke="#909090" stroke-width="1.0"/></g><circle cx="92.2" cy="344.3" r="2.0" fill="#f0f0f0"/>
<g transform="translate(118.5,344.3) rotate(222)"><path d="M10.5,-7.0L10.5,7.0C10.5,8.8 9.7,9.2 7.9,8.8C3.9,8.0 1.0,4.6 1.0,0C1.0,-4.6 3.9,-8.0 7.9,-8.8C9.7,-9.2 10.5,-8.8 10.5,-7.0Z" fill="#3c3c3c" stroke="#909090" stroke-width="1.0"/></g><circle cx="118.5" cy="344.3" r="2.0" fill="#f0f0f0"/>
<g transform="translate(144.7,344.3) rotate(222)"><path d="M10.5,-7.0L10.5,7.0C10.5,8.8 9.7,9.2 7.9,8.8C3.9,8.0 1.0,4.6 1.0,0C1.0,-4.6 3.9,-8.0 7.9,-8.8C9.7,-9.2 10.5,-8.8 10.5,-7.0Z" fill="#3c3c3c" stroke="#909090" stroke-width="1.0"/></g><circle cx="144.7" cy="344.3" r="2.0" fill="#f0f0f0"/>
<g transform="translate(171.9,344.3) rotate(318)"><path d="M10.5,-7.0L10.5,7.0C10.5,8.8 9.7,9.2 7.9,8.8C3.9,8.0 1.0,4.6 1.0,0C1.0,-4.6 3.9,-8.0 7.9,-8.8C9.7,-9.2 10.5,-8.8 10.5,-7.0Z" fill="#3c3c3c" stroke="#909090" stroke-width="1.0"/></g><circle cx="171.9" cy="344.3" r="2.0" fill="#f0f0f0"/>
<g transform="translate(198.7,344.3) rotate(318)"><path d="M10.5,-7.0L10.5,7.0C10.5,8.8 9.7,9.2 7.9,8.8C3.9,8.0 1.0,4.6 1.0,0C1.0,-4.6 3.9,-8.0 7.9,-8.8C9.7,-9.2 10.5,-8.8 10.5,-7.0Z" fill="#3c3c3c" stroke="#909090" stroke-width="1.0"/></g><circle cx="198.7" cy="344.3" r="2.0" fill="#f0f0f0"/>
<g transform="translate(225.5,344.3) rotate(318)"><path d="M10.5,-7.0L10.5,7.0C10.5,8.8 9.7,9.2 7.9,8.8C3.9,8.0 1.0,4.6 1.0,0C1.0,-4.6 3.9,-8.0 7.9,-8.8C9.7,-9.2 10.5,-8.8 10.5,-7.0Z" fill="#3c3c3c" stroke="#909090" stroke-width="1.0"/></g><circle cx="225.5" cy="344.3" r="2.0" fill="#f0f0f0"/>
<g transform="translate(252.3,344.3) rotate(318)"><path d="M10.5,-7.0L10.5,7.0C10.5,8.8 9.7,9.2 7.9,8.8C3.9,8.0 1.0,4.6 1.0,0C1.0,-4.6 3.9,-8.0 7.9,-8.8C9.7,-9.2 10.5,-8.8 10.5,-7.0Z" fill="#3c3c3c" stroke="#909090" stroke-width="1.0"/></g><circle cx="252.3" cy="344.3" r="2.0" fill="#f0f0f0"/>
<g transform="translate(279.1,344.3) rotate(318)"><path d="M10.5,-7.0L10.5,7.0C10.5,8.8 9.7,9.2 7.9,8.8C3.9,8.0 1.0,4.6 1.0,0C1.0,-4.6 3.9,-8.0 7.9,-8.8C9.7,-9.2 10.5,-8.8 10.5,-7.0Z" fill="#3c3c3c" stroke="#909090" stroke-width="1.0"/></g><circle cx="279.1" cy="344.3" r="2.0" fill="#f0f0f0"/>
<g transform="translate(39.7,372.2) rotate(222)"><path d="M10.5,-7.0L10.5,7.0C10.5,8.8 9.7,9.2 7.9,8.8C3.9,8.0 1.0,4.6 1.0,0C1.0,-4.6 3.9,-8.0 7.9,-8.8C9.7,-9.2 10.5,-8.8 10.5,-7.0Z" fill="#3c3c3c" stroke="#909090" stroke-width="1.0"/></g><circle cx="39.7" cy="372.2" r="2.0" fill="#f0f0f0"/>
<g transform="translate(66.0,372.2) rotate(222)"><path d="M10.5,-7.0L10.5,7.0C10.5,8.8 9.7,9.2 7.9,8.8C3.9,8.0 1.0,4.6 1.0,0C1.0,-4.6 3.9,-8.0 7.9,-8.8C9.7,-9.2 10.5,-8.8 10.5,-7.0Z" fill="#3c3c3c" stroke="#909090" stroke-width="1.0"/></g><circle cx="66.0" cy="372.2" r="2.0" fill="#f0f0f0"/>
<g transform="translate(92.2,372.2) rotate(222)"><path d="M10.5,-7.0L10.5,7.0C10.5,8.8 9.7,9.2 7.9,8.8C3.9,8.0 1.0,4.6 1.0,0C1.0,-4.6 3.9,-8.0 7.9,-8.8C9.7,-9.2 10.5,-8.8 10.5,-7.0Z" fill="#3c3c3c" stroke="#909090" stroke-width="1.0"/></g><circle cx="92.2" cy="372.2" r="2.0" fill="#f0f0f0"/>
<g transform="translate(118.5,372.2) rotate(222)"><path d="M10.5,-7.0L10.5,7.0C10.5,8.8 9.7,9.2 7.9,8.8C3.9,8.0 1.0,4.6 1.0,0C1.0,-4.6 3.9,-8.0 7.9,-8.8C9.7,-9.2 10.5,-8.8 10.5,-7.0Z" fill="#3c3c3c" stroke="#909090" stroke-width="1.0"/></g><circle cx="118.5" cy="372.2" r="2.0" fill="#f0f0f0"/>
<g transform="translate(144.7,372.2) rotate(222)"><path d="M10.5,-7.0L10.5,7.0C10.5,8.8 9.7,9.2 7.9,8.8C3.9,8.0 1.0,4.6 1.0,0C1.0,-4.6 3.9,-8.0 7.9,-8.8C9.7,-9.2 10.5,-8.8 10.5,-7.0Z" fill="#3c3c3c" stroke="#909090" stroke-width="1.0"/></g><circle cx="144.7" cy="372.2" r="2.0" fill="#f0f0f0"/>
<g transform="translate(171.9,372.2) rotate(318)"><path d="M10.5,-7.0L10.5,7.0C10.5,8.8 9.7,9.2 7.9,8.8C3.9,8.0 1.0,4.6 1.0,0C1.0,-4.6 3.9,-8.0 7.9,-8.8C9.7,-9.2 10.5,-8.8 10.5,-7.0Z" fill="#3c3c3c" stroke="#909090" stroke-width="1.0"/></g><circle cx="171.9" cy="372.2" r="2.0" fill="#f0f0f0"/>
<g transform="translate(198.7,372.2) rotate(318)"><path d="M10.5,-7.0L10.5,7.0C10.5,8.8 9.7,9.2 7.9,8.8C3.9,8.0 1.0,4.6 1.0,0C1.0,-4.6 3.9,-8.0 7.9,-8.8C9.7,-9.2 10.5,-8.8 10.5,-7.0Z" fill="#3c3c3c" stroke="#909090" stroke-width="1.0"/></g><circle cx="198.7" cy="372.2" r="2.0" fill="#f0f0f0"/>
<g transform="translate(225.5,372.2) rotate(318)"><path d="M10.5,-7.0L10.5,7.0C10.5,8.8 9.7,9.2 7.9,8.8C3.9,8.0 1.0,4.6 1.0,0C1.0,-4.6 3.9,-8.0 7.9,-8.8C9.7,-9.2 10.5,-8.8 10.5,-7.0Z" fill="#3c3c3c" stroke="#909090" stroke-width="1.0"/></g><circle cx="225.5" cy="372.2" r="2.0" fill="#f0f0f0"/>
<g transform="translate(252.3,372.2) rotate(318)"><path d="M10.5,-7.0L10.5,7.0C10.5,8.8 9.7,9.2 7.9,8.8C3.9,8.0 1.0,4.6 1.0,0C1.0,-4.6 3.9,-8.0 7.9,-8.8C9.7,-9.2 10.5,-8.8 10.5,-7.0Z" fill="#3c3c3c" stroke="#909090" stroke-width="1.0"/></g><circle cx="252.3" cy="372.2" r="2.0" fill="#f0f0f0"/>
<g transform="translate(279.1,372.2) rotate(318)"><path d="M10.5,-7.0L10.5,7.0C10.5,8.8 9.7,9.2 7.9,8.8C3.9,8.0 1.0,4.6 1.0,0C1.0,-4.6 3.9,-8.0 7.9,-8.8C9.7,-9.2 10.5,-8.8 10.5,-7.0Z" fill="#3c3c3c" stroke="#909090" stroke-width="1.0"/></g><circle cx="279.1" cy="372.2" r="2.0" fill="#f0f0f0"/>
<g transform="translate(39.7,400.1) rotate(222)"><path d="M10.5,-7.0L10.5,7.0C10.5,8.8 9.7,9.2 7.9,8.8C3.9,8.0 1.0,4.6 1.0,0C1.0,-4.6 3.9,-8.0 7.9,-8.8C9.7,-9.2 10.5,-8.8 10.5,-7.0Z" fill="#3c3c3c" stroke="#909090" stroke-width="1.0"/></g><circle cx="39.7" cy="400.1" r="2.0" fill="#f0f0f0"/>
<g transform="translate(66.0,400.1) rotate(222)"><path d="M10.5,-7.0L10.5,7.0C10.5,8.8 9.7,9.2 7.9,8.8C3.9,8.0 1.0,4.6 1.0,0C1.0,-4.6 3.9,-8.0 7.9,-8.8C9.7,-9.2 10.5,-8.8 10.5,-7.0Z" fill="#3c3c3c" stroke="#909090" stroke-width="1.0"/></g><circle cx="66.0" cy="400.1" r="2.0" fill="#f0f0f0"/>
<g transform="translate(92.2,400.1) rotate(222)"><path d="M10.5,-7.0L10.5,7.0C10.5,8.8 9.7,9.2 7.9,8.8C3.9,8.0 1.0,4.6 1.0,0C1.0,-4.6 3.9,-8.0 7.9,-8.8C9.7,-9.2 10.5,-8.8 10.5,-7.0Z" fill="#3c3c3c" stroke="#909090" stroke-width="1.0"/></g><circle cx="92.2" cy="400.1" r="2.0" fill="#f0f0f0"/>
<g transform="translate(118.5,400.1) rotate(222)"><path d="M10.5,-7.0L10.5,7.0C10.5,8.8 9.7,9.2 7.9,8.8C3.9,8.0 1.0,4.6 1.0,0C1.0,-4.6 3.9,-8.0 7.9,-8.8C9.7,-9.2 10.5,-8.8 10.5,-7.0Z" fill="#3c3c3c" stroke="#909090" stroke-width="1.0"/></g><circle cx="118.5" cy="400.1" r="2.0" fill="#f0f0f0"/>
<g transform="translate(144.7,400.1) rotate(222)"><path d="M10.5,-7.0L10.5,7.0C10.5,8.8 9.7,9.2 7.9,8.8C3.9,8.0 1.0,4.6 1.0,0C1.0,-4.6 3.9,-8.0 7.9,-8.8C9.7,-9.2 10.5,-8.8 10.5,-7.0Z" fill="#3c3c3c" stroke="#909090" stroke-width="1.0"/></g><circle cx="144.7" cy="400.1" r="2.0" fill="#f0f0f0"/>
<g transform="translate(171.9,400.1) rotate(318)"><path d="M10.5,-7.0L10.5,7.0C10.5,8.8 9.7,9.2 7.9,8.8C3.9,8.0 1.0,4.6 1.0,0C1.0,-4.6 3.9,-8.0 7.9,-8.8C9.7,-9.2 10.5,-8.8 10.5,-7.0Z" fill="#3c3c3c" stroke="#909090" stroke-width="1.0"/></g><circle cx="171.9" cy="400.1" r="2.0" fill="#f0f0f0"/>
<g transform="translate(198.7,400.1) rotate(318)"><path d="M10.5,-7.0L10.5,7.0C10.5,8.8 9.7,9.2 7.9,8.8C3.9,8.0 1.0,4.6 1.0,0C1.0,-4.6 3.9,-8.0 7.9,-8.8C9.7,-9.2 10.5,-8.8 10.5,-7.0Z" fill="#3c3c3c" stroke="#909090" stroke-width="1.0"/></g><circle cx="198.7" cy="400.1" r="2.0" fill="#f0f0f0"/>
<g transform="translate(225.5,400.1) rotate(318)"><path d="M10.5,-7.0L10.5,7.0C10.5,8.8 9.7,9.2 7.9,8.8C3.9,8.0 1.0,4.6 1.0,0C1.0,-4.6 3.9,-8.0 7.9,-8.8C9.7,-9.2 10.5,-8.8 10.5,-7.0Z" fill="#3c3c3c" stroke="#909090" stroke-width="1.0"/></g><circle cx="225.5" cy="400.1" r="2.0" fill="#f0f0f0"/>
<g transform="translate(252.3,400.1) rotate(318)"><path d="M10.5,-7.0L10.5,7.0C10.5,8.8 9.7,9.2 7.9,8.8C3.9,8.0 1.0,4.6 1.0,0C1.0,-4.6 3.9,-8.0 7.9,-8.8C9.7,-9.2 10.5,-8.8 10.5,-7.0Z" fill="#3c3c3c" stroke="#909090" stroke-width="1.0"/></g><circle cx="252.3" cy="400.1" r="2.0" fill="#f0f0f0"/>
<g transform="translate(279.1,400.1) rotate(318)"><path d="M10.5,-7.0L10.5,7.0C10.5,8.8 9.7,9.2 7.9,8.8C3.9,8.0 1.0,4.6 1.0,0C1.0,-4.6 3.9,-8.0 7.9,-8.8C9.7,-9.2 10.5,-8.8 10.5,-7.0Z" fill="#3c3c3c" stroke="#909090" stroke-width="1.0"/></g><circle cx="279.1" cy="400.1" r="2.0" fill="#f0f0f0"/>
<g transform="translate(39.7,428.0) rotate(222)"><path d="M10.5,-7.0L10.5,7.0C10.5,8.8 9.7,9.2 7.9,8.8C3.9,8.0 1.0,4.6 1.0,0C1.0,-4.6 3.9,-8.0 7.9,-8.8C9.7,-9.2 10.5,-8.8 10.5,-7.0Z" fill="#3c3c3c" stroke="#909090" stroke-width="1.0"/></g><circle cx="39.7" cy="428.0" r="2.0" fill="#f0f0f0"/>
<g transform="translate(66.0,428.0) rotate(222)"><path d="M10.5,-7.0L10.5,7.0C10.5,8.8 9.7,9.2 7.9,8.8C3.9,8.0 1.0,4.6 1.0,0C1.0,-4.6 3.9,-8.0 7.9,-8.8C9.7,-9.2 10.5,-8.8 10.5,-7.0Z" fill="#3c3c3c" stroke="#909090" stroke-width="1.0"/></g><circle cx="66.0" cy="428.0" r="2.0" fill="#f0f0f0"/>
<g transform="translate(92.2,428.0) rotate(222)"><path d="M10.5,-7.0L10.5,7.0C10.5,8.8 9.7,9.2 7.9,8.8C3.9,8.0 1.0,4.6 1.0,0C1.0,-4.6 3.9,-8.0 7.9,-8.8C9.7,-9.2 10.5,-8.8 10.5,-7.0Z" fill="#3c3c3c" stroke="#909090" stroke-width="1.0"/></g><circle cx="92.2" cy="428.0" r="2.0" fill="#f0f0f0"/>
<g transform="translate(118.5,428.0) rotate(222)"><path d="M10.5,-7.0L10.5,7.0C10.5,8.8 9.7,9.2 7.9,8.8C3.9,8.0 1.0,4.6 1.0,0C1.0,-4.6 3.9,-8.0 7.9,-8.8C9.7,-9.2 10.5,-8.8 10.5,-7.0Z" fill="#3c3c3c" stroke="#909090" stroke-width="1.0"/></g><circle cx="118.5" cy="428.0" r="2.0" fill="#f0f0f0"/>
<g transform="translate(144.7,428.0) rotate(222)"><path d="M10.5,-7.0L10.5,7.0C10.5,8.8 9.7,9.2 7.9,8.8C3.9,8.0 1.0,4.6 1.0,0C1.0,-4.6 3.9,-8.0 7.9,-8.8C9.7,-9.2 10.5,-8.8 10.5,-7.0Z" fill="#3c3c3c" stroke="#909090" stroke-width="1.0"/></g><circle cx="144.7" cy="428.0" r="2.0" fill="#f0f0f0"/>
<g transform="translate(171.9,428.0) rotate(318)"><path d="M10.5,-7.0L10.5,7.0C10.5,8.8 9.7,9.2 7.9,8.8C3.9,8.0 1.0,4.6 1.0,0C1.0,-4.6 3.9,-8.0 7.9,-8.8C9.7,-9.2 10.5,-8.8 10.5,-7.0Z" fill="#3c3c3c" stroke="#909090" stroke-width="1.0"/></g><circle cx="171.9" cy="428.0" r="2.0" fill="#f0f0f0"/>
<g transform="translate(198.7,428.0) rotate(318)"><path d="M10.5,-7.0L10.5,7.0C10.5,8.8 9.7,9.2 7.9,8.8C3.9,8.0 1.0,4.6 1.0,0C1.0,-4.6 3.9,-8.0 7.9,-8.8C9.7,-9.2 10.5,-8.8 10.5,-7.0Z" fill="#3c3c3c" stroke="#909090" stroke-width="1.0"/></g><circle cx="198.7" cy="428.0" r="2.0" fill="#f0f0f0"/>
<g transform="translate(225.5,428.0) rotate(318)"><path d="M10.5,-7.0L10.5,7.0C10.5,8.8 9.7,9.2 7.9,8.8C3.9,8.0 1.0,4.6 1.0,0C1.0,-4.6 3.9,-8.0 7.9,-8.8C9.7,-9.2 10.5,-8.8 10.5,-7.0Z" fill="#3c3c3c" stroke="#909090" stroke-width="1.0"/></g><circle cx="225.5" cy="428.0" r="2.0" fill="#f0f0f0"/>
<g transform="translate(252.3,428.0) rotate(318)"><path d="M10.5,-7.0L10.5,7.0C10.5,8.8 9.7,9.2 7.9,8.8C3.9,8.0 1.0,4.6 1.0,0C1.0,-4.6 3.9,-8.0 7.9,-8.8C9.7,-9.2 10.5,-8.8 10.5,-7.0Z" fill="#3c3c3c" stroke="#909090" stroke-width="1.0"/></g><circle cx="252.3" cy="428.0" r="2.0" fill="#f0f0f0"/>
<g transform="translate(279.1,428.0) rotate(318)"><path d="M10.5,-7.0L10.5,7.0C10.5,8.8 9.7,9.2 7.9,8.8C3.9,8.0 1.0,4.6 1.0,0C1.0,-4.6 3.9,-8.0 7.9,-8.8C9.7,-9.2 10.5,-8.8 10.5,-7.0Z" fill="#3c3c3c" stroke="#909090" stroke-width="1.0"/></g><circle cx="279.1" cy="428.0" r="2.0" fill="#f0f0f0"/>
<g transform="translate(39.7,455.9) rotate(222)"><path d="M10.5,-7.0L10.5,7.0C10.5,8.8 9.7,9.2 7.9,8.8C3.9,8.0 1.0,4.6 1.0,0C1.0,-4.6 3.9,-8.0 7.9,-8.8C9.7,-9.2 10.5,-8.8 10.5,-7.0Z" fill="#3c3c3c" stroke="#909090" stroke-width="1.0"/></g><circle cx="39.7" cy="455.9" r="2.0" fill="#f0f0f0"/>
<g transform="translate(66.0,455.9) rotate(222)"><path d="M10.5,-7.0L10.5,7.0C10.5,8.8 9.7,9.2 7.9,8.8C3.9,8.0 1.0,4.6 1.0,0C1.0,-4.6 3.9,-8.0 7.9,-8.8C9.7,-9.2 10.5,-8.8 10.5,-7.0Z" fill="#3c3c3c" stroke="#909090" stroke-width="1.0"/></g><circle cx="66.0" cy="455.9" r="2.0" fill="#f0f0f0"/>
<g transform="translate(92.2,455.9) rotate(222)"><path d="M10.5,-7.0L10.5,7.0C10.5,8.8 9.7,9.2 7.9,8.8C3.9,8.0 1.0,4.6 1.0,0C1.0,-4.6 3.9,-8.0 7.9,-8.8C9.7,-9.2 10.5,-8.8 10.5,-7.0Z" fill="#3c3c3c" stroke="#909090" stroke-width="1.0"/></g><circle cx="92.2" cy="455.9" r="2.0" fill="#f0f0f0"/>
<g transform="translate(118.5,455.9) rotate(222)"><path d="M10.5,-7.0L10.5,7.0C10.5,8.8 9.7,9.2 7.9,8.8C3.9,8.0 1.0,4.6 1.0,0C1.0,-4.6 3.9,-8.0 7.9,-8.8C9.7,-9.2 10.5,-8.8 10.5,-7.0Z" fill="#3c3c3c" stroke="#909090" stroke-width="1.0"/></g><circle cx="118.5" cy="455.9" r="2.0" fill="#f0f0f0"/>
<g transform="translate(147.7,454.6) rotate(90)"><path d="M10.5,-7.0L10.5,7.0C10.5,8.8 9.7,9.2 7.9,8.8C3.9,8.0 1.0,4.6 1.0,0C1.0,-4.6 3.9,-8.0 7.9,-8.8C9.7,-9.2 10.5,-8.8 10.5,-7.0Z" fill="#3c3c3c" stroke="#909090" stroke-width="1.0"/></g><circle cx="147.7" cy="454.6" r="2.0" fill="#f0f0f0"/>
<g transform="translate(174.8,454.6) rotate(90)"><path d="M10.5,-7.0L10.5,7.0C10.5,8.8 9.7,9.2 7.9,8.8C3.9,8.0 1.0,4.6 1.0,0C1.0,-4.6 3.9,-8.0 7.9,-8.8C9.7,-9.2 10.5,-8.8 10.5,-7.0Z" fill="#3c3c3c" stroke="#909090" stroke-width="1.0"/></g><circle cx="174.8" cy="454.6" r="2.0" fill="#f0f0f0"/>
<g transform="translate(198.7,455.9) rotate(318)"><path d="M10.5,-7.0L10.5,7.0C10.5,8.8 9.7,9.2 7.9,8.8C3.9,8.0 1.0,4.6 1.0,0C1.0,-4.6 3.9,-8.0 7.9,-8.8C9.7,-9.2 10.5,-8.8 10.5,-7.0Z" fill="#3c3c3c" stroke="#909090" stroke-width="1.0"/></g><circle cx="198.7" cy="455.9" r="2.0" fill="#f0f0f0"/>
<g transform="translate(225.5,455.9) rotate(318)"><path d="M10.5,-7.0L10.5,7.0C10.5,8.8 9.7,9.2 7.9,8.8C3.9,8.0 1.0,4.6 1.0,0C1.0,-4.6 3.9,-8.0 7.9,-8.8C9.7,-9.2 10.5,-8.8 10.5,-7.0Z" fill="#3c3c3c" stroke="#909090" stroke-width="1.0"/></g><circle cx="225.5" cy="455.9" r="2.0" fill="#f0f0f0"/>
<g transform="translate(252.3,455.9) rotate(318)"><path d="M10.5,-7.0L10.5,7.0C10.5,8.8 9.7,9.2 7.9,8.8C3.9,8.0 1.0,4.6 1.0,0C1.0,-4.6 3.9,-8.0 7.9,-8.8C9.7,-9.2 10.5,-8.8 10.5,-7.0Z" fill="#3c3c3c" stroke="#909090" stroke-width="1.0"/></g><circle cx="252.3" cy="455.9" r="2.0" fill="#f0f0f0"/>
<g transform="translate(279.1,455.9) rotate(318)"><path d="M10.5,-7.0L10.5,7.0C10.5,8.8 9.7,9.2 7.9,8.8C3.9,8.0 1.0,4.6 1.0,0C1.0,-4.6 3.9,-8.0 7.9,-8.8C9.7,-9.2 10.5,-8.8 10.5,-7.0Z" fill="#3c3c3c" stroke="#909090" stroke-width="1.0"/></g><circle cx="279.1" cy="455.9" r="2.0" fill="#f0f0f0"/>
<g transform="translate(39.7,483.8) rotate(222)"><path d="M10.5,-7.0L10.5,7.0C10.5,8.8 9.7,9.2 7.9,8.8C3.9,8.0 1.0,4.6 1.0,0C1.0,-4.6 3.9,-8.0 7.9,-8.8C9.7,-9.2 10.5,-8.8 10.5,-7.0Z" fill="#3c3c3c" stroke="#909090" stroke-width="1.0"/></g><circle cx="39.7" cy="483.8" r="2.0" fill="#f0f0f0"/>
<g transform="translate(66.0,483.8) rotate(222)"><path d="M10.5,-7.0L10.5,7.0C10.5,8.8 9.7,9.2 7.9,8.8C3.9,8.0 1.0,4.6 1.0,0C1.0,-4.6 3.9,-8.0 7.9,-8.8C9.7,-9.2 10.5,-8.8 10.5,-7.0Z" fill="#3c3c3c" stroke="#909090" stroke-width="1.0"/></g><circle cx="66.0" cy="483.8" r="2.0" fill="#f0f0f0"/>
<g transform="translate(92.2,483.8) rotate(222)"><path d="M10.5,-7.0L10.5,7.0C10.5,8.8 9.7,9.2 7.9,8.8C3.9,8.0 1.0,4.6 1.0,0C1.0,-4.6 3.9,-8.0 7.9,-8.8C9.7,-9.2 10.5,-8.8 10.5,-7.0Z" fill="#3c3c3c" stroke="#909090" stroke-width="1.0"/></g><circle cx="92.2" cy="483.8" r="2.0" fill="#f0f0f0"/>
<g transform="translate(120.6,482.5) rotate(90)"><path d="M10.5,-7.0L10.5,7.0C10.5,8.8 9.7,9.2 7.9,8.8C3.9,8.0 1.0,4.6 1.0,0C1.0,-4.6 3.9,-8.0 7.9,-8.8C9.7,-9.2 10.5,-8.8 10.5,-7.0Z" fill="#3c3c3c" stroke="#909090" stroke-width="1.0"/></g><circle cx="120.6" cy="482.5" r="2.0" fill="#f0f0f0"/>
<g transform="translate(147.7,482.5) rotate(90)"><path d="M10.5,-7.0L10.5,7.0C10.5,8.8 9.7,9.2 7.9,8.8C3.9,8.0 1.0,4.6 1.0,0C1.0,-4.6 3.9,-8.0 7.9,-8.8C9.7,-9.2 10.5,-8.8 10.5,-7.0Z" fill="#3c3c3c" stroke="#909090" stroke-width="1.0"/></g><circle cx="147.7" cy="482.5" r="2.0" fill="#f0f0f0"/>
<g transform="translate(174.8,482.5) rotate(90)"><path d="M10.5,-7.0L10.5,7.0C10.5,8.8 9.7,9.2 7.9,8.8C3.9,8.0 1.0,4.6 1.0,0C1.0,-4.6 3.9,-8.0 7.9,-8.8C9.7,-9.2 10.5,-8.8 10.5,-7.0Z" fill="#3c3c3c" stroke="#909090" stroke-width="1.0"/></g><circle cx="174.8" cy="482.5" r="2.0" fill="#f0f0f0"/>
<g transform="translate(201.9,482.5) rotate(90)"><path d="M10.5,-7.0L10.5,7.0C10.5,8.8 9.7,9.2 7.9,8.8C3.9,8.0 1.0,4.6 1.0,0C1.0,-4.6 3.9,-8.0 7.9,-8.8C9.7,-9.2 10.5,-8.8 10.5,-7.0Z" fill="#3c3c3c" stroke="#909090" stroke-width="1.0"/></g><circle cx="201.9" cy="482.5" r="2.0" fill="#f0f0f0"/>
<g transform="translate(225.5,483.8) rotate(318)"><path d="M10.5,-7.0L10.5,7.0C10.5,8.8 9.7,9.2 7.9,8.8C3.9,8.0 1.0,4.6 1.0,0C1.0,-4.6 3.9,-8.0 7.9,-8.8C9.7,-9.2 10.5,-8.8 10.5,-7.0Z" fill="#3c3c3c" stroke="#909090" stroke-width="1.0"/></g><circle cx="225.5" cy="483.8" r="2.0" fill="#f0f0f0"/>
<g transform="translate(252.3,483.8) rotate(318)"><path d="M10.5,-7.0L10.5,7.0C10.5,8.8 9.7,9.2 7.9,8.8C3.9,8.0 1.0,4.6 1.0,0C1.0,-4.6 3.9,-8.0 7.9,-8.8C9.7,-9.2 10.5,-8.8 10.5,-7.0Z" fill="#3c3c3c" stroke="#909090" stroke-width="1.0"/></g><circle cx="252.3" cy="483.8" r="2.0" fill="#f0f0f0"/>
<g transform="translate(279.1,483.8) rotate(318)"><path d="M10.5,-7.0L10.5,7.0C10.5,8.8 9.7,9.2 7.9,8.8C3.9,8.0 1.0,4.6 1.0,0C1.0,-4.6 3.9,-8.0 7.9,-8.8C9.7,-9.2 10.5,-8.8 10.5,-7.0Z" fill="#3c3c3c" stroke="#909090" stroke-width="1.0"/></g><circle cx="279.1" cy="483.8" r="2.0" fill="#f0f0f0"/>
<g transform="translate(39.7,511.7) rotate(222)"><path d="M10.5,-7.0L10.5,7.0C10.5,8.8 9.7,9.2 7.9,8.8C3.9,8.0 1.0,4.6 1.0,0C1.0,-4.6 3.9,-8.0 7.9,-8.8C9.7,-9.2 10.5,-8.8 10.5,-7.0Z" fill="#3c3c3c" stroke="#909090" stroke-width="1.0"/></g><circle cx="39.7" cy="511.7" r="2.0" fill="#f0f0f0"/>
<g transform="translate(66.0,511.7) rotate(222)"><path d="M10.5,-7.0L10.5,7.0C10.5,8.8 9.7,9.2 7.9,8.8C3.9,8.0 1.0,4.6 1.0,0C1.0,-4.6 3.9,-8.0 7.9,-8.8C9.7,-9.2 10.5,-8.8 10.5,-7.0Z" fill="#3c3c3c" stroke="#909090" stroke-width="1.0"/></g><circle cx="66.0" cy="511.7" r="2.0" fill="#f0f0f0"/>
<g transform="translate(93.5,510.4) rotate(90)"><path d="M10.5,-7.0L10.5,7.0C10.5,8.8 9.7,9.2 7.9,8.8C3.9,8.0 1.0,4.6 1.0,0C1.0,-4.6 3.9,-8.0 7.9,-8.8C9.7,-9.2 10.5,-8.8 10.5,-7.0Z" fill="#3c3c3c" stroke="#909090" stroke-width="1.0"/></g><circle cx="93.5" cy="510.4" r="2.0" fill="#f0f0f0"/>
<g transform="translate(120.6,510.4) rotate(90)"><path d="M10.5,-7.0L10.5,7.0C10.5,8.8 9.7,9.2 7.9,8.8C3.9,8.0 1.0,4.6 1.0,0C1.0,-4.6 3.9,-8.0 7.9,-8.8C9.7,-9.2 10.5,-8.8 10.5,-7.0Z" fill="#3c3c3c" stroke="#909090" stroke-width="1.0"/></g><circle cx="120.6" cy="510.4" r="2.0" fill="#f0f0f0"/>
<g transform="translate(147.7,510.4) rotate(90)"><path d="M10.5,-7.0L10.5,7.0C10.5,8.8 9.7,9.2 7.9,8.8C3.9,8.0 1.0,4.6 1.0,0C1.0,-4.6 3.9,-8.0 7.9,-8.8C9.7,-9.2 10.5,-8.8 10.5,-7.0Z" fill="#3c3c3c" stroke="#909090" stroke-width="1.0"/></g><circle cx="147.7" cy="510.4" r="2.0" fill="#f0f0f0"/>
<g transform="translate(174.8,510.4) rotate(90)"><path d="M10.5,-7.0L10.5,7.0C10.5,8.8 9.7,9.2 7.9,8.8C3.9,8.0 1.0,4.6 1.0,0C1.0,-4.6 3.9,-8.0 7.9,-8.8C9.7,-9.2 10.5,-8.8 10.5,-7.0Z" fill="#3c3c3c" stroke="#909090" stroke-width="1.0"/></g><circle cx="174.8" cy="510.4" r="2.0" fill="#f0f0f0"/>
<g transform="translate(201.9,510.4) rotate(90)"><path d="M10.5,-7.0L10.5,7.0C10.5,8.8 9.7,9.2 7.9,8.8C3.9,8.0 1.0,4.6 1.0,0C1.0,-4.6 3.9,-8.0 7.9,-8.8C9.7,-9.2 10.5,-8.8 10.5,-7.0Z" fill="#3c3c3c" stroke="#909090" stroke-width="1.0"/></g><circle cx="201.9" cy="510.4" r="2.0" fill="#f0f0f0"/>
<g transform="translate(229.0,510.4) rotate(90)"><path d="M10.5,-7.0L10.5,7.0C10.5,8.8 9.7,9.2 7.9,8.8C3.9,8.0 1.0,4.6 1.0,0C1.0,-4.6 3.9,-8.0 7.9,-8.8C9.7,-9.2 10.5,-8.8 10.5,-7.0Z" fill="#3c3c3c" stroke="#909090" stroke-width="1.0"/></g><circle cx="229.0" cy="510.4" r="2.0" fill="#f0f0f0"/>
<g transform="translate(252.3,511.7) rotate(318)"><path d="M10.5,-7.0L10.5,7.0C10.5,8.8 9.7,9.2 7.9,8.8C3.9,8.0 1.0,4.6 1.0,0C1.0,-4.6 3.9,-8.0 7.9,-8.8C9.7,-9.2 10.5,-8.8 10.5,-7.0Z" fill="#3c3c3c" stroke="#909090" stroke-width="1.0"/></g><circle cx="252.3" cy="511.7" r="2.0" fill="#f0f0f0"/>
<g transform="translate(279.1,511.7) rotate(318)"><path d="M10.5,-7.0L10.5,7.0C10.5,8.8 9.7,9.2 7.9,8.8C3.9,8.0 1.0,4.6 1.0,0C1.0,-4.6 3.9,-8.0 7.9,-8.8C9.7,-9.2 10.5,-8.8 10.5,-7.0Z" fill="#3c3c3c" stroke="#909090" stroke-width="1.0"/></g><circle cx="279.1" cy="511.7" r="2.0" fill="#f0f0f0"/>
<g transform="translate(39.7,539.6) rotate(222)"><path d="M10.5,-7.0L10.5,7.0C10.5,8.8 9.7,9.2 7.9,8.8C3.9,8.0 1.0,4.6 1.0,0C1.0,-4.6 3.9,-8.0 7.9,-8.8C9.7,-9.2 10.5,-8.8 10.5,-7.0Z" fill="#3c3c3c" stroke="#909090" stroke-width="1.0"/></g><circle cx="39.7" cy="539.6" r="2.0" fill="#f0f0f0"/>
<g transform="translate(66.4,538.3) rotate(90)"><path d="M10.5,-7.0L10.5,7.0C10.5,8.8 9.7,9.2 7.9,8.8C3.9,8.0 1.0,4.6 1.0,0C1.0,-4.6 3.9,-8.0 7.9,-8.8C9.7,-9.2 10.5,-8.8 10.5,-7.0Z" fill="#3c3c3c" stroke="#909090" stroke-width="1.0"/></g><circle cx="66.4" cy="538.3" r="2.0" fill="#f0f0f0"/>
<g transform="translate(93.5,538.3) rotate(90)"><path d="M10.5,-7.0L10.5,7.0C10.5,8.8 9.7,9.2 7.9,8.8C3.9,8.0 1.0,4.6 1.0,0C1.0,-4.6 3.9,-8.0 7.9,-8.8C9.7,-9.2 10.5,-8.8 10.5,-7.0Z" fill="#3c3c3c" stroke="#909090" stroke-width="1.0"/></g><circle cx="93.5" cy="538.3" r="2.0" fill="#f0f0f0"/>
<g transform="translate(120.6,538.3) rotate(90)"><path d="M10.5,-7.0L10.5,7.0C10.5,8.8 9.7,9.2 7.9,8.8C3.9,8.0 1.0,4.6 1.0,0C1.0,-4.6 3.9,-8.0 7.9,-8.8C9.7,-9.2 10.5,-8.8 10.5,-7.0Z" fill="#3c3c3c" stroke="#909090" stroke-width="1.0"/></g><circle cx="120.6" cy="538.3" r="2.0" fill="#f0f0f0"/>
<g transform="translate(147.7,538.3) rotate(90)"><path d="M10.5,-7.0L10.5,7.0C10.5,8.8 9.7,9.2 7.9,8.8C3.9,8.0 1.0,4.6 1.0,0C1.0,-4.6 3.9,-8.0 7.9,-8.8C9.7,-9.2 10.5,-8.8 10.5,-7.0Z" fill="#3c3c3c" stroke="#909090" stroke-width="1.0"/></g><circle cx="147.7" cy="538.3" r="2.0" fill="#f0f0f0"/>
<g transform="translate(174.8,538.3) rotate(90)"><path d="M10.5,-7.0L10.5,7.0C10.5,8.8 9.7,9.2 7.9,8.8C3.9,8.0 1.0,4.6 1.0,0C1.0,-4.6 3.9,-8.0 7.9,-8.8C9.7,-9.2 10.5,-8.8 10.5,-7.0Z" fill="#3c3c3c" stroke="#909090" stroke-width="1.0"/></g><circle cx="174.8" cy="538.3" r="2.0" fill="#f0f0f0"/>
<g transform="translate(201.9,538.3) rotate(90)"><path d="M10.5,-7.0L10.5,7.0C10.5,8.8 9.7,9.2 7.9,8.8C3.9,8.0 1.0,4.6 1.0,0C1.0,-4.6 3.9,-8.0 7.9,-8.8C9.7,-9.2 10.5,-8.8 10.5,-7.0Z" fill="#3c3c3c" stroke="#909090" stroke-width="1.0"/></g><circle cx="201.9" cy="538.3" r="2.0" fill="#f0f0f0"/>
<g transform="translate(229.0,538.3) rotate(90)"><path d="M10.5,-7.0L10.5,7.0C10.5,8.8 9.7,9.2 7.9,8.8C3.9,8.0 1.0,4.6 1.0,0C1.0,-4.6 3.9,-8.0 7.9,-8.8C9.7,-9.2 10.5,-8.8 10.5,-7.0Z" fill="#3c3c3c" stroke="#909090" stroke-width="1.0"/></g><circle cx="229.0" cy="538.3" r="2.0" fill="#f0f0f0"/>
<g transform="translate(256.1,538.3) rotate(90)"><path d="M10.5,-7.0L10.5,7.0C10.5,8.8 9.7,9.2 7.9,8.8C3.9,8.0 1.0,4.6 1.0,0C1.0,-4.6 3.9,-8.0 7.9,-8.8C9.7,-9.2 10.5,-8.8 10.5,-7.0Z" fill="#3c3c3c" stroke="#909090" stroke-width="1.0"/></g><circle cx="256.1" cy="538.3" r="2.0" fill="#f0f0f0"/>
<g transform="translate(279.1,539.6) rotate(318)"><path d="M10.5,-7.0L10.5,7.0C10.5,8.8 9.7,9.2 7.9,8.8C3.9,8.0 1.0,4.6 1.0,0C1.0,-4.6 3.9,-8.0 7.9,-8.8C9.7,-9.2 10.5,-8.8 10.5,-7.0Z" fill="#3c3c3c" stroke="#909090" stroke-width="1.0"/></g><circle cx="279.1" cy="539.6" r="2.0" fill="#f0f0f0"/>
<g transform="translate(39.3,566.2) rotate(90)"><path d="M10.5,-7.0L10.5,7.0C10.5,8.8 9.7,9.2 7.9,8.8C3.9,8.0 1.0,4.6 1.0,0C1.0,-4.6 3.9,-8.0 7.9,-8.8C9.7,-9.2 10.5,-8.8 10.5,-7.0Z" fill="#3c3c3c" stroke="#909090" stroke-width="1.0"/></g><circle cx="39.3" cy="566.2" r="2.0" fill="#f0f0f0"/>
<g transform="translate(66.4,566.2) rotate(90)"><path d="M10.5,-7.0L10.5,7.0C10.5,8.8 9.7,9.2 7.9,8.8C3.9,8.0 1.0,4.6 1.0,0C1.0,-4.6 3.9,-8.0 7.9,-8.8C9.7,-9.2 10.5,-8.8 10.5,-7.0Z" fill="#3c3c3c" stroke="#909090" stroke-width="1.0"/></g><circle cx="66.4" cy="566.2" r="2.0" fill="#f0f0f0"/>
<g transform="translate(93.5,566.2) rotate(90)"><path d="M10.5,-7.0L10.5,7.0C10.5,8.8 9.7,9.2 7.9,8.8C3.9,8.0 1.0,4.6 1.0,0C1.0,-4.6 3.9,-8.0 7.9,-8.8C9.7,-9.2 10.5,-8.8 10.5,-7.0Z" fill="#3c3c3c" stroke="#909090" stroke-width="1.0"/></g><circle cx="93.5" cy="566.2" r="2.0" fill="#f0f0f0"/>
<g transform="translate(120.6,566.2) rotate(90)"><path d="M10.5,-7.0L10.5,7.0C10.5,8.8 9.7,9.2 7.9,8.8C3.9,8.0 1.0,4.6 1.0,0C1.0,-4.6 3.9,-8.0 7.9,-8.8C9.7,-9.2 10.5,-8.8 10.5,-7.0Z" fill="#3c3c3c" stroke="#909090" stroke-width="1.0"/></g><circle cx="120.6" cy="566.2" r="2.0" fill="#f0f0f0"/>
<g transform="translate(147.7,566.2) rotate(90)"><path d="M10.5,-7.0L10.5,7.0C10.5,8.8 9.7,9.2 7.9,8.8C3.9,8.0 1.0,4.6 1.0,0C1.0,-4.6 3.9,-8.0 7.9,-8.8C9.7,-9.2 10.5,-8.8 10.5,-7.0Z" fill="#3c3c3c" stroke="#909090" stroke-width="1.0"/></g><circle cx="147.7" cy="566.2" r="2.0" fill="#f0f0f0"/>
<g transform="translate(174.8,566.2) rotate(90)"><path d="M10.5,-7.0L10.5,7.0C10.5,8.8 9.7,9.2 7.9,8.8C3.9,8.0 1.0,4.6 1.0,0C1.0,-4.6 3.9,-8.0 7.9,-8.8C9.7,-9.2 10.5,-8.8 10.5,-7.0Z" fill="#3c3c3c" stroke="#909090" stroke-width="1.0"/></g><circle cx="174.8" cy="566.2" r="2.0" fill="#f0f0f0"/>
<g transform="translate(201.9,566.2) rotate(90)"><path d="M10.5,-7.0L10.5,7.0C10.5,8.8 9.7,9.2 7.9,8.8C3.9,8.0 1.0,4.6 1.0,0C1.0,-4.6 3.9,-8.0 7.9,-8.8C9.7,-9.2 10.5,-8.8 10.5,-7.0Z" fill="#3c3c3c" stroke="#909090" stroke-width="1.0"/></g><circle cx="201.9" cy="566.2" r="2.0" fill="#f0f0f0"/>
<g transform="translate(229.0,566.2) rotate(90)"><path d="M10.5,-7.0L10.5,7.0C10.5,8.8 9.7,9.2 7.9,8.8C3.9,8.0 1.0,4.6 1.0,0C1.0,-4.6 3.9,-8.0 7.9,-8.8C9.7,-9.2 10.5,-8.8 10.5,-7.0Z" fill="#3c3c3c" stroke="#909090" stroke-width="1.0"/></g><circle cx="229.0" cy="566.2" r="2.0" fill="#f0f0f0"/>
<g transform="translate(256.1,566.2) rotate(90)"><path d="M10.5,-7.0L10.5,7.0C10.5,8.8 9.7,9.2 7.9,8.8C3.9,8.0 1.0,4.6 1.0,0C1.0,-4.6 3.9,-8.0 7.9,-8.8C9.7,-9.2 10.5,-8.8 10.5,-7.0Z" fill="#3c3c3c" stroke="#909090" stroke-width="1.0"/></g><circle cx="256.1" cy="566.2" r="2.0" fill="#f0f0f0"/>
<g transform="translate(283.2,566.2) rotate(90)"><path d="M10.5,-7.0L10.5,7.0C10.5,8.8 9.7,9.2 7.9,8.8C3.9,8.0 1.0,4.6 1.0,0C1.0,-4.6 3.9,-8.0 7.9,-8.8C9.7,-9.2 10.5,-8.8 10.5,-7.0Z" fill="#3c3c3c" stroke="#909090" stroke-width="1.0"/></g><circle cx="283.2" cy="566.2" r="2.0" fill="#f0f0f0"/>
</g>
</g></g>
<rect x="14.3" y="302.6" width="59.5" height="61" fill="#fff"/>
<rect x="237.7" y="569" width="71.5" height="5.3" fill="#fff"/>
<text x="20.0" y="393.6" font-family='"Liberation Sans", Arial, sans-serif' font-weight="700" font-size="24" fill="#ffc000">TYPE-D</text>
</g>
<g id="panel-E">
<clipPath id="clipE"><rect x="361" y="303" width="311.0" height="280.6"/></clipPath>
<g clip-path="url(#clipE)"><g filter="url(#grainE)">
<rect x="359" y="301" width="315.0" height="284.6" fill="#474747"/>
<g filter="url(#glow)" opacity="0.55" fill="#a4a4a4">
<circle cx="392.1" cy="319.2" r="10"/>
<circle cx="419.3" cy="319.2" r="10"/>
<circle cx="446.5" cy="319.2" r="10"/>
<circle cx="473.7" cy="319.2" r="10"/>
<circle cx="500.9" cy="319.2" r="10"/>
<circle cx="536.5" cy="319.2" r="10"/>
<circle cx="563.7" cy="319.2" r="10"/>
<circle cx="590.9" cy="319.2" r="10"/>
<circle cx="618.1" cy="319.2" r="10"/>
<circle cx="645.3" cy="319.2" r="10"/>
<circle cx="392.1" cy="345.9" r="10"/>
<circle cx="419.3" cy="345.9" r="10"/>
<circle cx="446.5" cy="345.9" r="10"/>
<circle cx="473.7" cy="345.9" r="10"/>
<circle cx="500.9" cy="345.9" r="10"/>
<circle cx="536.5" cy="345.9" r="10"/>
<circle cx="563.7" cy="345.9" r="10"/>
<circle cx="590.9" cy="345.9" r="10"/>
<circle cx="618.1" cy="345.9" r="10"/>
<circle cx="645.3" cy="345.9" r="10"/>
<circle cx="392.1" cy="372.6" r="10"/>
<circle cx="419.3" cy="372.6" r="10"/>
<circle cx="446.5" cy="372.6" r="10"/>
<circle cx="473.7" cy="372.6" r="10"/>
<circle cx="500.9" cy="372.6" r="10"/>
<circle cx="536.5" cy="372.6" r="10"/>
<circle cx="563.7" cy="372.6" r="10"/>
<circle cx="590.9" cy="372.6" r="10"/>
<circle cx="618.1" cy="372.6" r="10"/>
<circle cx="645.3" cy="372.6" r="10"/>
<circle cx="392.1" cy="399.3" r="10"/>
<circle cx="419.3" cy="399.3" r="10"/>
<circle cx="446.5" cy="399.3" r="10"/>
<circle cx="473.7" cy="399.3" r="10"/>
<circle cx="500.9" cy="399.3" r="10"/>
<circle cx="536.5" cy="399.3" r="10"/>
<circle cx="563.7" cy="399.3" r="10"/>
<circle cx="590.9" cy="399.3" r="10"/>
<circle cx="618.1" cy="399.3" r="10"/>
<circle cx="645.3" cy="399.3" r="10"/>
<circle cx="392.1" cy="426.0" r="10"/>
<circle cx="419.3" cy="426.0" r="10"/>
<circle cx="446.5" cy="426.0" r="10"/>
<circle cx="473.7" cy="426.0" r="10"/>
<circle cx="500.9" cy="426.0" r="10"/>
<circle cx="536.5" cy="426.0" r="10"/>
<circle cx="563.7" cy="426.0" r="10"/>
<circle cx="590.9" cy="426.0" r="10"/>
<circle cx="618.1" cy="426.0" r="10"/>
<circle cx="645.3" cy="426.0" r="10"/>
<circle cx="392.1" cy="461.9" r="10"/>
<circle cx="419.3" cy="461.9" r="10"/>
<circle cx="446.5" cy="461.9" r="10"/>
<circle cx="473.7" cy="461.9" r="10"/>
<circle cx="500.9" cy="461.9" r="10"/>
<circle cx="536.5" cy="461.9" r="10"/>
<circle cx="563.7" cy="461.9" r="10"/>
<circle cx="590.9" cy="461.9" r="10"/>
<circle cx="618.1" cy="461.9" r="10"/>
<circle cx="645.3" cy="461.9" r="10"/>
<circle cx="392.1" cy="488.6" r="10"/>
<circle cx="419.3" cy="488.6" r="10"/>
<circle cx="446.5" cy="488.6" r="10"/>
<circle cx="473.7" cy="488.6" r="10"/>
<circle cx="500.9" cy="488.6" r="10"/>
<circle cx="536.5" cy="488.6" r="10"/>
<circle cx="563.7" cy="488.6" r="10"/>
<circle cx="590.9" cy="488.6" r="10"/>
<circle cx="618.1" cy="488.6" r="10"/>
<circle cx="645.3" cy="488.6" r="10"/>
<circle cx="392.1" cy="515.3" r="10"/>
<circle cx="419.3" cy="515.3" r="10"/>
<circle cx="446.5" cy="515.3" r="10"/>
<circle cx="473.7" cy="515.3" r="10"/>
<circle cx="500.9" cy="515.3" r="10"/>
<circle cx="536.5" cy="515.3" r="10"/>
<circle cx="563.7" cy="515.3" r="10"/>
<circle cx="590.9" cy="515.3" r="10"/>
<circle cx="618.1" cy="515.3" r="10"/>
<circle cx="645.3" cy="515.3" r="10"/>
<circle cx="392.1" cy="542.0" r="10"/>
<circle cx="419.3" cy="542.0" r="10"/>
<circle cx="446.5" cy="542.0" r="10"/>
<circle cx="473.7" cy="542.0" r="10"/>
<circle cx="500.9" cy="542.0" r="10"/>
<circle cx="536.5" cy="542.0" r="10"/>
<circle cx="563.7" cy="542.0" r="10"/>
<circle cx="590.9" cy="542.0" r="10"/>
<circle cx="618.1" cy="542.0" r="10"/>
<circle cx="645.3" cy="542.0" r="10"/>
<circle cx="392.1" cy="568.7" r="10"/>
<circle cx="419.3" cy="568.7" r="10"/>
<circle cx="446.5" cy="568.7" r="10"/>
<circle cx="473.7" cy="568.7" r="10"/>
<circle cx="500.9" cy="568.7" r="10"/>
<circle cx="536.5" cy="568.7" r="10"/>
<circle cx="563.7" cy="568.7" r="10"/>
<circle cx="590.9" cy="568.7" r="10"/>
<circle cx="618.1" cy="568.7" r="10"/>
<circle cx="645.3" cy="568.7" r="10"/>
</g>
<g filter="url(#soft)">
<g transform="translate(396.3,323.4)" stroke-linecap="round" stroke-width="1.5"><path d="M0,0L-14.0,0.0L-0.0,-11.5Z" fill="#3e3e3e" stroke="none"/><path d="M-14.0,0.0L-0.0,-11.5" stroke="#7e7e7e"/><path d="M0,0L-14.0,0.0" stroke="#d6d6d6"/><path d="M0,0L-0.0,-11.5" stroke="#cfcfcf"/><circle r="2.2" fill="#ffffff" stroke="none"/></g>
<g transform="translate(423.5,323.4)" stroke-linecap="round" stroke-width="1.5"><path d="M0,0L-14.0,0.0L-0.0,-11.5Z" fill="#3e3e3e" stroke="none"/><path d="M-14.0,0.0L-0.0,-11.5" stroke="#7e7e7e"/><path d="M0,0L-14.0,0.0" stroke="#d6d6d6"/><path d="M0,0L-0.0,-11.5" stroke="#cfcfcf"/><circle r="2.2" fill="#ffffff" stroke="none"/></g>
<g transform="translate(450.7,323.4)" stroke-linecap="round" stroke-width="1.5"><path d="M0,0L-14.0,0.0L-0.0,-11.5Z" fill="#3e3e3e" stroke="none"/><path d="M-14.0,0.0L-0.0,-11.5" stroke="#7e7e7e"/><path d="M0,0L-14.0,0.0" stroke="#d6d6d6"/><path d="M0,0L-0.0,-11.5" stroke="#cfcfcf"/><circle r="2.2" fill="#ffffff" stroke="none"/></g>
<g transform="translate(477.9,323.4)" stroke-linecap="round" stroke-width="1.5"><path d="M0,0L-14.0,0.0L-0.0,-11.5Z" fill="#3e3e3e" stroke="none"/><path d="M-14.0,0.0L-0.0,-11.5" stroke="#7e7e7e"/><path d="M0,0L-14.0,0.0" stroke="#d6d6d6"/><path d="M0,0L-0.0,-11.5" stroke="#cfcfcf"/><circle r="2.2" fill="#ffffff" stroke="none"/></g>
<g transform="translate(505.1,323.4)" stroke-linecap="round" stroke-width="1.5"><path d="M0,0L-14.0,0.0L-0.0,-11.5Z" fill="#3e3e3e" stroke="none"/><path d="M-14.0,0.0L-0.0,-11.5" stroke="#7e7e7e"/><path d="M0,0L-14.0,0.0" stroke="#d6d6d6"/><path d="M0,0L-0.0,-11.5" stroke="#cfcfcf"/><circle r="2.2" fill="#ffffff" stroke="none"/></g>
<g transform="translate(532.3,323.4)" stroke-linecap="round" stroke-width="1.5"><path d="M0,0L-0.0,-11.5L14.0,-0.0Z" fill="#3e3e3e" stroke="none"/><path d="M-0.0,-11.5L14.0,-0.0" stroke="#8e8e8e"/><path d="M0,0L-0.0,-11.5" stroke="#a8a8a8"/><path d="M0,0L14.0,-0.0" stroke="#d6d6d6"/><circle r="2.2" fill="#ffffff" stroke="none"/></g>
<g transform="translate(559.5,323.4)" stroke-linecap="round" stroke-width="1.5"><path d="M0,0L-0.0,-11.5L14.0,-0.0Z" fill="#3e3e3e" stroke="none"/><path d="M-0.0,-11.5L14.0,-0.0" stroke="#8e8e8e"/><path d="M0,0L-0.0,-11.5" stroke="#a8a8a8"/><path d="M0,0L14.0,-0.0" stroke="#d6d6d6"/><circle r="2.2" fill="#ffffff" stroke="none"/></g>
<g transform="translate(586.7,323.4)" stroke-linecap="round" stroke-width="1.5"><path d="M0,0L-0.0,-11.5L14.0,-0.0Z" fill="#3e3e3e" stroke="none"/><path d="M-0.0,-11.5L14.0,-0.0" stroke="#8e8e8e"/><path d="M0,0L-0.0,-11.5" stroke="#a8a8a8"/><path d="M0,0L14.0,-0.0" stroke="#d6d6d6"/><circle r="2.2" fill="#ffffff" stroke="none"/></g>
<g transform="translate(613.9,323.4)" stroke-linecap="round" stroke-width="1.5"><path d="M0,0L-0.0,-11.5L14.0,-0.0Z" fill="#3e3e3e" stroke="none"/><path d="M-0.0,-11.5L14.0,-0.0" stroke="#8e8e8e"/><path d="M0,0L-0.0,-11.5" stroke="#a8a8a8"/><path d="M0,0L14.0,-0.0" stroke="#d6d6d6"/><circle r="2.2" fill="#ffffff" stroke="none"/></g>
<g transform="translate(641.1,323.4)" stroke-linecap="round" stroke-width="1.5"><path d="M0,0L-0.0,-11.5L14.0,-0.0Z" fill="#3e3e3e" stroke="none"/><path d="M-0.0,-11.5L14.0,-0.0" stroke="#8e8e8e"/><path d="M0,0L-0.0,-11.5" stroke="#a8a8a8"/><path d="M0,0L14.0,-0.0" stroke="#d6d6d6"/><circle r="2.2" fill="#ffffff" stroke="none"/></g>
<g transform="translate(396.3,350.1)" stroke-linecap="round" stroke-width="1.5"><path d="M0,0L-14.0,0.0L-0.0,-11.5Z" fill="#3e3e3e" stroke="none"/><path d="M-14.0,0.0L-0.0,-11.5" stroke="#7e7e7e"/><path d="M0,0L-14.0,0.0" stroke="#d6d6d6"/><path d="M0,0L-0.0,-11.5" stroke="#cfcfcf"/><circle r="2.2" fill="#ffffff" stroke="none"/></g>
<g transform="translate(423.5,350.1)" stroke-linecap="round" stroke-width="1.5"><path d="M0,0L-14.0,0.0L-0.0,-11.5Z" fill="#3e3e3e" stroke="none"/><path d="M-14.0,0.0L-0.0,-11.5" stroke="#7e7e7e"/><path d="M0,0L-14.0,0.0" stroke="#d6d6d6"/><path d="M0,0L-0.0,-11.5" stroke="#cfcfcf"/><circle r="2.2" fill="#ffffff" stroke="none"/></g>
<g transform="translate(450.7,350.1)" stroke-linecap="round" stroke-width="1.5"><path d="M0,0L-14.0,0.0L-0.0,-11.5Z" fill="#3e3e3e" stroke="none"/><path d="M-14.0,0.0L-0.0,-11.5" stroke="#7e7e7e"/><path d="M0,0L-14.0,0.0" stroke="#d6d6d6"/><path d="M0,0L-0.0,-11.5" stroke="#cfcfcf"/><circle r="2.2" fill="#ffffff" stroke="none"/></g>
<g transform="translate(477.9,350.1)" stroke-linecap="round" stroke-width="1.5"><path d="M0,0L-14.0,0.0L-0.0,-11.5Z" fill="#3e3e3e" stroke="none"/><path d="M-14.0,0.0L-0.0,-11.5" stroke="#7e7e7e"/><path d="M0,0L-14.0,0.0" stroke="#d6d6d6"/><path d="M0,0L-0.0,-11.5" stroke="#cfcfcf"/><circle r="2.2" fill="#ffffff" stroke="none"/></g>
<g transform="translate(505.1,350.1)" stroke-linecap="round" stroke-width="1.5"><path d="M0,0L-14.0,0.0L-0.0,-11.5Z" fill="#3e3e3e" stroke="none"/><path d="M-14.0,0.0L-0.0,-11.5" stroke="#7e7e7e"/><path d="M0,0L-14.0,0.0" stroke="#d6d6d6"/><path d="M0,0L-0.0,-11.5" stroke="#cfcfcf"/><circle r="2.2" fill="#ffffff" stroke="none"/></g>
<g transform="translate(532.3,350.1)" stroke-linecap="round" stroke-width="1.5"><path d="M0,0L-0.0,-11.5L14.0,-0.0Z" fill="#3e3e3e" stroke="none"/><path d="M-0.0,-11.5L14.0,-0.0" stroke="#8e8e8e"/><path d="M0,0L-0.0,-11.5" stroke="#a8a8a8"/><path d="M0,0L14.0,-0.0" stroke="#d6d6d6"/><circle r="2.2" fill="#ffffff" stroke="none"/></g>
<g transform="translate(559.5,350.1)" stroke-linecap="round" stroke-width="1.5"><path d="M0,0L-0.0,-11.5L14.0,-0.0Z" fill="#3e3e3e" stroke="none"/><path d="M-0.0,-11.5L14.0,-0.0" stroke="#8e8e8e"/><path d="M0,0L-0.0,-11.5" stroke="#a8a8a8"/><path d="M0,0L14.0,-0.0" stroke="#d6d6d6"/><circle r="2.2" fill="#ffffff" stroke="none"/></g>
<g transform="translate(586.7,350.1)" stroke-linecap="round" stroke-width="1.5"><path d="M0,0L-0.0,-11.5L14.0,-0.0Z" fill="#3e3e3e" stroke="none"/><path d="M-0.0,-11.5L14.0,-0.0" stroke="#8e8e8e"/><path d="M0,0L-0.0,-11.5" stroke="#a8a8a8"/><path d="M0,0L14.0,-0.0" stroke="#d6d6d6"/><circle r="2.2" fill="#ffffff" stroke="none"/></g>
<g transform="translate(613.9,350.1)" stroke-linecap="round" stroke-width="1.5"><path d="M0,0L-0.0,-11.5L14.0,-0.0Z" fill="#3e3e3e" stroke="none"/><path d="M-0.0,-11.5L14.0,-0.0" stroke="#8e8e8e"/><path d="M0,0L-0.0,-11.5" stroke="#a8a8a8"/><path d="M0,0L14.0,-0.0" stroke="#d6d6d6"/><circle r="2.2" fill="#ffffff" stroke="none"/></g>
<g transform="translate(641.1,350.1)" stroke-linecap="round" stroke-width="1.5"><path d="M0,0L-0.0,-11.5L14.0,-0.0Z" fill="#3e3e3e" stroke="none"/><path d="M-0.0,-11.5L14.0,-0.0" stroke="#8e8e8e"/><path d="M0,0L-0.0,-11.5" stroke="#a8a8a8"/><path d="M0,0L14.0,-0.0" stroke="#d6d6d6"/><circle r="2.2" fill="#ffffff" stroke="none"/></g>
<g transform="translate(396.3,376.8)" stroke-linecap="round" stroke-width="1.5"><path d="M0,0L-14.0,0.0L-0.0,-11.5Z" fill="#3e3e3e" stroke="none"/><path d="M-14.0,0.0L-0.0,-11.5" stroke="#7e7e7e"/><path d="M0,0L-14.0,0.0" stroke="#d6d6d6"/><path d="M0,0L-0.0,-11.5" stroke="#cfcfcf"/><circle r="2.2" fill="#ffffff" stroke="none"/></g>
<g transform="translate(423.5,376.8)" stroke-linecap="round" stroke-width="1.5"><path d="M0,0L-14.0,0.0L-0.0,-11.5Z" fill="#3e3e3e" stroke="none"/><path d="M-14.0,0.0L-0.0,-11.5" stroke="#7e7e7e"/><path d="M0,0L-14.0,0.0" stroke="#d6d6d6"/><path d="M0,0L-0.0,-11.5" stroke="#cfcfcf"/><circle r="2.2" fill="#ffffff" stroke="none"/></g>
<g transform="translate(450.7,376.8)" stroke-linecap="round" stroke-width="1.5"><path d="M0,0L-14.0,0.0L-0.0,-11.5Z" fill="#3e3e3e" stroke="none"/><path d="M-14.0,0.0L-0.0,-11.5" stroke="#7e7e7e"/><path d="M0,0L-14.0,0.0" stroke="#d6d6d6"/><path d="M0,0L-0.0,-11.5" stroke="#cfcfcf"/><circle r="2.2" fill="#ffffff" stroke="none"/></g>
<g transform="translate(477.9,376.8)" stroke-linecap="round" stroke-width="1.5"><path d="M0,0L-14.0,0.0L-0.0,-11.5Z" fill="#3e3e3e" stroke="none"/><path d="M-14.0,0.0L-0.0,-11.5" stroke="#7e7e7e"/><path d="M0,0L-14.0,0.0" stroke="#d6d6d6"/><path d="M0,0L-0.0,-11.5" stroke="#cfcfcf"/><circle r="2.2" fill="#ffffff" stroke="none"/></g>
<g transform="translate(505.1,376.8)" stroke-linecap="round" stroke-width="1.5"><path d="M0,0L-14.0,0.0L-0.0,-11.5Z" fill="#3e3e3e" stroke="none"/><path d="M-14.0,0.0L-0.0,-11.5" stroke="#7e7e7e"/><path d="M0,0L-14.0,0.0" stroke="#d6d6d6"/><path d="M0,0L-0.0,-11.5" stroke="#cfcfcf"/><circle r="2.2" fill="#ffffff" stroke="none"/></g>
<g transform="translate(532.3,376.8)" stroke-linecap="round" stroke-width="1.5"><path d="M0,0L-0.0,-11.5L14.0,-0.0Z" fill="#3e3e3e" stroke="none"/><path d="M-0.0,-11.5L14.0,-0.0" stroke="#8e8e8e"/><path d="M0,0L-0.0,-11.5" stroke="#a8a8a8"/><path d="M0,0L14.0,-0.0" stroke="#d6d6d6"/><circle r="2.2" fill="#ffffff" stroke="none"/></g>
<g transform="translate(559.5,376.8)" stroke-linecap="round" stroke-width="1.5"><path d="M0,0L-0.0,-11.5L14.0,-0.0Z" fill="#3e3e3e" stroke="none"/><path d="M-0.0,-11.5L14.0,-0.0" stroke="#8e8e8e"/><path d="M0,0L-0.0,-11.5" stroke="#a8a8a8"/><path d="M0,0L14.0,-0.0" stroke="#d6d6d6"/><circle r="2.2" fill="#ffffff" stroke="none"/></g>
<g transform="translate(586.7,376.8)" stroke-linecap="round" stroke-width="1.5"><path d="M0,0L-0.0,-11.5L14.0,-0.0Z" fill="#3e3e3e" stroke="none"/><path d="M-0.0,-11.5L14.0,-0.0" stroke="#8e8e8e"/><path d="M0,0L-0.0,-11.5" stroke="#a8a8a8"/><path d="M0,0L14.0,-0.0" stroke="#d6d6d6"/><circle r="2.2" fill="#ffffff" stroke="none"/></g>
<g transform="translate(613.9,376.8)" stroke-linecap="round" stroke-width="1.5"><path d="M0,0L-0.0,-11.5L14.0,-0.0Z" fill="#3e3e3e" stroke="none"/><path d="M-0.0,-11.5L14.0,-0.0" stroke="#8e8e8e"/><path d="M0,0L-0.0,-11.5" stroke="#a8a8a8"/><path d="M0,0L14.0,-0.0" stroke="#d6d6d6"/><circle r="2.2" fill="#ffffff" stroke="none"/></g>
<g transform="translate(641.1,376.8)" stroke-linecap="round" stroke-width="1.5"><path d="M0,0L-0.0,-11.5L14.0,-0.0Z" fill="#3e3e3e" stroke="none"/><path d="M-0.0,-11.5L14.0,-0.0" stroke="#8e8e8e"/><path d="M0,0L-0.0,-11.5" stroke="#a8a8a8"/><path d="M0,0L14.0,-0.0" stroke="#d6d6d6"/><circle r="2.2" fill="#ffffff" stroke="none"/></g>
<g transform="translate(396.3,403.5)" stroke-linecap="round" stroke-width="1.5"><path d="M0,0L-14.0,0.0L-0.0,-11.5Z" fill="#3e3e3e" stroke="none"/><path d="M-14.0,0.0L-0.0,-11.5" stroke="#7e7e7e"/><path d="M0,0L-14.0,0.0" stroke="#d6d6d6"/><path d="M0,0L-0.0,-11.5" stroke="#cfcfcf"/><circle r="2.2" fill="#ffffff" stroke="none"/></g>
<g transform="translate(423.5,403.5)" stroke-linecap="round" stroke-width="1.5"><path d="M0,0L-14.0,0.0L-0.0,-11.5Z" fill="#3e3e3e" stroke="none"/><path d="M-14.0,0.0L-0.0,-11.5" stroke="#7e7e7e"/><path d="M0,0L-14.0,0.0" stroke="#d6d6d6"/><path d="M0,0L-0.0,-11.5" stroke="#cfcfcf"/><circle r="2.2" fill="#ffffff" stroke="none"/></g>
<g transform="translate(450.7,403.5)" stroke-linecap="round" stroke-width="1.5"><path d="M0,0L-14.0,0.0L-0.0,-11.5Z" fill="#3e3e3e" stroke="none"/><path d="M-14.0,0.0L-0.0,-11.5" stroke="#7e7e7e"/><path d="M0,0L-14.0,0.0" stroke="#d6d6d6"/><path d="M0,0L-0.0,-11.5" stroke="#cfcfcf"/><circle r="2.2" fill="#ffffff" stroke="none"/></g>
<g transform="translate(477.9,403.5)" stroke-linecap="round" stroke-width="1.5"><path d="M0,0L-14.0,0.0L-0.0,-11.5Z" fill="#3e3e3e" stroke="none"/><path d="M-14.0,0.0L-0.0,-11.5" stroke="#7e7e7e"/><path d="M0,0L-14.0,0.0" stroke="#d6d6d6"/><path d="M0,0L-0.0,-11.5" stroke="#cfcfcf"/><circle r="2.2" fill="#ffffff" stroke="none"/></g>
<g transform="translate(505.1,403.5)" stroke-linecap="round" stroke-width="1.5"><path d="M0,0L-14.0,0.0L-0.0,-11.5Z" fill="#3e3e3e" stroke="none"/><path d="M-14.0,0.0L-0.0,-11.5" stroke="#7e7e7e"/><path d="M0,0L-14.0,0.0" stroke="#d6d6d6"/><path d="M0,0L-0.0,-11.5" stroke="#cfcfcf"/><circle r="2.2" fill="#ffffff" stroke="none"/></g>
<g transform="translate(532.3,403.5)" stroke-linecap="round" stroke-width="1.5"><path d="M0,0L-0.0,-11.5L14.0,-0.0Z" fill="#3e3e3e" stroke="none"/><path d="M-0.0,-11.5L14.0,-0.0" stroke="#8e8e8e"/><path d="M0,0L-0.0,-11.5" stroke="#a8a8a8"/><path d="M0,0L14.0,-0.0" stroke="#d6d6d6"/><circle r="2.2" fill="#ffffff" stroke="none"/></g>
<g transform="translate(559.5,403.5)" stroke-linecap="round" stroke-width="1.5"><path d="M0,0L-0.0,-11.5L14.0,-0.0Z" fill="#3e3e3e" stroke="none"/><path d="M-0.0,-11.5L14.0,-0.0" stroke="#8e8e8e"/><path d="M0,0L-0.0,-11.5" stroke="#a8a8a8"/><path d="M0,0L14.0,-0.0" stroke="#d6d6d6"/><circle r="2.2" fill="#ffffff" stroke="none"/></g>
<g transform="translate(586.7,403.5)" stroke-linecap="round" stroke-width="1.5"><path d="M0,0L-0.0,-11.5L14.0,-0.0Z" fill="#3e3e3e" stroke="none"/><path d="M-0.0,-11.5L14.0,-0.0" stroke="#8e8e8e"/><path d="M0,0L-0.0,-11.5" stroke="#a8a8a8"/><path d="M0,0L14.0,-0.0" stroke="#d6d6d6"/><circle r="2.2" fill="#ffffff" stroke="none"/></g>
<g transform="translate(613.9,403.5)" stroke-linecap="round" stroke-width="1.5"><path d="M0,0L-0.0,-11.5L14.0,-0.0Z" fill="#3e3e3e" stroke="none"/><path d="M-0.0,-11.5L14.0,-0.0" stroke="#8e8e8e"/><path d="M0,0L-0.0,-11.5" stroke="#a8a8a8"/><path d="M0,0L14.0,-0.0" stroke="#d6d6d6"/><circle r="2.2" fill="#ffffff" stroke="none"/></g>
<g transform="translate(641.1,403.5)" stroke-linecap="round" stroke-width="1.5"><path d="M0,0L-0.0,-11.5L14.0,-0.0Z" fill="#3e3e3e" stroke="none"/><path d="M-0.0,-11.5L14.0,-0.0" stroke="#8e8e8e"/><path d="M0,0L-0.0,-11.5" stroke="#a8a8a8"/><path d="M0,0L14.0,-0.0" stroke="#d6d6d6"/><circle r="2.2" fill="#ffffff" stroke="none"/></g>
<g transform="translate(396.3,430.2)" stroke-linecap="round" stroke-width="1.5"><path d="M0,0L-14.0,0.0L-0.0,-11.5Z" fill="#3e3e3e" stroke="none"/><path d="M-14.0,0.0L-0.0,-11.5" stroke="#7e7e7e"/><path d="M0,0L-14.0,0.0" stroke="#d6d6d6"/><path d="M0,0L-0.0,-11.5" stroke="#cfcfcf"/><circle r="2.2" fill="#ffffff" stroke="none"/></g>
<g transform="translate(423.5,430.2)" stroke-linecap="round" stroke-width="1.5"><path d="M0,0L-14.0,0.0L-0.0,-11.5Z" fill="#3e3e3e" stroke="none"/><path d="M-14.0,0.0L-0.0,-11.5" stroke="#7e7e7e"/><path d="M0,0L-14.0,0.0" stroke="#d6d6d6"/><path d="M0,0L-0.0,-11.5" stroke="#cfcfcf"/><circle r="2.2" fill="#ffffff" stroke="none"/></g>
<g transform="translate(450.7,430.2)" stroke-linecap="round" stroke-width="1.5"><path d="M0,0L-14.0,0.0L-0.0,-11.5Z" fill="#3e3e3e" stroke="none"/><path d="M-14.0,0.0L-0.0,-11.5" stroke="#7e7e7e"/><path d="M0,0L-14.0,0.0" stroke="#d6d6d6"/><path d="M0,0L-0.0,-11.5" stroke="#cfcfcf"/><circle r="2.2" fill="#ffffff" stroke="none"/></g>
<g transform="translate(477.9,430.2)" stroke-linecap="round" stroke-width="1.5"><path d="M0,0L-14.0,0.0L-0.0,-11.5Z" fill="#3e3e3e" stroke="none"/><path d="M-14.0,0.0L-0.0,-11.5" stroke="#7e7e7e"/><path d="M0,0L-14.0,0.0" stroke="#d6d6d6"/><path d="M0,0L-0.0,-11.5" stroke="#cfcfcf"/><circle r="2.2" fill="#ffffff" stroke="none"/></g>
<g transform="translate(505.1,430.2)" stroke-linecap="round" stroke-width="1.5"><path d="M0,0L-14.0,0.0L-0.0,-11.5Z" fill="#3e3e3e" stroke="none"/><path d="M-14.0,0.0L-0.0,-11.5" stroke="#7e7e7e"/><path d="M0,0L-14.0,0.0" stroke="#d6d6d6"/><path d="M0,0L-0.0,-11.5" stroke="#cfcfcf"/><circle r="2.2" fill="#ffffff" stroke="none"/></g>
<g transform="translate(532.3,430.2)" stroke-linecap="round" stroke-width="1.5"><path d="M0,0L-0.0,-11.5L14.0,-0.0Z" fill="#3e3e3e" stroke="none"/><path d="M-0.0,-11.5L14.0,-0.0" stroke="#8e8e8e"/><path d="M0,0L-0.0,-11.5" stroke="#a8a8a8"/><path d="M0,0L14.0,-0.0" stroke="#d6d6d6"/><circle r="2.2" fill="#ffffff" stroke="none"/></g>
<g transform="translate(559.5,430.2)" stroke-linecap="round" stroke-width="1.5"><path d="M0,0L-0.0,-11.5L14.0,-0.0Z" fill="#3e3e3e" stroke="none"/><path d="M-0.0,-11.5L14.0,-0.0" stroke="#8e8e8e"/><path d="M0,0L-0.0,-11.5" stroke="#a8a8a8"/><path d="M0,0L14.0,-0.0" stroke="#d6d6d6"/><circle r="2.2" fill="#ffffff" stroke="none"/></g>
<g transform="translate(586.7,430.2)" stroke-linecap="round" stroke-width="1.5"><path d="M0,0L-0.0,-11.5L14.0,-0.0Z" fill="#3e3e3e" stroke="none"/><path d="M-0.0,-11.5L14.0,-0.0" stroke="#8e8e8e"/><path d="M0,0L-0.0,-11.5" stroke="#a8a8a8"/><path d="M0,0L14.0,-0.0" stroke="#d6d6d6"/><circle r="2.2" fill="#ffffff" stroke="none"/></g>
<g transform="translate(613.9,430.2)" stroke-linecap="round" stroke-width="1.5"><path d="M0,0L-0.0,-11.5L14.0,-0.0Z" fill="#3e3e3e" stroke="none"/><path d="M-0.0,-11.5L14.0,-0.0" stroke="#8e8e8e"/><path d="M0,0L-0.0,-11.5" stroke="#a8a8a8"/><path d="M0,0L14.0,-0.0" stroke="#d6d6d6"/><circle r="2.2" fill="#ffffff" stroke="none"/></g>
<g transform="translate(641.1,430.2)" stroke-linecap="round" stroke-width="1.5"><path d="M0,0L-0.0,-11.5L14.0,-0.0Z" fill="#3e3e3e" stroke="none"/><path d="M-0.0,-11.5L14.0,-0.0" stroke="#8e8e8e"/><path d="M0,0L-0.0,-11.5" stroke="#a8a8a8"/><path d="M0,0L14.0,-0.0" stroke="#d6d6d6"/><circle r="2.2" fill="#ffffff" stroke="none"/></g>
<g transform="translate(396.3,457.7)" stroke-linecap="round" stroke-width="1.5"><path d="M0,0L0.0,11.5L-14.0,0.0Z" fill="#3e3e3e" stroke="none"/><path d="M0.0,11.5L-14.0,0.0" stroke="#a4a4a4"/><path d="M0,0L0.0,11.5" stroke="#d0d0d0"/><path d="M0,0L-14.0,0.0" stroke="#7c7c7c"/><circle r="2.2" fill="#ffffff" stroke="none"/></g>
<g transform="translate(423.5,457.7)" stroke-linecap="round" stroke-width="1.5"><path d="M0,0L0.0,11.5L-14.0,0.0Z" fill="#3e3e3e" stroke="none"/><path d="M0.0,11.5L-14.0,0.0" stroke="#a4a4a4"/><path d="M0,0L0.0,11.5" stroke="#d0d0d0"/><path d="M0,0L-14.0,0.0" stroke="#7c7c7c"/><circle r="2.2" fill="#ffffff" stroke="none"/></g>
<g transform="translate(450.7,457.7)" stroke-linecap="round" stroke-width="1.5"><path d="M0,0L0.0,11.5L-14.0,0.0Z" fill="#3e3e3e" stroke="none"/><path d="M0.0,11.5L-14.0,0.0" stroke="#a4a4a4"/><path d="M0,0L0.0,11.5" stroke="#d0d0d0"/><path d="M0,0L-14.0,0.0" stroke="#7c7c7c"/><circle r="2.2" fill="#ffffff" stroke="none"/></g>
<g transform="translate(477.9,457.7)" stroke-linecap="round" stroke-width="1.5"><path d="M0,0L0.0,11.5L-14.0,0.0Z" fill="#3e3e3e" stroke="none"/><path d="M0.0,11.5L-14.0,0.0" stroke="#a4a4a4"/><path d="M0,0L0.0,11.5" stroke="#d0d0d0"/><path d="M0,0L-14.0,0.0" stroke="#7c7c7c"/><circle r="2.2" fill="#ffffff" stroke="none"/></g>
<g transform="translate(505.1,457.7)" stroke-linecap="round" stroke-width="1.5"><path d="M0,0L0.0,11.5L-14.0,0.0Z" fill="#3e3e3e" stroke="none"/><path d="M0.0,11.5L-14.0,0.0" stroke="#a4a4a4"/><path d="M0,0L0.0,11.5" stroke="#d0d0d0"/><path d="M0,0L-14.0,0.0" stroke="#7c7c7c"/><circle r="2.2" fill="#ffffff" stroke="none"/></g>
<g transform="translate(532.3,457.7)" stroke-linecap="round" stroke-width="1.5"><path d="M0,0L14.0,0.0L0.0,11.5Z" fill="#3e3e3e" stroke="none"/><path d="M14.0,0.0L0.0,11.5" stroke="#d0d0d0"/><path d="M0,0L14.0,0.0" stroke="#7c7c7c"/><path d="M0,0L0.0,11.5" stroke="#8a8a8a"/><circle r="2.2" fill="#ffffff" stroke="none"/></g>
<g transform="translate(559.5,457.7)" stroke-linecap="round" stroke-width="1.5"><path d="M0,0L14.0,0.0L0.0,11.5Z" fill="#3e3e3e" stroke="none"/><path d="M14.0,0.0L0.0,11.5" stroke="#d0d0d0"/><path d="M0,0L14.0,0.0" stroke="#7c7c7c"/><path d="M0,0L0.0,11.5" stroke="#8a8a8a"/><circle r="2.2" fill="#ffffff" stroke="none"/></g>
<g transform="translate(586.7,457.7)" stroke-linecap="round" stroke-width="1.5"><path d="M0,0L14.0,0.0L0.0,11.5Z" fill="#3e3e3e" stroke="none"/><path d="M14.0,0.0L0.0,11.5" stroke="#d0d0d0"/><path d="M0,0L14.0,0.0" stroke="#7c7c7c"/><path d="M0,0L0.0,11.5" stroke="#8a8a8a"/><circle r="2.2" fill="#ffffff" stroke="none"/></g>
<g transform="translate(613.9,457.7)" stroke-linecap="round" stroke-width="1.5"><path d="M0,0L14.0,0.0L0.0,11.5Z" fill="#3e3e3e" stroke="none"/><path d="M14.0,0.0L0.0,11.5" stroke="#d0d0d0"/><path d="M0,0L14.0,0.0" stroke="#7c7c7c"/><path d="M0,0L0.0,11.5" stroke="#8a8a8a"/><circle r="2.2" fill="#ffffff" stroke="none"/></g>
<g transform="translate(641.1,457.7)" stroke-linecap="round" stroke-width="1.5"><path d="M0,0L14.0,0.0L0.0,11.5Z" fill="#3e3e3e" stroke="none"/><path d="M14.0,0.0L0.0,11.5" stroke="#d0d0d0"/><path d="M0,0L14.0,0.0" stroke="#7c7c7c"/><path d="M0,0L0.0,11.5" stroke="#8a8a8a"/><circle r="2.2" fill="#ffffff" stroke="none"/></g>
<g transform="translate(396.3,484.4)" stroke-linecap="round" stroke-width="1.5"><path d="M0,0L0.0,11.5L-14.0,0.0Z" fill="#3e3e3e" stroke="none"/><path d="M0.0,11.5L-14.0,0.0" stroke="#a4a4a4"/><path d="M0,0L0.0,11.5" stroke="#d0d0d0"/><path d="M0,0L-14.0,0.0" stroke="#7c7c7c"/><circle r="2.2" fill="#ffffff" stroke="none"/></g>
<g transform="translate(423.5,484.4)" stroke-linecap="round" stroke-width="1.5"><path d="M0,0L0.0,11.5L-14.0,0.0Z" fill="#3e3e3e" stroke="none"/><path d="M0.0,11.5L-14.0,0.0" stroke="#a4a4a4"/><path d="M0,0L0.0,11.5" stroke="#d0d0d0"/><path d="M0,0L-14.0,0.0" stroke="#7c7c7c"/><circle r="2.2" fill="#ffffff" stroke="none"/></g>
<g transform="translate(450.7,484.4)" stroke-linecap="round" stroke-width="1.5"><path d="M0,0L0.0,11.5L-14.0,0.0Z" fill="#3e3e3e" stroke="none"/><path d="M0.0,11.5L-14.0,0.0" stroke="#a4a4a4"/><path d="M0,0L0.0,11.5" stroke="#d0d0d0"/><path d="M0,0L-14.0,0.0" stroke="#7c7c7c"/><circle r="2.2" fill="#ffffff" stroke="none"/></g>
<g transform="translate(477.9,484.4)" stroke-linecap="round" stroke-width="1.5"><path d="M0,0L0.0,11.5L-14.0,0.0Z" fill="#3e3e3e" stroke="none"/><path d="M0.0,11.5L-14.0,0.0" stroke="#a4a4a4"/><path d="M0,0L0.0,11.5" stroke="#d0d0d0"/><path d="M0,0L-14.0,0.0" stroke="#7c7c7c"/><circle r="2.2" fill="#ffffff" stroke="none"/></g>
<g transform="translate(505.1,484.4)" stroke-linecap="round" stroke-width="1.5"><path d="M0,0L0.0,11.5L-14.0,0.0Z" fill="#3e3e3e" stroke="none"/><path d="M0.0,11.5L-14.0,0.0" stroke="#a4a4a4"/><path d="M0,0L0.0,11.5" stroke="#d0d0d0"/><path d="M0,0L-14.0,0.0" stroke="#7c7c7c"/><circle r="2.2" fill="#ffffff" stroke="none"/></g>
<g transform="translate(532.3,484.4)" stroke-linecap="round" stroke-width="1.5"><path d="M0,0L14.0,0.0L0.0,11.5Z" fill="#3e3e3e" stroke="none"/><path d="M14.0,0.0L0.0,11.5" stroke="#d0d0d0"/><path d="M0,0L14.0,0.0" stroke="#7c7c7c"/><path d="M0,0L0.0,11.5" stroke="#8a8a8a"/><circle r="2.2" fill="#ffffff" stroke="none"/></g>
<g transform="translate(559.5,484.4)" stroke-linecap="round" stroke-width="1.5"><path d="M0,0L14.0,0.0L0.0,11.5Z" fill="#3e3e3e" stroke="none"/><path d="M14.0,0.0L0.0,11.5" stroke="#d0d0d0"/><path d="M0,0L14.0,0.0" stroke="#7c7c7c"/><path d="M0,0L0.0,11.5" stroke="#8a8a8a"/><circle r="2.2" fill="#ffffff" stroke="none"/></g>
<g transform="translate(586.7,484.4)" stroke-linecap="round" stroke-width="1.5"><path d="M0,0L14.0,0.0L0.0,11.5Z" fill="#3e3e3e" stroke="none"/><path d="M14.0,0.0L0.0,11.5" stroke="#d0d0d0"/><path d="M0,0L14.0,0.0" stroke="#7c7c7c"/><path d="M0,0L0.0,11.5" stroke="#8a8a8a"/><circle r="2.2" fill="#ffffff" stroke="none"/></g>
<g transform="translate(613.9,484.4)" stroke-linecap="round" stroke-width="1.5"><path d="M0,0L14.0,0.0L0.0,11.5Z" fill="#3e3e3e" stroke="none"/><path d="M14.0,0.0L0.0,11.5" stroke="#d0d0d0"/><path d="M0,0L14.0,0.0" stroke="#7c7c7c"/><path d="M0,0L0.0,11.5" stroke="#8a8a8a"/><circle r="2.2" fill="#ffffff" stroke="none"/></g>
<g transform="translate(641.1,484.4)" stroke-linecap="round" stroke-width="1.5"><path d="M0,0L14.0,0.0L0.0,11.5Z" fill="#3e3e3e" stroke="none"/><path d="M14.0,0.0L0.0,11.5" stroke="#d0d0d0"/><path d="M0,0L14.0,0.0" stroke="#7c7c7c"/><path d="M0,0L0.0,11.5" stroke="#8a8a8a"/><circle r="2.2" fill="#ffffff" stroke="none"/></g>
<g transform="translate(396.3,511.1)" stroke-linecap="round" stroke-width="1.5"><path d="M0,0L0.0,11.5L-14.0,0.0Z" fill="#3e3e3e" stroke="none"/><path d="M0.0,11.5L-14.0,0.0" stroke="#a4a4a4"/><path d="M0,0L0.0,11.5" stroke="#d0d0d0"/><path d="M0,0L-14.0,0.0" stroke="#7c7c7c"/><circle r="2.2" fill="#ffffff" stroke="none"/></g>
<g transform="translate(423.5,511.1)" stroke-linecap="round" stroke-width="1.5"><path d="M0,0L0.0,11.5L-14.0,0.0Z" fill="#3e3e3e" stroke="none"/><path d="M0.0,11.5L-14.0,0.0" stroke="#a4a4a4"/><path d="M0,0L0.0,11.5" stroke="#d0d0d0"/><path d="M0,0L-14.0,0.0" stroke="#7c7c7c"/><circle r="2.2" fill="#ffffff" stroke="none"/></g>
<g transform="translate(450.7,511.1)" stroke-linecap="round" stroke-width="1.5"><path d="M0,0L0.0,11.5L-14.0,0.0Z" fill="#3e3e3e" stroke="none"/><path d="M0.0,11.5L-14.0,0.0" stroke="#a4a4a4"/><path d="M0,0L0.0,11.5" stroke="#d0d0d0"/><path d="M0,0L-14.0,0.0" stroke="#7c7c7c"/><circle r="2.2" fill="#ffffff" stroke="none"/></g>
<g transform="translate(477.9,511.1)" stroke-linecap="round" stroke-width="1.5"><path d="M0,0L0.0,11.5L-14.0,0.0Z" fill="#3e3e3e" stroke="none"/><path d="M0.0,11.5L-14.0,0.0" stroke="#a4a4a4"/><path d="M0,0L0.0,11.5" stroke="#d0d0d0"/><path d="M0,0L-14.0,0.0" stroke="#7c7c7c"/><circle r="2.2" fill="#ffffff" stroke="none"/></g>
<g transform="translate(505.1,511.1)" stroke-linecap="round" stroke-width="1.5"><path d="M0,0L0.0,11.5L-14.0,0.0Z" fill="#3e3e3e" stroke="none"/><path d="M0.0,11.5L-14.0,0.0" stroke="#a4a4a4"/><path d="M0,0L0.0,11.5" stroke="#d0d0d0"/><path d="M0,0L-14.0,0.0" stroke="#7c7c7c"/><circle r="2.2" fill="#ffffff" stroke="none"/></g>
<g transform="translate(532.3,511.1)" stroke-linecap="round" stroke-width="1.5"><path d="M0,0L14.0,0.0L0.0,11.5Z" fill="#3e3e3e" stroke="none"/><path d="M14.0,0.0L0.0,11.5" stroke="#d0d0d0"/><path d="M0,0L14.0,0.0" stroke="#7c7c7c"/><path d="M0,0L0.0,11.5" stroke="#8a8a8a"/><circle r="2.2" fill="#ffffff" stroke="none"/></g>
<g transform="translate(559.5,511.1)" stroke-linecap="round" stroke-width="1.5"><path d="M0,0L14.0,0.0L0.0,11.5Z" fill="#3e3e3e" stroke="none"/><path d="M14.0,0.0L0.0,11.5" stroke="#d0d0d0"/><path d="M0,0L14.0,0.0" stroke="#7c7c7c"/><path d="M0,0L0.0,11.5" stroke="#8a8a8a"/><circle r="2.2" fill="#ffffff" stroke="none"/></g>
<g transform="translate(586.7,511.1)" stroke-linecap="round" stroke-width="1.5"><path d="M0,0L14.0,0.0L0.0,11.5Z" fill="#3e3e3e" stroke="none"/><path d="M14.0,0.0L0.0,11.5" stroke="#d0d0d0"/><path d="M0,0L14.0,0.0" stroke="#7c7c7c"/><path d="M0,0L0.0,11.5" stroke="#8a8a8a"/><circle r="2.2" fill="#ffffff" stroke="none"/></g>
<g transform="translate(613.9,511.1)" stroke-linecap="round" stroke-width="1.5"><path d="M0,0L14.0,0.0L0.0,11.5Z" fill="#3e3e3e" stroke="none"/><path d="M14.0,0.0L0.0,11.5" stroke="#d0d0d0"/><path d="M0,0L14.0,0.0" stroke="#7c7c7c"/><path d="M0,0L0.0,11.5" stroke="#8a8a8a"/><circle r="2.2" fill="#ffffff" stroke="none"/></g>
<g transform="translate(641.1,511.1)" stroke-linecap="round" stroke-width="1.5"><path d="M0,0L14.0,0.0L0.0,11.5Z" fill="#3e3e3e" stroke="none"/><path d="M14.0,0.0L0.0,11.5" stroke="#d0d0d0"/><path d="M0,0L14.0,0.0" stroke="#7c7c7c"/><path d="M0,0L0.0,11.5" stroke="#8a8a8a"/><circle r="2.2" fill="#ffffff" stroke="none"/></g>
<g transform="translate(396.3,537.8)" stroke-linecap="round" stroke-width="1.5"><path d="M0,0L0.0,11.5L-14.0,0.0Z" fill="#3e3e3e" stroke="none"/><path d="M0.0,11.5L-14.0,0.0" stroke="#a4a4a4"/><path d="M0,0L0.0,11.5" stroke="#d0d0d0"/><path d="M0,0L-14.0,0.0" stroke="#7c7c7c"/><circle r="2.2" fill="#ffffff" stroke="none"/></g>
<g transform="translate(423.5,537.8)" stroke-linecap="round" stroke-width="1.5"><path d="M0,0L0.0,11.5L-14.0,0.0Z" fill="#3e3e3e" stroke="none"/><path d="M0.0,11.5L-14.0,0.0" stroke="#a4a4a4"/><path d="M0,0L0.0,11.5" stroke="#d0d0d0"/><path d="M0,0L-14.0,0.0" stroke="#7c7c7c"/><circle r="2.2" fill="#ffffff" stroke="none"/></g>
<g transform="translate(450.7,537.8)" stroke-linecap="round" stroke-width="1.5"><path d="M0,0L0.0,11.5L-14.0,0.0Z" fill="#3e3e3e" stroke="none"/><path d="M0.0,11.5L-14.0,0.0" stroke="#a4a4a4"/><path d="M0,0L0.0,11.5" stroke="#d0d0d0"/><path d="M0,0L-14.0,0.0" stroke="#7c7c7c"/><circle r="2.2" fill="#ffffff" stroke="none"/></g>
<g transform="translate(477.9,537.8)" stroke-linecap="round" stroke-width="1.5"><path d="M0,0L0.0,11.5L-14.0,0.0Z" fill="#3e3e3e" stroke="none"/><path d="M0.0,11.5L-14.0,0.0" stroke="#a4a4a4"/><path d="M0,0L0.0,11.5" stroke="#d0d0d0"/><path d="M0,0L-14.0,0.0" stroke="#7c7c7c"/><circle r="2.2" fill="#ffffff" stroke="none"/></g>
<g transform="translate(505.1,537.8)" stroke-linecap="round" stroke-width="1.5"><path d="M0,0L0.0,11.5L-14.0,0.0Z" fill="#3e3e3e" stroke="none"/><path d="M0.0,11.5L-14.0,0.0" stroke="#a4a4a4"/><path d="M0,0L0.0,11.5" stroke="#d0d0d0"/><path d="M0,0L-14.0,0.0" stroke="#7c7c7c"/><circle r="2.2" fill="#ffffff" stroke="none"/></g>
<g transform="translate(532.3,537.8)" stroke-linecap="round" stroke-width="1.5"><path d="M0,0L14.0,0.0L0.0,11.5Z" fill="#3e3e3e" stroke="none"/><path d="M14.0,0.0L0.0,11.5" stroke="#d0d0d0"/><path d="M0,0L14.0,0.0" stroke="#7c7c7c"/><path d="M0,0L0.0,11.5" stroke="#8a8a8a"/><circle r="2.2" fill="#ffffff" stroke="none"/></g>
<g transform="translate(559.5,537.8)" stroke-linecap="round" stroke-width="1.5"><path d="M0,0L14.0,0.0L0.0,11.5Z" fill="#3e3e3e" stroke="none"/><path d="M14.0,0.0L0.0,11.5" stroke="#d0d0d0"/><path d="M0,0L14.0,0.0" stroke="#7c7c7c"/><path d="M0,0L0.0,11.5" stroke="#8a8a8a"/><circle r="2.2" fill="#ffffff" stroke="none"/></g>
<g transform="translate(586.7,537.8)" stroke-linecap="round" stroke-width="1.5"><path d="M0,0L14.0,0.0L0.0,11.5Z" fill="#3e3e3e" stroke="none"/><path d="M14.0,0.0L0.0,11.5" stroke="#d0d0d0"/><path d="M0,0L14.0,0.0" stroke="#7c7c7c"/><path d="M0,0L0.0,11.5" stroke="#8a8a8a"/><circle r="2.2" fill="#ffffff" stroke="none"/></g>
<g transform="translate(613.9,537.8)" stroke-linecap="round" stroke-width="1.5"><path d="M0,0L14.0,0.0L0.0,11.5Z" fill="#3e3e3e" stroke="none"/><path d="M14.0,0.0L0.0,11.5" stroke="#d0d0d0"/><path d="M0,0L14.0,0.0" stroke="#7c7c7c"/><path d="M0,0L0.0,11.5" stroke="#8a8a8a"/><circle r="2.2" fill="#ffffff" stroke="none"/></g>
<g transform="translate(641.1,537.8)" stroke-linecap="round" stroke-width="1.5"><path d="M0,0L14.0,0.0L0.0,11.5Z" fill="#3e3e3e" stroke="none"/><path d="M14.0,0.0L0.0,11.5" stroke="#d0d0d0"/><path d="M0,0L14.0,0.0" stroke="#7c7c7c"/><path d="M0,0L0.0,11.5" stroke="#8a8a8a"/><circle r="2.2" fill="#ffffff" stroke="none"/></g>
<g transform="translate(396.3,564.5)" stroke-linecap="round" stroke-width="1.5"><path d="M0,0L0.0,11.5L-14.0,0.0Z" fill="#3e3e3e" stroke="none"/><path d="M0.0,11.5L-14.0,0.0" stroke="#a4a4a4"/><path d="M0,0L0.0,11.5" stroke="#d0d0d0"/><path d="M0,0L-14.0,0.0" stroke="#7c7c7c"/><circle r="2.2" fill="#ffffff" stroke="none"/></g>
<g transform="translate(423.5,564.5)" stroke-linecap="round" stroke-width="1.5"><path d="M0,0L0.0,11.5L-14.0,0.0Z" fill="#3e3e3e" stroke="none"/><path d="M0.0,11.5L-14.0,0.0" stroke="#a4a4a4"/><path d="M0,0L0.0,11.5" stroke="#d0d0d0"/><path d="M0,0L-14.0,0.0" stroke="#7c7c7c"/><circle r="2.2" fill="#ffffff" stroke="none"/></g>
<g transform="translate(450.7,564.5)" stroke-linecap="round" stroke-width="1.5"><path d="M0,0L0.0,11.5L-14.0,0.0Z" fill="#3e3e3e" stroke="none"/><path d="M0.0,11.5L-14.0,0.0" stroke="#a4a4a4"/><path d="M0,0L0.0,11.5" stroke="#d0d0d0"/><path d="M0,0L-14.0,0.0" stroke="#7c7c7c"/><circle r="2.2" fill="#ffffff" stroke="none"/></g>
<g transform="translate(477.9,564.5)" stroke-linecap="round" stroke-width="1.5"><path d="M0,0L0.0,11.5L-14.0,0.0Z" fill="#3e3e3e" stroke="none"/><path d="M0.0,11.5L-14.0,0.0" stroke="#a4a4a4"/><path d="M0,0L0.0,11.5" stroke="#d0d0d0"/><path d="M0,0L-14.0,0.0" stroke="#7c7c7c"/><circle r="2.2" fill="#ffffff" stroke="none"/></g>
<g transform="translate(505.1,564.5)" stroke-linecap="round" stroke-width="1.5"><path d="M0,0L0.0,11.5L-14.0,0.0Z" fill="#3e3e3e" stroke="none"/><path d="M0.0,11.5L-14.0,0.0" stroke="#a4a4a4"/><path d="M0,0L0.0,11.5" stroke="#d0d0d0"/><path d="M0,0L-14.0,0.0" stroke="#7c7c7c"/><circle r="2.2" fill="#ffffff" stroke="none"/></g>
<g transform="translate(532.3,564.5)" stroke-linecap="round" stroke-width="1.5"><path d="M0,0L14.0,0.0L0.0,11.5Z" fill="#3e3e3e" stroke="none"/><path d="M14.0,0.0L0.0,11.5" stroke="#d0d0d0"/><path d="M0,0L14.0,0.0" stroke="#7c7c7c"/><path d="M0,0L0.0,11.5" stroke="#8a8a8a"/><circle r="2.2" fill="#ffffff" stroke="none"/></g>
<g transform="translate(559.5,564.5)" stroke-linecap="round" stroke-width="1.5"><path d="M0,0L14.0,0.0L0.0,11.5Z" fill="#3e3e3e" stroke="none"/><path d="M14.0,0.0L0.0,11.5" stroke="#d0d0d0"/><path d="M0,0L14.0,0.0" stroke="#7c7c7c"/><path d="M0,0L0.0,11.5" stroke="#8a8a8a"/><circle r="2.2" fill="#ffffff" stroke="none"/></g>
<g transform="translate(586.7,564.5)" stroke-linecap="round" stroke-width="1.5"><path d="M0,0L14.0,0.0L0.0,11.5Z" fill="#3e3e3e" stroke="none"/><path d="M14.0,0.0L0.0,11.5" stroke="#d0d0d0"/><path d="M0,0L14.0,0.0" stroke="#7c7c7c"/><path d="M0,0L0.0,11.5" stroke="#8a8a8a"/><circle r="2.2" fill="#ffffff" stroke="none"/></g>
<g transform="translate(613.9,564.5)" stroke-linecap="round" stroke-width="1.5"><path d="M0,0L14.0,0.0L0.0,11.5Z" fill="#3e3e3e" stroke="none"/><path d="M14.0,0.0L0.0,11.5" stroke="#d0d0d0"/><path d="M0,0L14.0,0.0" stroke="#7c7c7c"/><path d="M0,0L0.0,11.5" stroke="#8a8a8a"/><circle r="2.2" fill="#ffffff" stroke="none"/></g>
<g transform="translate(641.1,564.5)" stroke-linecap="round" stroke-width="1.5"><path d="M0,0L14.0,0.0L0.0,11.5Z" fill="#3e3e3e" stroke="none"/><path d="M14.0,0.0L0.0,11.5" stroke="#d0d0d0"/><path d="M0,0L14.0,0.0" stroke="#7c7c7c"/><path d="M0,0L0.0,11.5" stroke="#8a8a8a"/><circle r="2.2" fill="#ffffff" stroke="none"/></g>
</g>
</g></g>
<rect x="371" y="303" width="62.5" height="62" fill="#fff"/>
<rect x="599.5" y="568.8" width="72.5" height="5.3" fill="#fff"/>
<text x="375.5" y="393" font-family='"Liberation Sans", Arial, sans-serif' font-weight="700" font-size="24" fill="#ffc000">TYPE-E</text>
</g>
<g id="panel-F">
<clipPath id="clipF"><rect x="712" y="303" width="300.0" height="283.0"/></clipPath>
<g clip-path="url(#clipF)"><g filter="url(#grainF)">
<rect x="710" y="301" width="304.0" height="287.0" fill="#303030"/>
<g filter="url(#glow)" opacity="0.4" fill="#444444">
<circle cx="736.0" cy="323.0" r="10"/>
<circle cx="762.8" cy="323.0" r="10"/>
<circle cx="795.6" cy="317.0" r="10"/>
<circle cx="822.4" cy="317.0" r="10"/>
<circle cx="855.2" cy="323.0" r="10"/>
<circle cx="870.0" cy="323.0" r="10"/>
<circle cx="902.8" cy="317.0" r="10"/>
<circle cx="929.6" cy="317.0" r="10"/>
<circle cx="956.4" cy="317.0" r="10"/>
<circle cx="983.2" cy="317.0" r="10"/>
<circle cx="736.0" cy="349.8" r="10"/>
<circle cx="762.8" cy="349.8" r="10"/>
<circle cx="795.6" cy="343.8" r="10"/>
<circle cx="828.4" cy="349.8" r="10"/>
<circle cx="855.2" cy="349.8" r="10"/>
<circle cx="870.0" cy="349.8" r="10"/>
<circle cx="896.8" cy="349.8" r="10"/>
<circle cx="929.6" cy="343.8" r="10"/>
<circle cx="956.4" cy="343.8" r="10"/>
<circle cx="989.2" cy="349.8" r="10"/>
<circle cx="736.0" cy="376.6" r="10"/>
<circle cx="762.8" cy="376.6" r="10"/>
<circle cx="795.6" cy="370.6" r="10"/>
<circle cx="828.4" cy="376.6" r="10"/>
<circle cx="855.2" cy="376.6" r="10"/>
<circle cx="870.0" cy="376.6" r="10"/>
<circle cx="896.8" cy="376.6" r="10"/>
<circle cx="929.6" cy="370.6" r="10"/>
<circle cx="962.4" cy="376.6" r="10"/>
<circle cx="989.2" cy="376.6" r="10"/>
<circle cx="736.0" cy="403.4" r="10"/>
<circle cx="762.8" cy="403.4" r="10"/>
<circle cx="795.6" cy="397.4" r="10"/>
<circle cx="828.4" cy="403.4" r="10"/>
<circle cx="855.2" cy="403.4" r="10"/>
<circle cx="870.0" cy="403.4" r="10"/>
<circle cx="896.8" cy="403.4" r="10"/>
<circle cx="929.6" cy="397.4" r="10"/>
<circle cx="962.4" cy="403.4" r="10"/>
<circle cx="989.2" cy="403.4" r="10"/>
<circle cx="736.0" cy="430.2" r="10"/>
<circle cx="762.8" cy="430.2" r="10"/>
<circle cx="795.6" cy="424.2" r="10"/>
<circle cx="828.4" cy="430.2" r="10"/>
<circle cx="855.2" cy="430.2" r="10"/>
<circle cx="870.0" cy="430.2" r="10"/>
<circle cx="896.8" cy="430.2" r="10"/>
<circle cx="929.6" cy="424.2" r="10"/>
<circle cx="962.4" cy="430.2" r="10"/>
<circle cx="989.2" cy="430.2" r="10"/>
<circle cx="736.0" cy="457.0" r="10"/>
<circle cx="762.8" cy="457.0" r="10"/>
<circle cx="795.6" cy="463.0" r="10"/>
<circle cx="828.4" cy="457.0" r="10"/>
<circle cx="855.2" cy="457.0" r="10"/>
<circle cx="870.0" cy="457.0" r="10"/>
<circle cx="896.8" cy="457.0" r="10"/>
<circle cx="929.6" cy="463.0" r="10"/>
<circle cx="962.4" cy="457.0" r="10"/>
<circle cx="989.2" cy="457.0" r="10"/>
<circle cx="736.0" cy="483.8" r="10"/>
<circle cx="762.8" cy="483.8" r="10"/>
<circle cx="795.6" cy="489.8" r="10"/>
<circle cx="828.4" cy="483.8" r="10"/>
<circle cx="855.2" cy="483.8" r="10"/>
<circle cx="870.0" cy="483.8" r="10"/>
<circle cx="896.8" cy="483.8" r="10"/>
<circle cx="929.6" cy="489.8" r="10"/>
<circle cx="962.4" cy="483.8" r="10"/>
<circle cx="989.2" cy="483.8" r="10"/>
<circle cx="736.0" cy="510.6" r="10"/>
<circle cx="762.8" cy="510.6" r="10"/>
<circle cx="795.6" cy="516.6" r="10"/>
<circle cx="828.4" cy="510.6" r="10"/>
<circle cx="855.2" cy="510.6" r="10"/>
<circle cx="870.0" cy="510.6" r="10"/>
<circle cx="896.8" cy="510.6" r="10"/>
<circle cx="929.6" cy="516.6" r="10"/>
<circle cx="962.4" cy="510.6" r="10"/>
<circle cx="989.2" cy="510.6" r="10"/>
<circle cx="736.0" cy="537.4" r="10"/>
<circle cx="762.8" cy="537.4" r="10"/>
<circle cx="795.6" cy="543.4" r="10"/>
<circle cx="822.4" cy="543.4" r="10"/>
<circle cx="855.2" cy="537.4" r="10"/>
<circle cx="870.0" cy="537.4" r="10"/>
<circle cx="902.8" cy="543.4" r="10"/>
<circle cx="929.6" cy="543.4" r="10"/>
<circle cx="962.4" cy="537.4" r="10"/>
<circle cx="989.2" cy="537.4" r="10"/>
<circle cx="736.0" cy="564.2" r="10"/>
<circle cx="768.8" cy="570.2" r="10"/>
<circle cx="795.6" cy="570.2" r="10"/>
<circle cx="822.4" cy="570.2" r="10"/>
<circle cx="849.2" cy="570.2" r="10"/>
<circle cx="876.0" cy="570.2" r="10"/>
<circle cx="902.8" cy="570.2" r="10"/>
<circle cx="929.6" cy="570.2" r="10"/>
<circle cx="956.4" cy="570.2" r="10"/>
<circle cx="989.2" cy="564.2" r="10"/>
</g>
<g filter="url(#soft)">
<g transform="translate(742.0,323.0) rotate(180)"><path d="M9.8,-8.1L9.8,8.1C9.8,9.8 9.0,10.2 7.2,9.8C3.9,8.8 1.4,5.1 1.4,0C1.4,-5.1 3.9,-8.8 7.2,-9.8C9.0,-10.2 9.8,-9.8 9.8,-8.1Z" fill="#2b2b2b" stroke="#686868" stroke-width="1.15"/></g><circle cx="742.0" cy="323.0" r="1.7" fill="#acacac"/>
<g transform="translate(768.8,323.0) rotate(180)"><path d="M10.6,-8.1L10.6,8.1C10.6,9.8 9.8,10.2 8.0,9.8C4.2,8.8 1.4,5.1 1.4,0C1.4,-5.1 4.2,-8.8 8.0,-9.8C9.8,-10.2 10.6,-9.8 10.6,-8.1Z" fill="#2b2b2b" stroke="#686868" stroke-width="1.15"/></g><circle cx="768.8" cy="323.0" r="1.7" fill="#acacac"/>
<g transform="translate(795.6,323.0) rotate(270)"><path d="M10.5,-7.9L10.5,7.9C10.5,9.7 9.7,10.1 7.9,9.6C4.1,8.7 1.4,5.0 1.4,0C1.4,-5.0 4.1,-8.7 7.9,-9.6C9.7,-10.1 10.5,-9.7 10.5,-7.9Z" fill="#2b2b2b" stroke="#686868" stroke-width="1.15"/></g><circle cx="795.6" cy="323.0" r="1.7" fill="#acacac"/>
<g transform="translate(822.4,323.0) rotate(270)"><path d="M10.5,-7.9L10.5,7.9C10.5,9.7 9.7,10.1 7.9,9.6C4.1,8.7 1.4,5.0 1.4,0C1.4,-5.0 4.1,-8.7 7.9,-9.6C9.7,-10.1 10.5,-9.7 10.5,-7.9Z" fill="#2b2b2b" stroke="#686868" stroke-width="1.15"/></g><circle cx="822.4" cy="323.0" r="1.7" fill="#acacac"/>
<g transform="translate(849.2,323.0) rotate(0)"><path d="M12.6,-8.4L12.6,8.4C12.6,10.2 11.8,10.6 10.0,10.1C4.8,9.1 1.4,5.3 1.4,0C1.4,-5.3 4.8,-9.1 10.0,-10.1C11.8,-10.6 12.6,-10.2 12.6,-8.4Z" fill="#2b2b2b" stroke="#686868" stroke-width="1.15"/></g><circle cx="849.2" cy="323.0" r="1.7" fill="#acacac"/>
<g transform="translate(876.0,323.0) rotate(180)"><path d="M12.6,-8.4L12.6,8.4C12.6,10.2 11.8,10.6 10.0,10.1C4.8,9.1 1.4,5.3 1.4,0C1.4,-5.3 4.8,-9.1 10.0,-10.1C11.8,-10.6 12.6,-10.2 12.6,-8.4Z" fill="#2b2b2b" stroke="#686868" stroke-width="1.15"/></g><circle cx="876.0" cy="323.0" r="1.7" fill="#acacac"/>
<g transform="translate(902.8,323.0) rotate(270)"><path d="M10.5,-7.9L10.5,7.9C10.5,9.7 9.7,10.1 7.9,9.6C4.1,8.7 1.4,5.0 1.4,0C1.4,-5.0 4.1,-8.7 7.9,-9.6C9.7,-10.1 10.5,-9.7 10.5,-7.9Z" fill="#2b2b2b" stroke="#686868" stroke-width="1.15"/></g><circle cx="902.8" cy="323.0" r="1.7" fill="#acacac"/>
<g transform="translate(929.6,323.0) rotate(270)"><path d="M10.5,-7.9L10.5,7.9C10.5,9.7 9.7,10.1 7.9,9.6C4.1,8.7 1.4,5.0 1.4,0C1.4,-5.0 4.1,-8.7 7.9,-9.6C9.7,-10.1 10.5,-9.7 10.5,-7.9Z" fill="#2b2b2b" stroke="#686868" stroke-width="1.15"/></g><circle cx="929.6" cy="323.0" r="1.7" fill="#acacac"/>
<g transform="translate(956.4,323.0) rotate(270)"><path d="M10.5,-7.9L10.5,7.9C10.5,9.7 9.7,10.1 7.9,9.6C4.1,8.7 1.4,5.0 1.4,0C1.4,-5.0 4.1,-8.7 7.9,-9.6C9.7,-10.1 10.5,-9.7 10.5,-7.9Z" fill="#2b2b2b" stroke="#686868" stroke-width="1.15"/></g><circle cx="956.4" cy="323.0" r="1.7" fill="#acacac"/>
<g transform="translate(983.2,323.0) rotate(270)"><path d="M10.5,-7.9L10.5,7.9C10.5,9.7 9.7,10.1 7.9,9.6C4.1,8.7 1.4,5.0 1.4,0C1.4,-5.0 4.1,-8.7 7.9,-9.6C9.7,-10.1 10.5,-9.7 10.5,-7.9Z" fill="#2b2b2b" stroke="#686868" stroke-width="1.15"/></g><circle cx="983.2" cy="323.0" r="1.7" fill="#acacac"/>
<g transform="translate(742.0,349.8) rotate(180)"><path d="M9.8,-8.1L9.8,8.1C9.8,9.8 9.0,10.2 7.2,9.8C3.9,8.8 1.4,5.1 1.4,0C1.4,-5.1 3.9,-8.8 7.2,-9.8C9.0,-10.2 9.8,-9.8 9.8,-8.1Z" fill="#2b2b2b" stroke="#686868" stroke-width="1.15"/></g><circle cx="742.0" cy="349.8" r="1.7" fill="#acacac"/>
<g transform="translate(768.8,349.8) rotate(180)"><path d="M10.6,-8.1L10.6,8.1C10.6,9.8 9.8,10.2 8.0,9.8C4.2,8.8 1.4,5.1 1.4,0C1.4,-5.1 4.2,-8.8 8.0,-9.8C9.8,-10.2 10.6,-9.8 10.6,-8.1Z" fill="#2b2b2b" stroke="#686868" stroke-width="1.15"/></g><circle cx="768.8" cy="349.8" r="1.7" fill="#acacac"/>
<g transform="translate(795.6,349.8) rotate(270)"><path d="M10.5,-7.9L10.5,7.9C10.5,9.7 9.7,10.1 7.9,9.6C4.1,8.7 1.4,5.0 1.4,0C1.4,-5.0 4.1,-8.7 7.9,-9.6C9.7,-10.1 10.5,-9.7 10.5,-7.9Z" fill="#2b2b2b" stroke="#686868" stroke-width="1.15"/></g><circle cx="795.6" cy="349.8" r="1.7" fill="#acacac"/>
<g transform="translate(822.4,349.8) rotate(0)"><path d="M11.2,-8.1L11.2,8.1C11.2,9.8 10.4,10.2 8.6,9.8C4.3,8.8 1.4,5.1 1.4,0C1.4,-5.1 4.3,-8.8 8.6,-9.8C10.4,-10.2 11.2,-9.8 11.2,-8.1Z" fill="#2b2b2b" stroke="#686868" stroke-width="1.15"/></g><circle cx="822.4" cy="349.8" r="1.7" fill="#acacac"/>
<g transform="translate(849.2,349.8) rotate(0)"><path d="M12.6,-8.4L12.6,8.4C12.6,10.2 11.8,10.6 10.0,10.1C4.8,9.1 1.4,5.3 1.4,0C1.4,-5.3 4.8,-9.1 10.0,-10.1C11.8,-10.6 12.6,-10.2 12.6,-8.4Z" fill="#2b2b2b" stroke="#686868" stroke-width="1.15"/></g><circle cx="849.2" cy="349.8" r="1.7" fill="#acacac"/>
<g transform="translate(876.0,349.8) rotate(180)"><path d="M12.6,-8.4L12.6,8.4C12.6,10.2 11.8,10.6 10.0,10.1C4.8,9.1 1.4,5.3 1.4,0C1.4,-5.3 4.8,-9.1 10.0,-10.1C11.8,-10.6 12.6,-10.2 12.6,-8.4Z" fill="#2b2b2b" stroke="#686868" stroke-width="1.15"/></g><circle cx="876.0" cy="349.8" r="1.7" fill="#acacac"/>
<g transform="translate(902.8,349.8) rotate(180)"><path d="M12.6,-8.4L12.6,8.4C12.6,10.2 11.8,10.6 10.0,10.1C4.8,9.1 1.4,5.3 1.4,0C1.4,-5.3 4.8,-9.1 10.0,-10.1C11.8,-10.6 12.6,-10.2 12.6,-8.4Z" fill="#2b2b2b" stroke="#686868" stroke-width="1.15"/></g><circle cx="902.8" cy="349.8" r="1.7" fill="#acacac"/>
<g transform="translate(929.6,349.8) rotate(270)"><path d="M10.5,-7.9L10.5,7.9C10.5,9.7 9.7,10.1 7.9,9.6C4.1,8.7 1.4,5.0 1.4,0C1.4,-5.0 4.1,-8.7 7.9,-9.6C9.7,-10.1 10.5,-9.7 10.5,-7.9Z" fill="#2b2b2b" stroke="#686868" stroke-width="1.15"/></g><circle cx="929.6" cy="349.8" r="1.7" fill="#acacac"/>
<g transform="translate(956.4,349.8) rotate(270)"><path d="M10.5,-7.9L10.5,7.9C10.5,9.7 9.7,10.1 7.9,9.6C4.1,8.7 1.4,5.0 1.4,0C1.4,-5.0 4.1,-8.7 7.9,-9.6C9.7,-10.1 10.5,-9.7 10.5,-7.9Z" fill="#2b2b2b" stroke="#686868" stroke-width="1.15"/></g><circle cx="956.4" cy="349.8" r="1.7" fill="#acacac"/>
<g transform="translate(983.2,349.8) rotate(0)"><path d="M12.6,-8.4L12.6,8.4C12.6,10.2 11.8,10.6 10.0,10.1C4.8,9.1 1.4,5.3 1.4,0C1.4,-5.3 4.8,-9.1 10.0,-10.1C11.8,-10.6 12.6,-10.2 12.6,-8.4Z" fill="#2b2b2b" stroke="#686868" stroke-width="1.15"/></g><circle cx="983.2" cy="349.8" r="1.7" fill="#acacac"/>
<g transform="translate(742.0,376.6) rotate(180)"><path d="M9.8,-8.1L9.8,8.1C9.8,9.8 9.0,10.2 7.2,9.8C3.9,8.8 1.4,5.1 1.4,0C1.4,-5.1 3.9,-8.8 7.2,-9.8C9.0,-10.2 9.8,-9.8 9.8,-8.1Z" fill="#2b2b2b" stroke="#686868" stroke-width="1.15"/></g><circle cx="742.0" cy="376.6" r="1.7" fill="#acacac"/>
<g transform="translate(768.8,376.6) rotate(180)"><path d="M10.6,-8.1L10.6,8.1C10.6,9.8 9.8,10.2 8.0,9.8C4.2,8.8 1.4,5.1 1.4,0C1.4,-5.1 4.2,-8.8 8.0,-9.8C9.8,-10.2 10.6,-9.8 10.6,-8.1Z" fill="#2b2b2b" stroke="#686868" stroke-width="1.15"/></g><circle cx="768.8" cy="376.6" r="1.7" fill="#acacac"/>
<g transform="translate(795.6,376.6) rotate(270)"><path d="M10.5,-7.9L10.5,7.9C10.5,9.7 9.7,10.1 7.9,9.6C4.1,8.7 1.4,5.0 1.4,0C1.4,-5.0 4.1,-8.7 7.9,-9.6C9.7,-10.1 10.5,-9.7 10.5,-7.9Z" fill="#2b2b2b" stroke="#686868" stroke-width="1.15"/></g><circle cx="795.6" cy="376.6" r="1.7" fill="#acacac"/>
<g transform="translate(822.4,376.6) rotate(0)"><path d="M11.2,-8.1L11.2,8.1C11.2,9.8 10.4,10.2 8.6,9.8C4.3,8.8 1.4,5.1 1.4,0C1.4,-5.1 4.3,-8.8 8.6,-9.8C10.4,-10.2 11.2,-9.8 11.2,-8.1Z" fill="#2b2b2b" stroke="#686868" stroke-width="1.15"/></g><circle cx="822.4" cy="376.6" r="1.7" fill="#acacac"/>
<g transform="translate(849.2,376.6) rotate(0)"><path d="M12.6,-8.4L12.6,8.4C12.6,10.2 11.8,10.6 10.0,10.1C4.8,9.1 1.4,5.3 1.4,0C1.4,-5.3 4.8,-9.1 10.0,-10.1C11.8,-10.6 12.6,-10.2 12.6,-8.4Z" fill="#2b2b2b" stroke="#686868" stroke-width="1.15"/></g><circle cx="849.2" cy="376.6" r="1.7" fill="#acacac"/>
<g transform="translate(876.0,376.6) rotate(180)"><path d="M12.6,-8.4L12.6,8.4C12.6,10.2 11.8,10.6 10.0,10.1C4.8,9.1 1.4,5.3 1.4,0C1.4,-5.3 4.8,-9.1 10.0,-10.1C11.8,-10.6 12.6,-10.2 12.6,-8.4Z" fill="#2b2b2b" stroke="#686868" stroke-width="1.15"/></g><circle cx="876.0" cy="376.6" r="1.7" fill="#acacac"/>
<g transform="translate(902.8,376.6) rotate(180)"><path d="M12.6,-8.4L12.6,8.4C12.6,10.2 11.8,10.6 10.0,10.1C4.8,9.1 1.4,5.3 1.4,0C1.4,-5.3 4.8,-9.1 10.0,-10.1C11.8,-10.6 12.6,-10.2 12.6,-8.4Z" fill="#2b2b2b" stroke="#686868" stroke-width="1.15"/></g><circle cx="902.8" cy="376.6" r="1.7" fill="#acacac"/>
<g transform="translate(929.6,376.6) rotate(270)"><path d="M10.5,-7.9L10.5,7.9C10.5,9.7 9.7,10.1 7.9,9.6C4.1,8.7 1.4,5.0 1.4,0C1.4,-5.0 4.1,-8.7 7.9,-9.6C9.7,-10.1 10.5,-9.7 10.5,-7.9Z" fill="#2b2b2b" stroke="#686868" stroke-width="1.15"/></g><circle cx="929.6" cy="376.6" r="1.7" fill="#acacac"/>
<g transform="translate(956.4,376.6) rotate(0)"><path d="M12.6,-8.4L12.6,8.4C12.6,10.2 11.8,10.6 10.0,10.1C4.8,9.1 1.4,5.3 1.4,0C1.4,-5.3 4.8,-9.1 10.0,-10.1C11.8,-10.6 12.6,-10.2 12.6,-8.4Z" fill="#2b2b2b" stroke="#686868" stroke-width="1.15"/></g><circle cx="956.4" cy="376.6" r="1.7" fill="#acacac"/>
<g transform="translate(983.2,376.6) rotate(0)"><path d="M12.6,-8.4L12.6,8.4C12.6,10.2 11.8,10.6 10.0,10.1C4.8,9.1 1.4,5.3 1.4,0C1.4,-5.3 4.8,-9.1 10.0,-10.1C11.8,-10.6 12.6,-10.2 12.6,-8.4Z" fill="#2b2b2b" stroke="#686868" stroke-width="1.15"/></g><circle cx="983.2" cy="376.6" r="1.7" fill="#acacac"/>
<g transform="translate(742.0,403.4) rotate(180)"><path d="M9.8,-8.1L9.8,8.1C9.8,9.8 9.0,10.2 7.2,9.8C3.9,8.8 1.4,5.1 1.4,0C1.4,-5.1 3.9,-8.8 7.2,-9.8C9.0,-10.2 9.8,-9.8 9.8,-8.1Z" fill="#2b2b2b" stroke="#686868" stroke-width="1.15"/></g><circle cx="742.0" cy="403.4" r="1.7" fill="#acacac"/>
<g transform="translate(768.8,403.4) rotate(180)"><path d="M10.6,-8.1L10.6,8.1C10.6,9.8 9.8,10.2 8.0,9.8C4.2,8.8 1.4,5.1 1.4,0C1.4,-5.1 4.2,-8.8 8.0,-9.8C9.8,-10.2 10.6,-9.8 10.6,-8.1Z" fill="#2b2b2b" stroke="#686868" stroke-width="1.15"/></g><circle cx="768.8" cy="403.4" r="1.7" fill="#acacac"/>
<g transform="translate(795.6,403.4) rotate(270)"><path d="M10.5,-7.9L10.5,7.9C10.5,9.7 9.7,10.1 7.9,9.6C4.1,8.7 1.4,5.0 1.4,0C1.4,-5.0 4.1,-8.7 7.9,-9.6C9.7,-10.1 10.5,-9.7 10.5,-7.9Z" fill="#2b2b2b" stroke="#686868" stroke-width="1.15"/></g><circle cx="795.6" cy="403.4" r="1.7" fill="#acacac"/>
<g transform="translate(822.4,403.4) rotate(0)"><path d="M11.2,-8.1L11.2,8.1C11.2,9.8 10.4,10.2 8.6,9.8C4.3,8.8 1.4,5.1 1.4,0C1.4,-5.1 4.3,-8.8 8.6,-9.8C10.4,-10.2 11.2,-9.8 11.2,-8.1Z" fill="#2b2b2b" stroke="#686868" stroke-width="1.15"/></g><circle cx="822.4" cy="403.4" r="1.7" fill="#acacac"/>
<g transform="translate(849.2,403.4) rotate(0)"><path d="M12.6,-8.4L12.6,8.4C12.6,10.2 11.8,10.6 10.0,10.1C4.8,9.1 1.4,5.3 1.4,0C1.4,-5.3 4.8,-9.1 10.0,-10.1C11.8,-10.6 12.6,-10.2 12.6,-8.4Z" fill="#2b2b2b" stroke="#686868" stroke-width="1.15"/></g><circle cx="849.2" cy="403.4" r="1.7" fill="#acacac"/>
<g transform="translate(876.0,403.4) rotate(180)"><path d="M12.6,-8.4L12.6,8.4C12.6,10.2 11.8,10.6 10.0,10.1C4.8,9.1 1.4,5.3 1.4,0C1.4,-5.3 4.8,-9.1 10.0,-10.1C11.8,-10.6 12.6,-10.2 12.6,-8.4Z" fill="#2b2b2b" stroke="#686868" stroke-width="1.15"/></g><circle cx="876.0" cy="403.4" r="1.7" fill="#acacac"/>
<g transform="translate(902.8,403.4) rotate(180)"><path d="M12.6,-8.4L12.6,8.4C12.6,10.2 11.8,10.6 10.0,10.1C4.8,9.1 1.4,5.3 1.4,0C1.4,-5.3 4.8,-9.1 10.0,-10.1C11.8,-10.6 12.6,-10.2 12.6,-8.4Z" fill="#2b2b2b" stroke="#686868" stroke-width="1.15"/></g><circle cx="902.8" cy="403.4" r="1.7" fill="#acacac"/>
<g transform="translate(929.6,403.4) rotate(270)"><path d="M10.5,-7.9L10.5,7.9C10.5,9.7 9.7,10.1 7.9,9.6C4.1,8.7 1.4,5.0 1.4,0C1.4,-5.0 4.1,-8.7 7.9,-9.6C9.7,-10.1 10.5,-9.7 10.5,-7.9Z" fill="#2b2b2b" stroke="#686868" stroke-width="1.15"/></g><circle cx="929.6" cy="403.4" r="1.7" fill="#acacac"/>
<g transform="translate(956.4,403.4) rotate(0)"><path d="M12.6,-8.4L12.6,8.4C12.6,10.2 11.8,10.6 10.0,10.1C4.8,9.1 1.4,5.3 1.4,0C1.4,-5.3 4.8,-9.1 10.0,-10.1C11.8,-10.6 12.6,-10.2 12.6,-8.4Z" fill="#2b2b2b" stroke="#686868" stroke-width="1.15"/></g><circle cx="956.4" cy="403.4" r="1.7" fill="#acacac"/>
<g transform="translate(983.2,403.4) rotate(0)"><path d="M12.6,-8.4L12.6,8.4C12.6,10.2 11.8,10.6 10.0,10.1C4.8,9.1 1.4,5.3 1.4,0C1.4,-5.3 4.8,-9.1 10.0,-10.1C11.8,-10.6 12.6,-10.2 12.6,-8.4Z" fill="#2b2b2b" stroke="#686868" stroke-width="1.15"/></g><circle cx="983.2" cy="403.4" r="1.7" fill="#acacac"/>
<g transform="translate(742.0,430.2) rotate(180)"><path d="M9.8,-8.1L9.8,8.1C9.8,9.8 9.0,10.2 7.2,9.8C3.9,8.8 1.4,5.1 1.4,0C1.4,-5.1 3.9,-8.8 7.2,-9.8C9.0,-10.2 9.8,-9.8 9.8,-8.1Z" fill="#2b2b2b" stroke="#686868" stroke-width="1.15"/></g><circle cx="742.0" cy="430.2" r="1.7" fill="#acacac"/>
<g transform="translate(768.8,430.2) rotate(180)"><path d="M10.6,-8.1L10.6,8.1C10.6,9.8 9.8,10.2 8.0,9.8C4.2,8.8 1.4,5.1 1.4,0C1.4,-5.1 4.2,-8.8 8.0,-9.8C9.8,-10.2 10.6,-9.8 10.6,-8.1Z" fill="#2b2b2b" stroke="#686868" stroke-width="1.15"/></g><circle cx="768.8" cy="430.2" r="1.7" fill="#acacac"/>
<g transform="translate(795.6,430.2) rotate(270)"><path d="M10.5,-7.9L10.5,7.9C10.5,9.7 9.7,10.1 7.9,9.6C4.1,8.7 1.4,5.0 1.4,0C1.4,-5.0 4.1,-8.7 7.9,-9.6C9.7,-10.1 10.5,-9.7 10.5,-7.9Z" fill="#2b2b2b" stroke="#686868" stroke-width="1.15"/></g><circle cx="795.6" cy="430.2" r="1.7" fill="#acacac"/>
<g transform="translate(822.4,430.2) rotate(0)"><path d="M11.2,-8.1L11.2,8.1C11.2,9.8 10.4,10.2 8.6,9.8C4.3,8.8 1.4,5.1 1.4,0C1.4,-5.1 4.3,-8.8 8.6,-9.8C10.4,-10.2 11.2,-9.8 11.2,-8.1Z" fill="#2b2b2b" stroke="#686868" stroke-width="1.15"/></g><circle cx="822.4" cy="430.2" r="1.7" fill="#acacac"/>
<g transform="translate(849.2,430.2) rotate(0)"><path d="M12.6,-8.4L12.6,8.4C12.6,10.2 11.8,10.6 10.0,10.1C4.8,9.1 1.4,5.3 1.4,0C1.4,-5.3 4.8,-9.1 10.0,-10.1C11.8,-10.6 12.6,-10.2 12.6,-8.4Z" fill="#2b2b2b" stroke="#686868" stroke-width="1.15"/></g><circle cx="849.2" cy="430.2" r="1.7" fill="#acacac"/>
<g transform="translate(876.0,430.2) rotate(180)"><path d="M12.6,-8.4L12.6,8.4C12.6,10.2 11.8,10.6 10.0,10.1C4.8,9.1 1.4,5.3 1.4,0C1.4,-5.3 4.8,-9.1 10.0,-10.1C11.8,-10.6 12.6,-10.2 12.6,-8.4Z" fill="#2b2b2b" stroke="#686868" stroke-width="1.15"/></g><circle cx="876.0" cy="430.2" r="1.7" fill="#acacac"/>
<g transform="translate(902.8,430.2) rotate(180)"><path d="M12.6,-8.4L12.6,8.4C12.6,10.2 11.8,10.6 10.0,10.1C4.8,9.1 1.4,5.3 1.4,0C1.4,-5.3 4.8,-9.1 10.0,-10.1C11.8,-10.6 12.6,-10.2 12.6,-8.4Z" fill="#2b2b2b" stroke="#686868" stroke-width="1.15"/></g><circle cx="902.8" cy="430.2" r="1.7" fill="#acacac"/>
<g transform="translate(929.6,430.2) rotate(270)"><path d="M10.5,-7.9L10.5,7.9C10.5,9.7 9.7,10.1 7.9,9.6C4.1,8.7 1.4,5.0 1.4,0C1.4,-5.0 4.1,-8.7 7.9,-9.6C9.7,-10.1 10.5,-9.7 10.5,-7.9Z" fill="#2b2b2b" stroke="#686868" stroke-width="1.15"/></g><circle cx="929.6" cy="430.2" r="1.7" fill="#acacac"/>
<g transform="translate(956.4,430.2) rotate(0)"><path d="M12.6,-8.4L12.6,8.4C12.6,10.2 11.8,10.6 10.0,10.1C4.8,9.1 1.4,5.3 1.4,0C1.4,-5.3 4.8,-9.1 10.0,-10.1C11.8,-10.6 12.6,-10.2 12.6,-8.4Z" fill="#2b2b2b" stroke="#686868" stroke-width="1.15"/></g><circle cx="956.4" cy="430.2" r="1.7" fill="#acacac"/>
<g transform="translate(983.2,430.2) rotate(0)"><path d="M12.6,-8.4L12.6,8.4C12.6,10.2 11.8,10.6 10.0,10.1C4.8,9.1 1.4,5.3 1.4,0C1.4,-5.3 4.8,-9.1 10.0,-10.1C11.8,-10.6 12.6,-10.2 12.6,-8.4Z" fill="#2b2b2b" stroke="#686868" stroke-width="1.15"/></g><circle cx="983.2" cy="430.2" r="1.7" fill="#acacac"/>
<g transform="translate(742.0,457.0) rotate(180)"><path d="M9.8,-8.1L9.8,8.1C9.8,9.8 9.0,10.2 7.2,9.8C3.9,8.8 1.4,5.1 1.4,0C1.4,-5.1 3.9,-8.8 7.2,-9.8C9.0,-10.2 9.8,-9.8 9.8,-8.1Z" fill="#2b2b2b" stroke="#686868" stroke-width="1.15"/></g><circle cx="742.0" cy="457.0" r="1.7" fill="#acacac"/>
<g transform="translate(768.8,457.0) rotate(180)"><path d="M10.6,-8.1L10.6,8.1C10.6,9.8 9.8,10.2 8.0,9.8C4.2,8.8 1.4,5.1 1.4,0C1.4,-5.1 4.2,-8.8 8.0,-9.8C9.8,-10.2 10.6,-9.8 10.6,-8.1Z" fill="#2b2b2b" stroke="#686868" stroke-width="1.15"/></g><circle cx="768.8" cy="457.0" r="1.7" fill="#acacac"/>
<g transform="translate(795.6,457.0) rotate(90)"><path d="M10.5,-7.9L10.5,7.9C10.5,9.7 9.7,10.1 7.9,9.6C4.1,8.7 1.4,5.0 1.4,0C1.4,-5.0 4.1,-8.7 7.9,-9.6C9.7,-10.1 10.5,-9.7 10.5,-7.9Z" fill="#2b2b2b" stroke="#686868" stroke-width="1.15"/></g><circle cx="795.6" cy="457.0" r="1.7" fill="#acacac"/>
<g transform="translate(822.4,457.0) rotate(0)"><path d="M11.2,-8.1L11.2,8.1C11.2,9.8 10.4,10.2 8.6,9.8C4.3,8.8 1.4,5.1 1.4,0C1.4,-5.1 4.3,-8.8 8.6,-9.8C10.4,-10.2 11.2,-9.8 11.2,-8.1Z" fill="#2b2b2b" stroke="#686868" stroke-width="1.15"/></g><circle cx="822.4" cy="457.0" r="1.7" fill="#acacac"/>
<g transform="translate(849.2,457.0) rotate(0)"><path d="M12.6,-8.4L12.6,8.4C12.6,10.2 11.8,10.6 10.0,10.1C4.8,9.1 1.4,5.3 1.4,0C1.4,-5.3 4.8,-9.1 10.0,-10.1C11.8,-10.6 12.6,-10.2 12.6,-8.4Z" fill="#2b2b2b" stroke="#686868" stroke-width="1.15"/></g><circle cx="849.2" cy="457.0" r="1.7" fill="#acacac"/>
<g transform="translate(876.0,457.0) rotate(180)"><path d="M12.6,-8.4L12.6,8.4C12.6,10.2 11.8,10.6 10.0,10.1C4.8,9.1 1.4,5.3 1.4,0C1.4,-5.3 4.8,-9.1 10.0,-10.1C11.8,-10.6 12.6,-10.2 12.6,-8.4Z" fill="#2b2b2b" stroke="#686868" stroke-width="1.15"/></g><circle cx="876.0" cy="457.0" r="1.7" fill="#acacac"/>
<g transform="translate(902.8,457.0) rotate(180)"><path d="M12.6,-8.4L12.6,8.4C12.6,10.2 11.8,10.6 10.0,10.1C4.8,9.1 1.4,5.3 1.4,0C1.4,-5.3 4.8,-9.1 10.0,-10.1C11.8,-10.6 12.6,-10.2 12.6,-8.4Z" fill="#2b2b2b" stroke="#686868" stroke-width="1.15"/></g><circle cx="902.8" cy="457.0" r="1.7" fill="#acacac"/>
<g transform="translate(929.6,457.0) rotate(90)"><path d="M10.5,-7.9L10.5,7.9C10.5,9.7 9.7,10.1 7.9,9.6C4.1,8.7 1.4,5.0 1.4,0C1.4,-5.0 4.1,-8.7 7.9,-9.6C9.7,-10.1 10.5,-9.7 10.5,-7.9Z" fill="#2b2b2b" stroke="#686868" stroke-width="1.15"/></g><circle cx="929.6" cy="457.0" r="1.7" fill="#acacac"/>
<g transform="translate(956.4,457.0) rotate(0)"><path d="M12.6,-8.4L12.6,8.4C12.6,10.2 11.8,10.6 10.0,10.1C4.8,9.1 1.4,5.3 1.4,0C1.4,-5.3 4.8,-9.1 10.0,-10.1C11.8,-10.6 12.6,-10.2 12.6,-8.4Z" fill="#2b2b2b" stroke="#686868" stroke-width="1.15"/></g><circle cx="956.4" cy="457.0" r="1.7" fill="#acacac"/>
<g transform="translate(983.2,457.0) rotate(0)"><path d="M12.6,-8.4L12.6,8.4C12.6,10.2 11.8,10.6 10.0,10.1C4.8,9.1 1.4,5.3 1.4,0C1.4,-5.3 4.8,-9.1 10.0,-10.1C11.8,-10.6 12.6,-10.2 12.6,-8.4Z" fill="#2b2b2b" stroke="#686868" stroke-width="1.15"/></g><circle cx="983.2" cy="457.0" r="1.7" fill="#acacac"/>
<g transform="translate(742.0,483.8) rotate(180)"><path d="M9.8,-8.1L9.8,8.1C9.8,9.8 9.0,10.2 7.2,9.8C3.9,8.8 1.4,5.1 1.4,0C1.4,-5.1 3.9,-8.8 7.2,-9.8C9.0,-10.2 9.8,-9.8 9.8,-8.1Z" fill="#2b2b2b" stroke="#686868" stroke-width="1.15"/></g><circle cx="742.0" cy="483.8" r="1.7" fill="#acacac"/>
<g transform="translate(768.8,483.8) rotate(180)"><path d="M10.6,-8.1L10.6,8.1C10.6,9.8 9.8,10.2 8.0,9.8C4.2,8.8 1.4,5.1 1.4,0C1.4,-5.1 4.2,-8.8 8.0,-9.8C9.8,-10.2 10.6,-9.8 10.6,-8.1Z" fill="#2b2b2b" stroke="#686868" stroke-width="1.15"/></g><circle cx="768.8" cy="483.8" r="1.7" fill="#acacac"/>
<g transform="translate(795.6,483.8) rotate(90)"><path d="M10.5,-7.9L10.5,7.9C10.5,9.7 9.7,10.1 7.9,9.6C4.1,8.7 1.4,5.0 1.4,0C1.4,-5.0 4.1,-8.7 7.9,-9.6C9.7,-10.1 10.5,-9.7 10.5,-7.9Z" fill="#2b2b2b" stroke="#686868" stroke-width="1.15"/></g><circle cx="795.6" cy="483.8" r="1.7" fill="#acacac"/>
<g transform="translate(822.4,483.8) rotate(0)"><path d="M11.2,-8.1L11.2,8.1C11.2,9.8 10.4,10.2 8.6,9.8C4.3,8.8 1.4,5.1 1.4,0C1.4,-5.1 4.3,-8.8 8.6,-9.8C10.4,-10.2 11.2,-9.8 11.2,-8.1Z" fill="#2b2b2b" stroke="#686868" stroke-width="1.15"/></g><circle cx="822.4" cy="483.8" r="1.7" fill="#acacac"/>
<g transform="translate(849.2,483.8) rotate(0)"><path d="M12.6,-8.4L12.6,8.4C12.6,10.2 11.8,10.6 10.0,10.1C4.8,9.1 1.4,5.3 1.4,0C1.4,-5.3 4.8,-9.1 10.0,-10.1C11.8,-10.6 12.6,-10.2 12.6,-8.4Z" fill="#2b2b2b" stroke="#686868" stroke-width="1.15"/></g><circle cx="849.2" cy="483.8" r="1.7" fill="#acacac"/>
<g transform="translate(876.0,483.8) rotate(180)"><path d="M12.6,-8.4L12.6,8.4C12.6,10.2 11.8,10.6 10.0,10.1C4.8,9.1 1.4,5.3 1.4,0C1.4,-5.3 4.8,-9.1 10.0,-10.1C11.8,-10.6 12.6,-10.2 12.6,-8.4Z" fill="#2b2b2b" stroke="#686868" stroke-width="1.15"/></g><circle cx="876.0" cy="483.8" r="1.7" fill="#acacac"/>
<g transform="translate(902.8,483.8) rotate(180)"><path d="M12.6,-8.4L12.6,8.4C12.6,10.2 11.8,10.6 10.0,10.1C4.8,9.1 1.4,5.3 1.4,0C1.4,-5.3 4.8,-9.1 10.0,-10.1C11.8,-10.6 12.6,-10.2 12.6,-8.4Z" fill="#2b2b2b" stroke="#686868" stroke-width="1.15"/></g><circle cx="902.8" cy="483.8" r="1.7" fill="#acacac"/>
<g transform="translate(929.6,483.8) rotate(90)"><path d="M10.5,-7.9L10.5,7.9C10.5,9.7 9.7,10.1 7.9,9.6C4.1,8.7 1.4,5.0 1.4,0C1.4,-5.0 4.1,-8.7 7.9,-9.6C9.7,-10.1 10.5,-9.7 10.5,-7.9Z" fill="#2b2b2b" stroke="#686868" stroke-width="1.15"/></g><circle cx="929.6" cy="483.8" r="1.7" fill="#acacac"/>
<g transform="translate(956.4,483.8) rotate(0)"><path d="M12.6,-8.4L12.6,8.4C12.6,10.2 11.8,10.6 10.0,10.1C4.8,9.1 1.4,5.3 1.4,0C1.4,-5.3 4.8,-9.1 10.0,-10.1C11.8,-10.6 12.6,-10.2 12.6,-8.4Z" fill="#2b2b2b" stroke="#686868" stroke-width="1.15"/></g><circle cx="956.4" cy="483.8" r="1.7" fill="#acacac"/>
<g transform="translate(983.2,483.8) rotate(0)"><path d="M12.6,-8.4L12.6,8.4C12.6,10.2 11.8,10.6 10.0,10.1C4.8,9.1 1.4,5.3 1.4,0C1.4,-5.3 4.8,-9.1 10.0,-10.1C11.8,-10.6 12.6,-10.2 12.6,-8.4Z" fill="#2b2b2b" stroke="#686868" stroke-width="1.15"/></g><circle cx="983.2" cy="483.8" r="1.7" fill="#acacac"/>
<g transform="translate(742.0,510.6) rotate(180)"><path d="M9.8,-8.1L9.8,8.1C9.8,9.8 9.0,10.2 7.2,9.8C3.9,8.8 1.4,5.1 1.4,0C1.4,-5.1 3.9,-8.8 7.2,-9.8C9.0,-10.2 9.8,-9.8 9.8,-8.1Z" fill="#2b2b2b" stroke="#686868" stroke-width="1.15"/></g><circle cx="742.0" cy="510.6" r="1.7" fill="#acacac"/>
<g transform="translate(768.8,510.6) rotate(180)"><path d="M10.6,-8.1L10.6,8.1C10.6,9.8 9.8,10.2 8.0,9.8C4.2,8.8 1.4,5.1 1.4,0C1.4,-5.1 4.2,-8.8 8.0,-9.8C9.8,-10.2 10.6,-9.8 10.6,-8.1Z" fill="#2b2b2b" stroke="#686868" stroke-width="1.15"/></g><circle cx="768.8" cy="510.6" r="1.7" fill="#acacac"/>
<g transform="translate(795.6,510.6) rotate(90)"><path d="M10.5,-7.9L10.5,7.9C10.5,9.7 9.7,10.1 7.9,9.6C4.1,8.7 1.4,5.0 1.4,0C1.4,-5.0 4.1,-8.7 7.9,-9.6C9.7,-10.1 10.5,-9.7 10.5,-7.9Z" fill="#2b2b2b" stroke="#686868" stroke-width="1.15"/></g><circle cx="795.6" cy="510.6" r="1.7" fill="#acacac"/>
<g transform="translate(822.4,510.6) rotate(0)"><path d="M11.2,-8.1L11.2,8.1C11.2,9.8 10.4,10.2 8.6,9.8C4.3,8.8 1.4,5.1 1.4,0C1.4,-5.1 4.3,-8.8 8.6,-9.8C10.4,-10.2 11.2,-9.8 11.2,-8.1Z" fill="#2b2b2b" stroke="#686868" stroke-width="1.15"/></g><circle cx="822.4" cy="510.6" r="1.7" fill="#acacac"/>
<g transform="translate(849.2,510.6) rotate(0)"><path d="M12.6,-8.4L12.6,8.4C12.6,10.2 11.8,10.6 10.0,10.1C4.8,9.1 1.4,5.3 1.4,0C1.4,-5.3 4.8,-9.1 10.0,-10.1C11.8,-10.6 12.6,-10.2 12.6,-8.4Z" fill="#2b2b2b" stroke="#686868" stroke-width="1.15"/></g><circle cx="849.2" cy="510.6" r="1.7" fill="#acacac"/>
<g transform="translate(876.0,510.6) rotate(180)"><path d="M12.6,-8.4L12.6,8.4C12.6,10.2 11.8,10.6 10.0,10.1C4.8,9.1 1.4,5.3 1.4,0C1.4,-5.3 4.8,-9.1 10.0,-10.1C11.8,-10.6 12.6,-10.2 12.6,-8.4Z" fill="#2b2b2b" stroke="#686868" stroke-width="1.15"/></g><circle cx="876.0" cy="510.6" r="1.7" fill="#acacac"/>
<g transform="translate(902.8,510.6) rotate(180)"><path d="M12.6,-8.4L12.6,8.4C12.6,10.2 11.8,10.6 10.0,10.1C4.8,9.1 1.4,5.3 1.4,0C1.4,-5.3 4.8,-9.1 10.0,-10.1C11.8,-10.6 12.6,-10.2 12.6,-8.4Z" fill="#2b2b2b" stroke="#686868" stroke-width="1.15"/></g><circle cx="902.8" cy="510.6" r="1.7" fill="#acacac"/>
<g transform="translate(929.6,510.6) rotate(90)"><path d="M10.5,-7.9L10.5,7.9C10.5,9.7 9.7,10.1 7.9,9.6C4.1,8.7 1.4,5.0 1.4,0C1.4,-5.0 4.1,-8.7 7.9,-9.6C9.7,-10.1 10.5,-9.7 10.5,-7.9Z" fill="#2b2b2b" stroke="#686868" stroke-width="1.15"/></g><circle cx="929.6" cy="510.6" r="1.7" fill="#acacac"/>
<g transform="translate(956.4,510.6) rotate(0)"><path d="M12.6,-8.4L12.6,8.4C12.6,10.2 11.8,10.6 10.0,10.1C4.8,9.1 1.4,5.3 1.4,0C1.4,-5.3 4.8,-9.1 10.0,-10.1C11.8,-10.6 12.6,-10.2 12.6,-8.4Z" fill="#2b2b2b" stroke="#686868" stroke-width="1.15"/></g><circle cx="956.4" cy="510.6" r="1.7" fill="#acacac"/>
<g transform="translate(983.2,510.6) rotate(0)"><path d="M12.6,-8.4L12.6,8.4C12.6,10.2 11.8,10.6 10.0,10.1C4.8,9.1 1.4,5.3 1.4,0C1.4,-5.3 4.8,-9.1 10.0,-10.1C11.8,-10.6 12.6,-10.2 12.6,-8.4Z" fill="#2b2b2b" stroke="#686868" stroke-width="1.15"/></g><circle cx="983.2" cy="510.6" r="1.7" fill="#acacac"/>
<g transform="translate(742.0,537.4) rotate(180)"><path d="M9.8,-8.1L9.8,8.1C9.8,9.8 9.0,10.2 7.2,9.8C3.9,8.8 1.4,5.1 1.4,0C1.4,-5.1 3.9,-8.8 7.2,-9.8C9.0,-10.2 9.8,-9.8 9.8,-8.1Z" fill="#2b2b2b" stroke="#686868" stroke-width="1.15"/></g><circle cx="742.0" cy="537.4" r="1.7" fill="#acacac"/>
<g transform="translate(768.8,537.4) rotate(180)"><path d="M10.6,-8.1L10.6,8.1C10.6,9.8 9.8,10.2 8.0,9.8C4.2,8.8 1.4,5.1 1.4,0C1.4,-5.1 4.2,-8.8 8.0,-9.8C9.8,-10.2 10.6,-9.8 10.6,-8.1Z" fill="#2b2b2b" stroke="#686868" stroke-width="1.15"/></g><circle cx="768.8" cy="537.4" r="1.7" fill="#acacac"/>
<g transform="translate(795.6,537.4) rotate(90)"><path d="M10.5,-7.9L10.5,7.9C10.5,9.7 9.7,10.1 7.9,9.6C4.1,8.7 1.4,5.0 1.4,0C1.4,-5.0 4.1,-8.7 7.9,-9.6C9.7,-10.1 10.5,-9.7 10.5,-7.9Z" fill="#2b2b2b" stroke="#686868" stroke-width="1.15"/></g><circle cx="795.6" cy="537.4" r="1.7" fill="#acacac"/>
<g transform="translate(822.4,537.4) rotate(90)"><path d="M10.5,-7.9L10.5,7.9C10.5,9.7 9.7,10.1 7.9,9.6C4.1,8.7 1.4,5.0 1.4,0C1.4,-5.0 4.1,-8.7 7.9,-9.6C9.7,-10.1 10.5,-9.7 10.5,-7.9Z" fill="#2b2b2b" stroke="#686868" stroke-width="1.15"/></g><circle cx="822.4" cy="537.4" r="1.7" fill="#acacac"/>
<g transform="translate(849.2,537.4) rotate(0)"><path d="M12.6,-8.4L12.6,8.4C12.6,10.2 11.8,10.6 10.0,10.1C4.8,9.1 1.4,5.3 1.4,0C1.4,-5.3 4.8,-9.1 10.0,-10.1C11.8,-10.6 12.6,-10.2 12.6,-8.4Z" fill="#2b2b2b" stroke="#686868" stroke-width="1.15"/></g><circle cx="849.2" cy="537.4" r="1.7" fill="#acacac"/>
<g transform="translate(876.0,537.4) rotate(180)"><path d="M12.6,-8.4L12.6,8.4C12.6,10.2 11.8,10.6 10.0,10.1C4.8,9.1 1.4,5.3 1.4,0C1.4,-5.3 4.8,-9.1 10.0,-10.1C11.8,-10.6 12.6,-10.2 12.6,-8.4Z" fill="#2b2b2b" stroke="#686868" stroke-width="1.15"/></g><circle cx="876.0" cy="537.4" r="1.7" fill="#acacac"/>
<g transform="translate(902.8,537.4) rotate(90)"><path d="M10.5,-7.9L10.5,7.9C10.5,9.7 9.7,10.1 7.9,9.6C4.1,8.7 1.4,5.0 1.4,0C1.4,-5.0 4.1,-8.7 7.9,-9.6C9.7,-10.1 10.5,-9.7 10.5,-7.9Z" fill="#2b2b2b" stroke="#686868" stroke-width="1.15"/></g><circle cx="902.8" cy="537.4" r="1.7" fill="#acacac"/>
<g transform="translate(929.6,537.4) rotate(90)"><path d="M10.5,-7.9L10.5,7.9C10.5,9.7 9.7,10.1 7.9,9.6C4.1,8.7 1.4,5.0 1.4,0C1.4,-5.0 4.1,-8.7 7.9,-9.6C9.7,-10.1 10.5,-9.7 10.5,-7.9Z" fill="#2b2b2b" stroke="#686868" stroke-width="1.15"/></g><circle cx="929.6" cy="537.4" r="1.7" fill="#acacac"/>
<g transform="translate(956.4,537.4) rotate(0)"><path d="M12.6,-8.4L12.6,8.4C12.6,10.2 11.8,10.6 10.0,10.1C4.8,9.1 1.4,5.3 1.4,0C1.4,-5.3 4.8,-9.1 10.0,-10.1C11.8,-10.6 12.6,-10.2 12.6,-8.4Z" fill="#2b2b2b" stroke="#686868" stroke-width="1.15"/></g><circle cx="956.4" cy="537.4" r="1.7" fill="#acacac"/>
<g transform="translate(983.2,537.4) rotate(0)"><path d="M12.6,-8.4L12.6,8.4C12.6,10.2 11.8,10.6 10.0,10.1C4.8,9.1 1.4,5.3 1.4,0C1.4,-5.3 4.8,-9.1 10.0,-10.1C11.8,-10.6 12.6,-10.2 12.6,-8.4Z" fill="#2b2b2b" stroke="#686868" stroke-width="1.15"/></g><circle cx="983.2" cy="537.4" r="1.7" fill="#acacac"/>
<g transform="translate(742.0,564.2) rotate(180)"><path d="M9.8,-8.1L9.8,8.1C9.8,9.8 9.0,10.2 7.2,9.8C3.9,8.8 1.4,5.1 1.4,0C1.4,-5.1 3.9,-8.8 7.2,-9.8C9.0,-10.2 9.8,-9.8 9.8,-8.1Z" fill="#2b2b2b" stroke="#686868" stroke-width="1.15"/></g><circle cx="742.0" cy="564.2" r="1.7" fill="#acacac"/>
<g transform="translate(768.8,564.2) rotate(90)"><path d="M10.5,-7.9L10.5,7.9C10.5,9.7 9.7,10.1 7.9,9.6C4.1,8.7 1.4,5.0 1.4,0C1.4,-5.0 4.1,-8.7 7.9,-9.6C9.7,-10.1 10.5,-9.7 10.5,-7.9Z" fill="#2b2b2b" stroke="#686868" stroke-width="1.15"/></g><circle cx="768.8" cy="564.2" r="1.7" fill="#acacac"/>
<g transform="translate(795.6,564.2) rotate(90)"><path d="M10.5,-7.9L10.5,7.9C10.5,9.7 9.7,10.1 7.9,9.6C4.1,8.7 1.4,5.0 1.4,0C1.4,-5.0 4.1,-8.7 7.9,-9.6C9.7,-10.1 10.5,-9.7 10.5,-7.9Z" fill="#2b2b2b" stroke="#686868" stroke-width="1.15"/></g><circle cx="795.6" cy="564.2" r="1.7" fill="#acacac"/>
<g transform="translate(822.4,564.2) rotate(90)"><path d="M10.5,-7.9L10.5,7.9C10.5,9.7 9.7,10.1 7.9,9.6C4.1,8.7 1.4,5.0 1.4,0C1.4,-5.0 4.1,-8.7 7.9,-9.6C9.7,-10.1 10.5,-9.7 10.5,-7.9Z" fill="#2b2b2b" stroke="#686868" stroke-width="1.15"/></g><circle cx="822.4" cy="564.2" r="1.7" fill="#acacac"/>
<g transform="translate(849.2,564.2) rotate(90)"><path d="M10.5,-7.9L10.5,7.9C10.5,9.7 9.7,10.1 7.9,9.6C4.1,8.7 1.4,5.0 1.4,0C1.4,-5.0 4.1,-8.7 7.9,-9.6C9.7,-10.1 10.5,-9.7 10.5,-7.9Z" fill="#2b2b2b" stroke="#686868" stroke-width="1.15"/></g><circle cx="849.2" cy="564.2" r="1.7" fill="#acacac"/>
<g transform="translate(876.0,564.2) rotate(90)"><path d="M10.5,-7.9L10.5,7.9C10.5,9.7 9.7,10.1 7.9,9.6C4.1,8.7 1.4,5.0 1.4,0C1.4,-5.0 4.1,-8.7 7.9,-9.6C9.7,-10.1 10.5,-9.7 10.5,-7.9Z" fill="#2b2b2b" stroke="#686868" stroke-width="1.15"/></g><circle cx="876.0" cy="564.2" r="1.7" fill="#acacac"/>
<g transform="translate(902.8,564.2) rotate(90)"><path d="M10.5,-7.9L10.5,7.9C10.5,9.7 9.7,10.1 7.9,9.6C4.1,8.7 1.4,5.0 1.4,0C1.4,-5.0 4.1,-8.7 7.9,-9.6C9.7,-10.1 10.5,-9.7 10.5,-7.9Z" fill="#2b2b2b" stroke="#686868" stroke-width="1.15"/></g><circle cx="902.8" cy="564.2" r="1.7" fill="#acacac"/>
<g transform="translate(929.6,564.2) rotate(90)"><path d="M10.5,-7.9L10.5,7.9C10.5,9.7 9.7,10.1 7.9,9.6C4.1,8.7 1.4,5.0 1.4,0C1.4,-5.0 4.1,-8.7 7.9,-9.6C9.7,-10.1 10.5,-9.7 10.5,-7.9Z" fill="#2b2b2b" stroke="#686868" stroke-width="1.15"/></g><circle cx="929.6" cy="564.2" r="1.7" fill="#acacac"/>
<g transform="translate(956.4,564.2) rotate(90)"><path d="M10.5,-7.9L10.5,7.9C10.5,9.7 9.7,10.1 7.9,9.6C4.1,8.7 1.4,5.0 1.4,0C1.4,-5.0 4.1,-8.7 7.9,-9.6C9.7,-10.1 10.5,-9.7 10.5,-7.9Z" fill="#2b2b2b" stroke="#686868" stroke-width="1.15"/></g><circle cx="956.4" cy="564.2" r="1.7" fill="#acacac"/>
<g transform="translate(983.2,564.2) rotate(0)"><path d="M12.6,-8.4L12.6,8.4C12.6,10.2 11.8,10.6 10.0,10.1C4.8,9.1 1.4,5.3 1.4,0C1.4,-5.3 4.8,-9.1 10.0,-10.1C11.8,-10.6 12.6,-10.2 12.6,-8.4Z" fill="#2b2b2b" stroke="#686868" stroke-width="1.15"/></g><circle cx="983.2" cy="564.2" r="1.7" fill="#acacac"/>
</g>
</g></g>
<rect x="712.7" y="303.6" width="63" height="62.3" fill="#fff"/>
<rect x="925.5" y="572.5" width="74.5" height="5.3" fill="#fff"/>
<text x="719.4" y="396.7" font-family='"Liberation Sans", Arial, sans-serif' font-weight="700" font-size="24" fill="#ffc000">TYPE-F</text>
</g>
<g id="icons" fill="none" stroke="#000">
<circle cx="36.9" cy="39.9" r="26.95" stroke-width="4.4"/>
<rect x="369.15" y="10.85" width="54.1" height="55.1" rx="2" stroke-width="3.7"/>
<path d="M744.1,8.2V66.8M715.5,38H771.7M734.1,8.2V27.9H717M752.6,8.2V27.9H770.2M717,46.6H734.1V66M770.2,46.6H752.6V66" stroke-width="3.7" stroke-linejoin="miter"/>
<path d="M44.2,307L69.2,359.6H19.2Z" stroke-width="4" stroke-linejoin="round"/>
<path d="M402.2,306.1L428,334.1L402.2,362L376.4,334.1Z" stroke-width="4.2" stroke-linejoin="round"/>
<rect x="716" y="308.1" width="26.2" height="54.3" rx="1.5" stroke-width="3.5"/>
<rect x="746.5" y="308.1" width="26.2" height="54.3" rx="1.5" stroke-width="3.5"/>
</g>
<text x="511.2" y="625.3" text-anchor="middle" font-family='"Liberation Serif", "Times New Roman", serif' font-size="26.3" fill="#000">(<tspan font-weight="700">a</tspan>)</text>
<text x="511.2" y="1135.2" text-anchor="middle" font-family='"Liberation Serif", "Times New Roman", serif' font-size="26.3" fill="#000">(<tspan font-weight="700">b</tspan>)</text>
<g id="chart">
<rect x="198.5" y="658.8" width="625.6" height="444.4" fill="#fff" stroke="#000" stroke-width="1.4"/>
<line x1="258.3" x2="806.2" y1="987.5" y2="987.5" stroke="#7c7cff" stroke-width="1.3"/>
<line x1="258.3" x2="806.2" y1="935.4" y2="935.4" stroke="#7c7cff" stroke-width="1.3"/>
<line x1="258.3" x2="806.2" y1="883.3" y2="883.3" stroke="#7c7cff" stroke-width="1.3"/>
<line x1="258.3" x2="806.2" y1="831.1" y2="831.1" stroke="#7c7cff" stroke-width="1.3"/>
<line x1="258.3" x2="806.2" y1="779.0" y2="779.0" stroke="#7c7cff" stroke-width="1.3"/>
<line x1="258.3" x2="806.2" y1="726.9" y2="726.9" stroke="#7c7cff" stroke-width="1.3"/>
<line x1="258.3" x2="264.8" y1="1039.6" y2="1039.6" stroke="#000" stroke-width="1.3"/>
<line x1="258.3" x2="262.1" y1="1022.2" y2="1022.2" stroke="#000" stroke-width="1.3"/>
<line x1="258.3" x2="262.1" y1="1004.9" y2="1004.9" stroke="#000" stroke-width="1.3"/>
<line x1="258.3" x2="264.8" y1="987.5" y2="987.5" stroke="#000" stroke-width="1.3"/>
<line x1="258.3" x2="262.1" y1="970.1" y2="970.1" stroke="#000" stroke-width="1.3"/>
<line x1="258.3" x2="262.1" y1="952.7" y2="952.7" stroke="#000" stroke-width="1.3"/>
<line x1="258.3" x2="264.8" y1="935.4" y2="935.4" stroke="#000" stroke-width="1.3"/>
<line x1="258.3" x2="262.1" y1="918.0" y2="918.0" stroke="#000" stroke-width="1.3"/>
<line x1="258.3" x2="262.1" y1="900.6" y2="900.6" stroke="#000" stroke-width="1.3"/>
<line x1="258.3" x2="264.8" y1="883.3" y2="883.3" stroke="#000" stroke-width="1.3"/>
<line x1="258.3" x2="262.1" y1="865.9" y2="865.9" stroke="#000" stroke-width="1.3"/>
<line x1="258.3" x2="262.1" y1="848.5" y2="848.5" stroke="#000" stroke-width="1.3"/>
<line x1="258.3" x2="264.8" y1="831.1" y2="831.1" stroke="#000" stroke-width="1.3"/>
<line x1="258.3" x2="262.1" y1="813.8" y2="813.8" stroke="#000" stroke-width="1.3"/>
<line x1="258.3" x2="262.1" y1="796.4" y2="796.4" stroke="#000" stroke-width="1.3"/>
<line x1="258.3" x2="264.8" y1="779.0" y2="779.0" stroke="#000" stroke-width="1.3"/>
<line x1="258.3" x2="262.1" y1="761.7" y2="761.7" stroke="#000" stroke-width="1.3"/>
<line x1="258.3" x2="262.1" y1="744.3" y2="744.3" stroke="#000" stroke-width="1.3"/>
<line x1="258.3" x2="264.8" y1="726.9" y2="726.9" stroke="#000" stroke-width="1.3"/>
<line x1="258.3" x2="262.1" y1="709.5" y2="709.5" stroke="#000" stroke-width="1.3"/>
<line x1="258.3" x2="262.1" y1="692.2" y2="692.2" stroke="#000" stroke-width="1.3"/>
<line x1="258.3" x2="264.8" y1="674.8" y2="674.8" stroke="#000" stroke-width="1.3"/>
<text x="254.0" y="1043.7" text-anchor="end" font-family='"Liberation Sans", Arial, sans-serif' font-size="14" fill="#000">0</text>
<text x="254.0" y="991.6" text-anchor="end" font-family='"Liberation Sans", Arial, sans-serif' font-size="14" fill="#000">30</text>
<text x="254.0" y="939.5" text-anchor="end" font-family='"Liberation Sans", Arial, sans-serif' font-size="14" fill="#000">60</text>
<text x="254.0" y="887.4" text-anchor="end" font-family='"Liberation Sans", Arial, sans-serif' font-size="14" fill="#000">90</text>
<text x="254.0" y="835.2" text-anchor="end" font-family='"Liberation Sans", Arial, sans-serif' font-size="14" fill="#000">120</text>
<text x="254.0" y="783.1" text-anchor="end" font-family='"Liberation Sans", Arial, sans-serif' font-size="14" fill="#000">150</text>
<text x="254.0" y="731.0" text-anchor="end" font-family='"Liberation Sans", Arial, sans-serif' font-size="14" fill="#000">180</text>
<text x="254.0" y="678.9" text-anchor="end" font-family='"Liberation Sans", Arial, sans-serif' font-size="14" fill="#000">210</text>
<rect x="276.30" y="711.3" width="20.95" height="328.3" fill="#ff8000" stroke="#000" stroke-width="1"/>
<rect x="297.25" y="739.1" width="20.95" height="300.5" fill="#ff0000" stroke="#000" stroke-width="1"/>
<rect x="318.20" y="735.6" width="20.95" height="304.0" fill="#0000ff" stroke="#000" stroke-width="1"/>
<rect x="339.15" y="718.2" width="20.95" height="321.4" fill="#ffff00" stroke="#000" stroke-width="1"/>
<rect x="360.10" y="728.7" width="20.95" height="310.9" fill="#00fa00" stroke="#000" stroke-width="1"/>
<rect x="381.05" y="723.4" width="20.95" height="316.2" fill="#00ffff" stroke="#000" stroke-width="1"/>
<rect x="402.00" y="789.5" width="20.95" height="250.1" fill="url(#hatch)" stroke="#000" stroke-width="1"/>
<path d="M286.8,733.5V688.3M283.5,733.5h6.6M283.5,688.3h6.6" stroke="#000" stroke-width="1.25" fill="none"/>
<path d="M307.7,759.4V717.9M304.4,759.4h6.6M304.4,717.9h6.6" stroke="#000" stroke-width="1.25" fill="none"/>
<path d="M328.7,757.3V713.0M325.4,757.3h6.6M325.4,713.0h6.6" stroke="#000" stroke-width="1.25" fill="none"/>
<path d="M349.6,738.7V696.9M346.3,738.7h6.6M346.3,696.9h6.6" stroke="#444" stroke-width="1.1" fill="none"/>
<path d="M370.6,742.7V713.9M367.3,742.7h6.6M367.3,713.9h6.6" stroke="#444" stroke-width="1.1" fill="none"/>
<path d="M391.5,750.0V696.3M388.2,750.0h6.6M388.2,696.3h6.6" stroke="#444" stroke-width="1.1" fill="none"/>
<path d="M412.5,817.2V761.0M409.2,817.2h6.6M409.2,761.0h6.6" stroke="#777" stroke-width="1.1" fill="none"/>
<text x="349.6" y="1060.2" text-anchor="middle" font-family='"Liberation Sans", Arial, sans-serif' font-size="17" fill="#000">PDMS</text>
<rect x="458.90" y="782.5" width="20.95" height="257.1" fill="#ff8000" stroke="#000" stroke-width="1"/>
<rect x="479.85" y="805.1" width="20.95" height="234.5" fill="#ff0000" stroke="#000" stroke-width="1"/>
<rect x="500.80" y="801.6" width="20.95" height="238.0" fill="#0000ff" stroke="#000" stroke-width="1"/>
<rect x="521.75" y="810.3" width="20.95" height="229.3" fill="#ffff00" stroke="#000" stroke-width="1"/>
<rect x="542.70" y="813.8" width="20.95" height="225.8" fill="#00fa00" stroke="#000" stroke-width="1"/>
<rect x="563.65" y="801.6" width="20.95" height="238.0" fill="#00ffff" stroke="#000" stroke-width="1"/>
<rect x="584.60" y="864.1" width="20.95" height="175.5" fill="url(#hatch)" stroke="#000" stroke-width="1"/>
<path d="M469.4,805.1V759.4M466.1,805.1h6.6M466.1,759.4h6.6" stroke="#000" stroke-width="1.25" fill="none"/>
<path d="M490.3,825.9V783.5M487.0,825.9h6.6M487.0,783.5h6.6" stroke="#000" stroke-width="1.25" fill="none"/>
<path d="M511.3,819.3V783.7M508.0,819.3h6.6M508.0,783.7h6.6" stroke="#000" stroke-width="1.25" fill="none"/>
<path d="M532.2,836.0V784.4M528.9,836.0h6.6M528.9,784.4h6.6" stroke="#444" stroke-width="1.1" fill="none"/>
<path d="M553.2,832.4V794.7M549.9,832.4h6.6M549.9,794.7h6.6" stroke="#444" stroke-width="1.1" fill="none"/>
<path d="M574.1,820.7V782.5M570.8,820.7h6.6M570.8,782.5h6.6" stroke="#444" stroke-width="1.1" fill="none"/>
<path d="M595.1,896.5V831.1M591.8,896.5h6.6M591.8,831.1h6.6" stroke="#777" stroke-width="1.1" fill="none"/>
<text x="532.2" y="1060.2" text-anchor="middle" font-family='"Liberation Sans", Arial, sans-serif' font-size="17" fill="#000">PVC film</text>
<rect x="641.80" y="893.7" width="20.95" height="145.9" fill="#ff8000" stroke="#000" stroke-width="1"/>
<rect x="662.75" y="904.1" width="20.95" height="135.5" fill="#ff0000" stroke="#000" stroke-width="1"/>
<rect x="683.70" y="909.3" width="20.95" height="130.3" fill="#0000ff" stroke="#000" stroke-width="1"/>
<rect x="704.65" y="897.2" width="20.95" height="142.4" fill="#ffff00" stroke="#000" stroke-width="1"/>
<rect x="725.60" y="912.8" width="20.95" height="126.8" fill="#00fa00" stroke="#000" stroke-width="1"/>
<rect x="746.55" y="902.4" width="20.95" height="137.2" fill="#00ffff" stroke="#000" stroke-width="1"/>
<rect x="767.50" y="940.6" width="20.95" height="99.0" fill="url(#hatch)" stroke="#000" stroke-width="1"/>
<path d="M652.3,909.5V877.7M649.0,909.5h6.6M649.0,877.7h6.6" stroke="#000" stroke-width="1.25" fill="none"/>
<path d="M673.2,921.1V886.9M669.9,921.1h6.6M669.9,886.9h6.6" stroke="#000" stroke-width="1.25" fill="none"/>
<path d="M694.2,927.4V891.6M690.9,927.4h6.6M690.9,891.6h6.6" stroke="#000" stroke-width="1.25" fill="none"/>
<path d="M715.1,914.2V880.3M711.8,914.2h6.6M711.8,880.3h6.6" stroke="#444" stroke-width="1.1" fill="none"/>
<path d="M736.1,928.8V897.2M732.8,928.8h6.6M732.8,897.2h6.6" stroke="#444" stroke-width="1.1" fill="none"/>
<path d="M757.0,918.5V885.5M753.7,918.5h6.6M753.7,885.5h6.6" stroke="#444" stroke-width="1.1" fill="none"/>
<path d="M778.0,958.0V923.2M774.7,958.0h6.6M774.7,923.2h6.6" stroke="#777" stroke-width="1.1" fill="none"/>
<text x="715.1" y="1060.2" text-anchor="middle" font-family='"Liberation Sans", Arial, sans-serif' font-size="17" fill="#000">Skin</text>
<rect x="258.3" y="674.8" width="547.9" height="364.8" fill="none" stroke="#000" stroke-width="1.5"/>
<line x1="440.6" x2="440.6" y1="1039.6" y2="1036.1" stroke="#000" stroke-width="1.3"/>
<line x1="623.4" x2="623.4" y1="1039.6" y2="1036.1" stroke="#000" stroke-width="1.3"/>
<text x="532.4" y="1083.2" text-anchor="middle" font-family='"Liberation Sans", Arial, sans-serif' font-size="21.3" fill="#000">Material under test</text>
<text transform="translate(221.2,861.4) rotate(-90)" text-anchor="middle" font-family='"Liberation Sans", Arial, sans-serif' font-size="21.4" fill="#000">Detaching Force (mN)</text>
<rect x="659.4" y="682.2" width="132.8" height="124.8" fill="#fff" stroke="#777" stroke-width="1"/>
<rect x="664.7" y="688.8" width="29.9" height="11" fill="#ff8000" stroke="#000" stroke-width="0.8"/>
<text x="699.2" y="698.7" font-family='"Liberation Sans", Arial, sans-serif' font-size="14" fill="#000">TYPE-A</text>
<rect x="664.7" y="706.0" width="29.9" height="11" fill="#ff0000" stroke="#000" stroke-width="0.8"/>
<text x="699.2" y="715.9" font-family='"Liberation Sans", Arial, sans-serif' font-size="14" fill="#000">TYPE-B</text>
<rect x="664.7" y="723.2" width="29.9" height="11" fill="#0000ff" stroke="#000" stroke-width="0.8"/>
<text x="699.2" y="733.1" font-family='"Liberation Sans", Arial, sans-serif' font-size="14" fill="#000">TYPE-C</text>
<rect x="664.7" y="740.4" width="29.9" height="11" fill="#ffff00" stroke="#000" stroke-width="0.8"/>
<text x="699.2" y="750.3" font-family='"Liberation Sans", Arial, sans-serif' font-size="14" fill="#000">TYPE-D</text>
<rect x="664.7" y="757.6" width="29.9" height="11" fill="#00fa00" stroke="#000" stroke-width="0.8"/>
<text x="699.2" y="767.5" font-family='"Liberation Sans", Arial, sans-serif' font-size="14" fill="#000">TYPE-E</text>
<rect x="664.7" y="774.8" width="29.9" height="11" fill="#00ffff" stroke="#000" stroke-width="0.8"/>
<text x="699.2" y="784.7" font-family='"Liberation Sans", Arial, sans-serif' font-size="14" fill="#000">TYPE-F</text>
<rect x="664.7" y="792.0" width="29.9" height="11" fill="url(#hatch)" stroke="#000" stroke-width="0.8"/>
<text x="699.2" y="801.9" font-family='"Liberation Sans", Arial, sans-serif' font-size="14" fill="#000">Without barbs</text>
</g>
</svg></body></html>
